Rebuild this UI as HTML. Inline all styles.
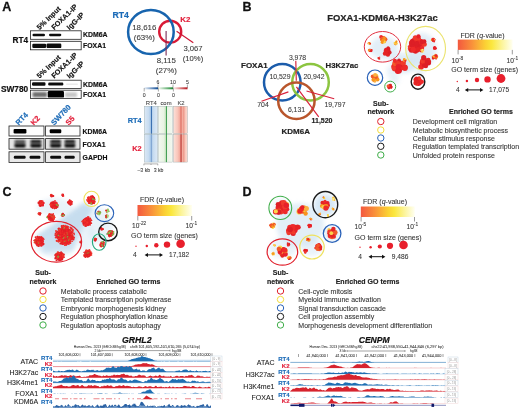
<!DOCTYPE html><html><head><meta charset="utf-8"><title>Figure</title><style>html,body{margin:0;padding:0;background:#fff}svg{display:block}text{font-family:"Liberation Sans", sans-serif}</style></head><body>
<svg width="520" height="408" viewBox="0 0 520 408">
<defs>
<filter id="b3" x="-20%" y="-50%" width="140%" height="200%"><feGaussianBlur stdDeviation="0.5"/></filter>
<filter id="b5" x="-20%" y="-50%" width="140%" height="200%"><feGaussianBlur stdDeviation="0.65"/></filter>
<filter id="b6" x="-20%" y="-50%" width="140%" height="200%"><feGaussianBlur stdDeviation="0.9"/></filter>
<filter id="hz" x="-30%" y="-30%" width="160%" height="160%"><feGaussianBlur stdDeviation="2.2"/></filter>
<filter id="soft" x="-30%" y="-30%" width="160%" height="160%"><feGaussianBlur stdDeviation="0.35"/></filter>
<linearGradient id="fdr" x1="0" x2="1" y1="0" y2="0"><stop offset="0" stop-color="#f3583f"/><stop offset="0.25" stop-color="#f98f3b"/><stop offset="0.5" stop-color="#fbd034"/><stop offset="0.62" stop-color="#fbe73e"/><stop offset="0.82" stop-color="#fcf5a0"/><stop offset="1" stop-color="#fffff2"/></linearGradient>
<linearGradient id="cbB" x1="0" x2="1"><stop offset="0" stop-color="#eef4fa"/><stop offset="1" stop-color="#0d4a94"/></linearGradient>
<linearGradient id="cbG" x1="0" x2="1"><stop offset="0" stop-color="#f2f9ef"/><stop offset="1" stop-color="#1c8a34"/></linearGradient>
<linearGradient id="cbR" x1="0" x2="1"><stop offset="0" stop-color="#fdeeea"/><stop offset="1" stop-color="#b5121b"/></linearGradient>
<linearGradient id="hmB" x1="0" x2="1"><stop offset="0" stop-color="#dde9f5"/><stop offset="0.35" stop-color="#c6dbf0"/><stop offset="0.5" stop-color="#9dc0e4"/><stop offset="0.65" stop-color="#c6dbf0"/><stop offset="1" stop-color="#dfeaf6"/></linearGradient>
<linearGradient id="hmG" x1="0" x2="1"><stop offset="0" stop-color="#f3f8f0"/><stop offset="0.4" stop-color="#e8f3e3"/><stop offset="0.5" stop-color="#c4e2bd"/><stop offset="0.6" stop-color="#e8f3e3"/><stop offset="1" stop-color="#f3f8f0"/></linearGradient>
<linearGradient id="hmR" x1="0" x2="1"><stop offset="0" stop-color="#fce1da"/><stop offset="0.3" stop-color="#f9c6ba"/><stop offset="0.52" stop-color="#f1a092"/><stop offset="0.75" stop-color="#f7baac"/><stop offset="1" stop-color="#fcdcd4"/></linearGradient>
</defs>
<rect width="520" height="408" fill="#fff"/>
<text x="2.3" y="11.1" font-size="12.5" font-weight="bold" fill="#111" text-anchor="start" stroke="#111" stroke-width="0.27">A</text>
<text x="242.4" y="11" font-size="12.5" font-weight="bold" fill="#111" text-anchor="start" stroke="#111" stroke-width="0.27">B</text>
<text x="2.5" y="195.7" font-size="12.5" font-weight="bold" fill="#111" text-anchor="start" stroke="#111" stroke-width="0.27">C</text>
<text x="242.5" y="195.9" font-size="12.5" font-weight="bold" fill="#111" text-anchor="start" stroke="#111" stroke-width="0.27">D</text>
<text x="39.6" y="30.2" font-size="7.2" font-weight="bold" fill="#111" text-anchor="start" stroke="#111" stroke-width="0.16" transform="rotate(-44 39.6 30.2)">5% Input</text>
<text x="54.2" y="30.2" font-size="7.2" font-weight="bold" fill="#111" text-anchor="start" stroke="#111" stroke-width="0.16" transform="rotate(-44 54.2 30.2)">FOXA1-IP</text>
<text x="69.6" y="30.2" font-size="7.2" font-weight="bold" fill="#111" text-anchor="start" stroke="#111" stroke-width="0.16" transform="rotate(-44 69.6 30.2)">IgG-IP</text>
<rect x="30.5" y="30.8" width="50.7" height="8.499999999999996" fill="#fff" stroke="#222" stroke-width="0.8"/>
<rect x="32.5" y="33.75" width="12.5" height="2.5" rx="1.2" fill="#111" opacity="1" filter="url(#b3)"/>
<rect x="49" y="33.85" width="12.299999999999997" height="2.3" rx="1.15" fill="#111" opacity="1" filter="url(#b3)"/>
<rect x="30.5" y="41.3" width="50.7" height="8.5" fill="#fff" stroke="#222" stroke-width="0.8"/>
<rect x="32.3" y="43.65" width="13.900000000000006" height="4.3" rx="1.2" fill="#111" opacity="1" filter="url(#b3)"/>
<rect x="46.6" y="43.5" width="14.699999999999996" height="4.6" rx="1.2" fill="#111" opacity="1" filter="url(#b3)"/>
<text x="83" y="37.4" font-size="6.9" font-weight="bold" fill="#111" text-anchor="start" stroke="#111" stroke-width="0.15">KDM6A</text>
<text x="83" y="48" font-size="6.9" font-weight="bold" fill="#111" text-anchor="start" stroke="#111" stroke-width="0.15">FOXA1</text>
<text x="28.2" y="43" font-size="8.3" font-weight="bold" fill="#111" text-anchor="end" stroke="#111" stroke-width="0.18">RT4</text>
<text x="39.6" y="78.8" font-size="7.2" font-weight="bold" fill="#111" text-anchor="start" stroke="#111" stroke-width="0.16" transform="rotate(-44 39.6 78.8)">5% Input</text>
<text x="54.2" y="78.8" font-size="7.2" font-weight="bold" fill="#111" text-anchor="start" stroke="#111" stroke-width="0.16" transform="rotate(-44 54.2 78.8)">FOXA1-IP</text>
<text x="69.6" y="78.8" font-size="7.2" font-weight="bold" fill="#111" text-anchor="start" stroke="#111" stroke-width="0.16" transform="rotate(-44 69.6 78.8)">IgG-IP</text>
<rect x="30.5" y="80.2" width="50.7" height="8.200000000000003" fill="#fff" stroke="#222" stroke-width="0.8"/>
<rect x="32" y="82.3" width="13.5" height="3.4" rx="1.2" fill="#111" opacity="1" filter="url(#b3)"/>
<rect x="48.2" y="82.5" width="15.099999999999994" height="3" rx="1.2" fill="#111" opacity="1" filter="url(#b3)"/>
<rect x="66" y="83.5" width="12" height="1.6" rx="0.8" fill="#999" opacity="0.2" filter="url(#b3)"/>
<rect x="30.5" y="90.2" width="50.7" height="8.299999999999997" fill="#fff" stroke="#222" stroke-width="0.8"/>
<rect x="32.5" y="91.89999999999999" width="14.5" height="5.4" rx="1.2" fill="#333" opacity="0.7" filter="url(#b6)"/>
<rect x="47.8" y="91.0" width="16.200000000000003" height="6.6" rx="1.2" fill="#050505" opacity="1" filter="url(#b5)"/>
<rect x="65" y="92.3" width="12" height="5" rx="1.2" fill="#999" opacity="0.55" filter="url(#b6)"/>
<text x="83" y="86.6" font-size="6.9" font-weight="bold" fill="#111" text-anchor="start" stroke="#111" stroke-width="0.15">KDM6A</text>
<text x="83" y="96.8" font-size="6.9" font-weight="bold" fill="#111" text-anchor="start" stroke="#111" stroke-width="0.15">FOXA1</text>
<text x="28.2" y="92" font-size="8.3" font-weight="bold" fill="#111" text-anchor="end" stroke="#111" stroke-width="0.18">SW780</text>
<text x="18.8" y="125.8" font-size="7.6" font-weight="bold" fill="#1d6cb8" text-anchor="start" stroke="#1d6cb8" stroke-width="0.17" transform="rotate(-47 18.8 125.8)">RT4</text>
<text x="33.8" y="125.8" font-size="7.6" font-weight="bold" fill="#e21f3a" text-anchor="start" stroke="#e21f3a" stroke-width="0.17" transform="rotate(-47 33.8 125.8)">K2</text>
<text x="54.3" y="125.8" font-size="7.6" font-weight="bold" fill="#1d6cb8" text-anchor="start" stroke="#1d6cb8" stroke-width="0.17" transform="rotate(-47 54.3 125.8)">SW780</text>
<text x="68.8" y="125.8" font-size="7.6" font-weight="bold" fill="#e21f3a" text-anchor="start" stroke="#e21f3a" stroke-width="0.17" transform="rotate(-47 68.8 125.8)">S5</text>
<rect x="9" y="126" width="35" height="10" fill="#fdfdfd" stroke="#222" stroke-width="0.8"/>
<rect x="45.6" y="126" width="34.4" height="10" fill="#fdfdfd" stroke="#222" stroke-width="0.8"/>
<rect x="13.6" y="128.89999999999998" width="12.799999999999999" height="4.6" rx="1.2" fill="#050505" opacity="1" filter="url(#b3)"/>
<rect x="49.7" y="129.2" width="11.599999999999994" height="4" rx="1.2" fill="#050505" opacity="1" filter="url(#b3)"/>
<rect x="9" y="138.6" width="35" height="10.599999999999994" fill="#e4e4e4" stroke="#222" stroke-width="0.8"/>
<rect x="45.6" y="138.6" width="34.4" height="10.599999999999994" fill="#e4e4e4" stroke="#222" stroke-width="0.8"/>
<rect x="14.5" y="140.0" width="11.0" height="3.0" rx="1.2" fill="#111" opacity="0.7" filter="url(#b6)"/>
<rect x="14.5" y="143.7" width="11.0" height="3.8" rx="1.2" fill="#050505" opacity="1" filter="url(#b6)"/>
<rect x="15.0" y="142.4" width="10.0" height="2.4" rx="1.2" fill="#333" opacity="0.7" filter="url(#b6)"/>
<rect x="30.5" y="140.0" width="10.799999999999997" height="3.0" rx="1.2" fill="#111" opacity="1" filter="url(#b6)"/>
<rect x="30.5" y="143.7" width="10.799999999999997" height="3.8" rx="1.2" fill="#050505" opacity="1" filter="url(#b6)"/>
<rect x="31.0" y="142.4" width="9.799999999999997" height="2.4" rx="1.2" fill="#333" opacity="0.7" filter="url(#b6)"/>
<rect x="50.3" y="140.0" width="10.700000000000003" height="3.0" rx="1.2" fill="#111" opacity="1" filter="url(#b6)"/>
<rect x="50.3" y="143.7" width="10.700000000000003" height="3.8" rx="1.2" fill="#050505" opacity="1" filter="url(#b6)"/>
<rect x="50.8" y="142.4" width="9.700000000000003" height="2.4" rx="1.2" fill="#333" opacity="0.7" filter="url(#b6)"/>
<rect x="64.6" y="140.0" width="10.600000000000009" height="3.0" rx="1.2" fill="#111" opacity="1" filter="url(#b6)"/>
<rect x="64.6" y="143.7" width="10.600000000000009" height="3.8" rx="1.2" fill="#050505" opacity="1" filter="url(#b6)"/>
<rect x="65.1" y="142.4" width="9.600000000000009" height="2.4" rx="1.2" fill="#333" opacity="0.7" filter="url(#b6)"/>
<rect x="9" y="151.8" width="35" height="10.599999999999994" fill="#e9e9e9" stroke="#222" stroke-width="0.8"/>
<rect x="45.6" y="151.8" width="34.4" height="10.599999999999994" fill="#e9e9e9" stroke="#222" stroke-width="0.8"/>
<rect x="13.8" y="155.7" width="11.8" height="3" rx="1.2" fill="#0a0a0a" opacity="1" filter="url(#b5)"/>
<rect x="29.6" y="155.7" width="10.799999999999997" height="3" rx="1.2" fill="#0a0a0a" opacity="1" filter="url(#b5)"/>
<rect x="50.2" y="155.7" width="11.0" height="3" rx="1.2" fill="#0a0a0a" opacity="1" filter="url(#b5)"/>
<rect x="64.5" y="155.7" width="10.200000000000003" height="3" rx="1.2" fill="#0a0a0a" opacity="1" filter="url(#b5)"/>
<text x="82.6" y="133.8" font-size="6.9" font-weight="bold" fill="#111" text-anchor="start" stroke="#111" stroke-width="0.15">KDM6A</text>
<text x="82.6" y="146.6" font-size="6.9" font-weight="bold" fill="#111" text-anchor="start" stroke="#111" stroke-width="0.15">FOXA1</text>
<text x="82.6" y="159.8" font-size="6.9" font-weight="bold" fill="#111" text-anchor="start" stroke="#111" stroke-width="0.15">GAPDH</text>
<ellipse cx="170.2" cy="31.7" rx="11" ry="11" fill="none" stroke="#d91a36" stroke-width="2.4"/>
<ellipse cx="150.9" cy="32" rx="22.8" ry="22" fill="none" stroke="#1764ae" stroke-width="2.5"/>
<line x1="166.1" y1="31" x2="166.1" y2="55.5" stroke="#7a2a55" stroke-width="1.1"/>
<line x1="176.6" y1="31.3" x2="193.3" y2="42.8" stroke="#cc1432" stroke-width="1.1"/>
<text x="112.5" y="17.6" font-size="8.7" font-weight="bold" fill="#1d6cb8" text-anchor="start" stroke="#1d6cb8" stroke-width="0.19">RT4</text>
<text x="180.3" y="21.8" font-size="7.9" font-weight="bold" fill="#e21f3a" text-anchor="start" stroke="#e21f3a" stroke-width="0.17">K2</text>
<text x="144.3" y="30.4" font-size="7.9" font-weight="normal" fill="#3a3a3a" text-anchor="middle" stroke="#3a3a3a" stroke-width="0.09">18,616</text>
<text x="144.3" y="40" font-size="7.9" font-weight="normal" fill="#3a3a3a" text-anchor="middle" stroke="#3a3a3a" stroke-width="0.09">(63%)</text>
<text x="193" y="51.2" font-size="7.7" font-weight="normal" fill="#3a3a3a" text-anchor="middle" stroke="#3a3a3a" stroke-width="0.09">3,067</text>
<text x="193" y="60.9" font-size="7.7" font-weight="normal" fill="#3a3a3a" text-anchor="middle" stroke="#3a3a3a" stroke-width="0.09">(10%)</text>
<text x="166.3" y="63.2" font-size="7.9" font-weight="normal" fill="#3a3a3a" text-anchor="middle" stroke="#3a3a3a" stroke-width="0.09">8,115</text>
<text x="166.3" y="72.6" font-size="7.9" font-weight="normal" fill="#3a3a3a" text-anchor="middle" stroke="#3a3a3a" stroke-width="0.09">(27%)</text>
<rect x="144" y="87.3" width="14" height="2" fill="url(#cbB)"/>
<rect x="158.5" y="87.3" width="14.5" height="2" fill="url(#cbG)"/>
<rect x="173.5" y="87.3" width="14" height="2" fill="url(#cbR)"/>
<line x1="144.2" y1="88" x2="144.2" y2="91.5" stroke="#555" stroke-width="0.5"/>
<line x1="158.4" y1="88" x2="158.4" y2="91.5" stroke="#555" stroke-width="0.5"/>
<line x1="173.4" y1="88" x2="173.4" y2="91.5" stroke="#555" stroke-width="0.5"/>
<line x1="158" y1="84.5" x2="158" y2="88" stroke="#555" stroke-width="0.5"/>
<line x1="173" y1="84.5" x2="173" y2="88" stroke="#555" stroke-width="0.5"/>
<line x1="187.4" y1="84.5" x2="187.4" y2="88" stroke="#555" stroke-width="0.5"/>
<text x="158" y="83.6" font-size="5.2" font-weight="normal" fill="#333" text-anchor="middle" stroke="#333" stroke-width="0.06">6</text>
<text x="173" y="83.6" font-size="5.2" font-weight="normal" fill="#333" text-anchor="middle" stroke="#333" stroke-width="0.06">10</text>
<text x="187.4" y="83.6" font-size="5.2" font-weight="normal" fill="#333" text-anchor="middle" stroke="#333" stroke-width="0.06">5</text>
<text x="144.2" y="97.3" font-size="5.2" font-weight="normal" fill="#333" text-anchor="middle" stroke="#333" stroke-width="0.06">0</text>
<text x="158.4" y="97.3" font-size="5.2" font-weight="normal" fill="#333" text-anchor="middle" stroke="#333" stroke-width="0.06">0</text>
<text x="173.4" y="97.3" font-size="5.2" font-weight="normal" fill="#333" text-anchor="middle" stroke="#333" stroke-width="0.06">0</text>
<text x="151.3" y="105.3" font-size="5.9" font-weight="normal" fill="#444" text-anchor="middle" stroke="#444" stroke-width="0.07">RT4</text>
<text x="166" y="105.3" font-size="5.9" font-weight="normal" fill="#444" text-anchor="middle" stroke="#444" stroke-width="0.07">com</text>
<text x="181" y="105.3" font-size="5.9" font-weight="normal" fill="#444" text-anchor="middle" stroke="#444" stroke-width="0.07">K2</text>
<rect x="144.2" y="106.2" width="13.600000000000023" height="27.5" fill="url(#hmB)" stroke="#9aa" stroke-width="0.4"/>
<rect x="144.2" y="134.2" width="13.600000000000023" height="27.9" fill="url(#hmB)" stroke="#9aa" stroke-width="0.4"/>
<rect x="158.6" y="106.2" width="13.700000000000017" height="27.5" fill="url(#hmG)" stroke="#9aa" stroke-width="0.4"/>
<rect x="158.6" y="134.2" width="13.700000000000017" height="27.9" fill="url(#hmG)" stroke="#9aa" stroke-width="0.4"/>
<rect x="173.3" y="106.2" width="14.299999999999983" height="27.5" fill="url(#hmR)" stroke="#9aa" stroke-width="0.4"/>
<rect x="173.3" y="134.2" width="14.299999999999983" height="27.9" fill="url(#hmR)" stroke="#9aa" stroke-width="0.4"/>
<rect x="151.05" y="106.2" width="0.9" height="27.5" fill="#2a62a8" opacity="0.95"/>
<rect x="151.1" y="134.2" width="0.8" height="27.9" fill="#5b86bd" opacity="0.6"/>
<rect x="166.05" y="106.2" width="0.9" height="55.9" fill="#2a9240" opacity="0.95"/>
<rect x="180.4" y="106.2" width="1.2" height="27.5" fill="#d9665b" opacity="0.75"/>
<rect x="180.5" y="134.2" width="1.1" height="27.9" fill="#b5322e" opacity="0.95"/>
<rect x="183.4" y="106.2" width="0.9" height="55.9" fill="#d9594f" opacity="0.45"/>
<text x="141.6" y="122.6" font-size="7.4" font-weight="bold" fill="#1d6cb8" text-anchor="end" stroke="#1d6cb8" stroke-width="0.16">RT4</text>
<text x="141.6" y="150.6" font-size="7.4" font-weight="bold" fill="#e21f3a" text-anchor="end" stroke="#e21f3a" stroke-width="0.16">K2</text>
<path d="M143.9 163.8 v1.6 M151 163.8 v1.2 M157.8 163.8 v1.6 M143.9 163.9 H157.8" stroke="#555" stroke-width="0.45" fill="none"/>
<text x="143.8" y="172.1" font-size="5.2" font-weight="normal" fill="#333" text-anchor="middle" stroke="#333" stroke-width="0.06">–3 kb</text>
<text x="158.6" y="172.1" font-size="5.2" font-weight="normal" fill="#333" text-anchor="middle" stroke="#333" stroke-width="0.06">3 kb</text>
<text x="327.2" y="21.3" font-size="9.4" font-weight="bold" fill="#222" text-anchor="start" stroke="#222" stroke-width="0.21">FOXA1-KDM6A-H3K27ac</text>
<circle cx="282.3" cy="82.3" r="18.3" fill="none" stroke="#1b5cab" stroke-width="2.5"/>
<circle cx="310.5" cy="82.3" r="18.3" fill="none" stroke="#8cc540" stroke-width="2.5"/>
<circle cx="296.4" cy="100.8" r="18.2" fill="none" stroke="#b9562c" stroke-width="2.5"/>
<line x1="295.8" y1="60.8" x2="296.3" y2="80.7" stroke="#d8203a" stroke-width="1.15"/>
<line x1="261.5" y1="101.3" x2="288.4" y2="91.9" stroke="#d8203a" stroke-width="1.15"/>
<line x1="334.2" y1="98.7" x2="306.5" y2="91" stroke="#d8203a" stroke-width="1.15"/>
<line x1="318.7" y1="116.9" x2="296.4" y2="86.8" stroke="#d8203a" stroke-width="1.15"/>
<text x="241" y="67.6" font-size="8" font-weight="bold" fill="#222" text-anchor="start" stroke="#222" stroke-width="0.18">FOXA1</text>
<text x="325.5" y="67.6" font-size="7.8" font-weight="bold" fill="#222" text-anchor="start" stroke="#222" stroke-width="0.17">H3K27ac</text>
<text x="281.5" y="134.4" font-size="8" font-weight="bold" fill="#222" text-anchor="start" stroke="#222" stroke-width="0.18">KDM6A</text>
<text x="297.5" y="59.6" font-size="6.9" font-weight="normal" fill="#3a3a3a" text-anchor="middle" stroke="#3a3a3a" stroke-width="0.08">3,978</text>
<text x="280" y="79.4" font-size="6.9" font-weight="normal" fill="#3a3a3a" text-anchor="middle" stroke="#3a3a3a" stroke-width="0.08">10,529</text>
<text x="314" y="79.4" font-size="6.9" font-weight="normal" fill="#3a3a3a" text-anchor="middle" stroke="#3a3a3a" stroke-width="0.08">20,942</text>
<text x="263" y="107.4" font-size="6.9" font-weight="normal" fill="#3a3a3a" text-anchor="middle" stroke="#3a3a3a" stroke-width="0.08">704</text>
<text x="335" y="107.4" font-size="6.9" font-weight="normal" fill="#3a3a3a" text-anchor="middle" stroke="#3a3a3a" stroke-width="0.08">19,797</text>
<text x="296.5" y="112" font-size="6.9" font-weight="normal" fill="#3a3a3a" text-anchor="middle" stroke="#3a3a3a" stroke-width="0.08">6,131</text>
<text x="322" y="123.2" font-size="7" font-weight="bold" fill="#222" text-anchor="middle" stroke="#222" stroke-width="0.15">11,520</text>
<ellipse cx="384" cy="48" rx="14" ry="11" fill="#cfe3f3" opacity="0.6" filter="url(#hz)" transform="rotate(0 384 48)"/>
<ellipse cx="422" cy="50" rx="15" ry="17" fill="#cfe3f3" opacity="0.6" filter="url(#hz)" transform="rotate(0 422 50)"/>
<ellipse cx="403" cy="62" rx="14" ry="9" fill="#cfe3f3" opacity="0.6" filter="url(#hz)" transform="rotate(20 403 62)"/>
<ellipse cx="393" cy="75" rx="5" ry="10" fill="#cfe3f3" opacity="0.5" filter="url(#hz)" transform="rotate(-25 393 75)"/>
<ellipse cx="412" cy="62" rx="20" ry="8" fill="#cfe3f3" opacity="0.4" filter="url(#hz)" transform="rotate(-30 412 62)"/>
<ellipse cx="420" cy="72" rx="4" ry="7" fill="#cfe3f3" opacity="0.45" filter="url(#hz)" transform="rotate(0 420 72)"/>
<g><circle cx="416.3" cy="43.8" r="6.9" fill="#e8202a"/><circle cx="421.5" cy="49.7" r="2.6" fill="#e52424"/><circle cx="421.8" cy="48.8" r="2.3" fill="#f03a2c"/><circle cx="416.9" cy="41.5" r="1.8" fill="#f03a2c"/><circle cx="409.5" cy="46.8" r="1.8" fill="#f03a2c"/><circle cx="415.5" cy="51.4" r="2.4" fill="#e8202a"/><circle cx="417.3" cy="43.1" r="1.8" fill="#dd1f26"/><circle cx="424.3" cy="44.3" r="2.5" fill="#f03a2c"/><circle cx="415.4" cy="37.8" r="2.6" fill="#f03a2c"/><circle cx="411.8" cy="42.2" r="2.5" fill="#f03a2c"/><circle cx="424.2" cy="41.4" r="2.2" fill="#dd1f26"/><circle cx="418.4" cy="42.7" r="2.5" fill="#e52424"/><circle cx="419.7" cy="47.0" r="2.6" fill="#dd1f26"/><circle cx="421.2" cy="41.7" r="2.7" fill="#ee2a2a"/><circle cx="414.2" cy="49.9" r="2.8" fill="#dd1f26"/><circle cx="410.1" cy="48.7" r="2.3" fill="#f03a2c"/><circle cx="413.5" cy="45.5" r="2.4" fill="#e52424"/><circle cx="422.2" cy="47.3" r="1.9" fill="#ee2a2a"/><circle cx="411.2" cy="43.1" r="2.3" fill="#e8202a"/><circle cx="411.9" cy="44.7" r="2.7" fill="#dd1f26"/><circle cx="412.0" cy="41.0" r="2.0" fill="#dd1f26"/><circle cx="416.4" cy="44.6" r="2.0" fill="#dd1f26"/><circle cx="417.0" cy="49.7" r="2.8" fill="#dd1f26"/><circle cx="411.4" cy="50.3" r="2.5" fill="#dd1f26"/><circle cx="416.8" cy="43.7" r="2.6" fill="#dd1f26"/><circle cx="418.5" cy="38.2" r="2.4" fill="#f03a2c"/><circle cx="421.8" cy="42.0" r="2.2" fill="#dd1f26"/><circle cx="418.1" cy="49.4" r="2.3" fill="#e52424"/><circle cx="416.1" cy="43.9" r="2.4" fill="#dd1f26"/><circle cx="413.1" cy="49.5" r="2.7" fill="#ee2a2a"/><circle cx="413.1" cy="42.7" r="1.9" fill="#dd1f26"/><circle cx="418.5" cy="36.4" r="2.1" fill="#e8202a"/></g>
<g><circle cx="424.2" cy="62.8" r="4.6" fill="#e8202a"/><circle cx="429.2" cy="61.4" r="1.9" fill="#e8202a"/><circle cx="422.9" cy="64.4" r="2.7" fill="#e52424"/><circle cx="424.2" cy="65.1" r="1.8" fill="#ee2a2a"/><circle cx="428.4" cy="62.8" r="2.7" fill="#dd1f26"/><circle cx="427.9" cy="61.6" r="2.3" fill="#e52424"/><circle cx="428.3" cy="59.9" r="2.2" fill="#e52424"/><circle cx="427.0" cy="61.0" r="2.8" fill="#ee2a2a"/><circle cx="421.9" cy="61.9" r="1.8" fill="#e52424"/><circle cx="425.9" cy="66.1" r="2.2" fill="#dd1f26"/><circle cx="423.2" cy="60.9" r="2.8" fill="#f03a2c"/><circle cx="423.7" cy="57.7" r="2.6" fill="#dd1f26"/><circle cx="421.0" cy="67.0" r="2.8" fill="#ee2a2a"/><circle cx="427.3" cy="61.9" r="2.6" fill="#dd1f26"/><circle cx="424.2" cy="65.5" r="2.3" fill="#dd1f26"/></g>
<g><circle cx="399.3" cy="65.7" r="5.5" fill="#e8202a"/><circle cx="399.7" cy="70.4" r="2.2" fill="#dd1f26"/><circle cx="394.5" cy="66.5" r="2.5" fill="#e52424"/><circle cx="399.1" cy="68.7" r="2.9" fill="#e52424"/><circle cx="394.7" cy="64.5" r="2.2" fill="#e52424"/><circle cx="399.6" cy="68.0" r="2.8" fill="#ee2a2a"/><circle cx="399.0" cy="60.4" r="1.9" fill="#dd1f26"/><circle cx="404.9" cy="67.2" r="2.7" fill="#dd1f26"/><circle cx="393.9" cy="66.6" r="2.7" fill="#ee2a2a"/><circle cx="394.7" cy="69.3" r="2.3" fill="#e52424"/><circle cx="400.6" cy="64.4" r="1.9" fill="#f03a2c"/><circle cx="399.0" cy="71.0" r="2.6" fill="#dd1f26"/><circle cx="394.0" cy="68.5" r="2.4" fill="#f03a2c"/><circle cx="395.1" cy="63.2" r="2.8" fill="#f15a29"/><circle cx="400.1" cy="65.2" r="2.1" fill="#dd1f26"/><circle cx="398.1" cy="63.6" r="2.7" fill="#f03a2c"/><circle cx="403.3" cy="63.0" r="2.6" fill="#f03a2c"/><circle cx="394.9" cy="60.8" r="2.1" fill="#ee2a2a"/><circle cx="404.9" cy="68.0" r="2.9" fill="#ee2a2a"/><circle cx="398.5" cy="66.9" r="2.8" fill="#e8202a"/><circle cx="397.7" cy="71.2" r="2.7" fill="#e8202a"/></g>
<g><circle cx="404.6" cy="60.2" r="1.3" fill="#f7941e"/><circle cx="404.1" cy="61.3" r="0.6" fill="#fcd34a"/><circle cx="405.8" cy="60.3" r="0.6" fill="#f7941e"/><circle cx="404.4" cy="59.6" r="0.8" fill="#ee2a2a"/><circle cx="405.8" cy="60.0" r="0.9" fill="#f7941e"/><circle cx="404.4" cy="58.9" r="0.9" fill="#fbb040"/><circle cx="403.8" cy="59.2" r="0.9" fill="#f7941e"/><circle cx="404.5" cy="59.0" r="0.7" fill="#f7941e"/><circle cx="405.1" cy="59.1" r="0.7" fill="#fcd34a"/><circle cx="405.3" cy="60.9" r="1.0" fill="#ee2a2a"/></g>
<g><circle cx="387.1" cy="51" r="3.4" fill="#e8202a"/><circle cx="387.2" cy="52.1" r="1.8" fill="#ee2a2a"/><circle cx="387.5" cy="51.2" r="1.9" fill="#e52424"/><circle cx="388.1" cy="47.9" r="1.6" fill="#dd1f26"/><circle cx="385.0" cy="53.6" r="2.2" fill="#e52424"/><circle cx="387.9" cy="54.6" r="2.2" fill="#e52424"/><circle cx="387.6" cy="49.5" r="1.7" fill="#e52424"/><circle cx="389.6" cy="52.5" r="2.0" fill="#dd1f26"/><circle cx="387.1" cy="52.8" r="1.7" fill="#dd1f26"/><circle cx="387.2" cy="50.8" r="1.7" fill="#e52424"/><circle cx="388.6" cy="48.8" r="1.8" fill="#dd1f26"/><circle cx="386.5" cy="53.4" r="1.6" fill="#e52424"/></g>
<g><circle cx="383.2" cy="38.9" r="3.0" fill="#f15a29"/><circle cx="381.1" cy="36.9" r="1.9" fill="#ee2a2a"/><circle cx="385.4" cy="39.3" r="2.0" fill="#f15a29"/><circle cx="384.0" cy="38.3" r="1.7" fill="#f7941e"/><circle cx="382.5" cy="39.6" r="1.5" fill="#f7941e"/><circle cx="382.1" cy="39.6" r="2.0" fill="#fcd34a"/><circle cx="384.8" cy="41.5" r="1.4" fill="#ee2a2a"/><circle cx="382.1" cy="39.3" r="2.0" fill="#f15a29"/><circle cx="383.6" cy="40.3" r="2.1" fill="#f7941e"/><circle cx="382.4" cy="42.2" r="1.7" fill="#f7941e"/><circle cx="384.6" cy="42.0" r="1.4" fill="#fcd34a"/><circle cx="382.6" cy="40.8" r="1.4" fill="#f7941e"/></g>
<g><circle cx="395.8" cy="43" r="1.5" fill="#f7941e"/><circle cx="396.2" cy="41.5" r="0.9" fill="#fbb040"/><circle cx="396.4" cy="43.1" r="0.9" fill="#fcd34a"/><circle cx="394.7" cy="44.1" r="0.8" fill="#f7941e"/><circle cx="395.7" cy="41.9" r="0.9" fill="#fcd34a"/><circle cx="396.9" cy="43.7" r="0.9" fill="#fcd34a"/><circle cx="395.6" cy="44.6" r="0.9" fill="#fbb040"/><circle cx="395.6" cy="43.4" r="1.0" fill="#fbb040"/><circle cx="395.3" cy="43.2" r="0.7" fill="#fcd34a"/><circle cx="395.9" cy="42.5" r="0.7" fill="#f7941e"/><circle cx="396.6" cy="41.5" r="0.9" fill="#f7941e"/><circle cx="394.4" cy="42.9" r="0.9" fill="#fcd34a"/></g>
<g><circle cx="370.3" cy="50.4" r="1.7" fill="#e8202a"/><circle cx="370.0" cy="51.0" r="1.0" fill="#e8202a"/><circle cx="370.5" cy="49.9" r="1.0" fill="#fbb040"/><circle cx="370.4" cy="50.9" r="0.9" fill="#ee2a2a"/><circle cx="371.3" cy="51.0" r="1.1" fill="#e8202a"/><circle cx="371.7" cy="49.9" r="1.0" fill="#e8202a"/><circle cx="369.3" cy="49.9" r="1.1" fill="#e8202a"/><circle cx="369.7" cy="50.2" r="0.9" fill="#fbb040"/><circle cx="371.0" cy="51.1" r="1.1" fill="#ee2a2a"/><circle cx="371.4" cy="51.3" r="0.8" fill="#e8202a"/><circle cx="369.9" cy="50.3" r="0.7" fill="#ee2a2a"/><circle cx="368.9" cy="50.4" r="1.1" fill="#f7941e"/></g>
<g><circle cx="369.5" cy="43.2" r="1.1" fill="#f7941e"/><circle cx="369.7" cy="44.4" r="0.6" fill="#f7941e"/><circle cx="370.0" cy="43.5" r="1.0" fill="#fbb040"/><circle cx="369.4" cy="43.3" r="0.8" fill="#ee2a2a"/><circle cx="369.0" cy="43.2" r="0.9" fill="#f7941e"/><circle cx="368.5" cy="43.3" r="0.9" fill="#ee2a2a"/><circle cx="368.4" cy="43.4" r="0.9" fill="#fcd34a"/><circle cx="370.4" cy="43.8" r="0.7" fill="#ee2a2a"/></g>
<g><circle cx="378.9" cy="58" r="1.0" fill="#e8202a"/><circle cx="378.3" cy="58.1" r="0.6" fill="#e8202a"/><circle cx="378.5" cy="58.6" r="0.8" fill="#e52424"/><circle cx="378.1" cy="57.7" r="0.6" fill="#f03a2c"/><circle cx="379.4" cy="58.9" r="0.9" fill="#f03a2c"/><circle cx="379.2" cy="58.4" r="0.6" fill="#dd1f26"/><circle cx="379.7" cy="57.2" r="0.6" fill="#f03a2c"/></g>
<g><circle cx="433.5" cy="39.6" r="1.8" fill="#e8202a"/><circle cx="432.4" cy="39.1" r="1.0" fill="#ee2a2a"/><circle cx="432.2" cy="39.9" r="0.9" fill="#ee2a2a"/><circle cx="434.8" cy="39.9" r="0.8" fill="#e52424"/><circle cx="433.9" cy="39.6" r="1.1" fill="#fbb040"/><circle cx="432.7" cy="40.6" r="1.1" fill="#f15a29"/><circle cx="431.9" cy="40.0" r="1.0" fill="#ee2a2a"/><circle cx="431.7" cy="40.1" r="0.9" fill="#f7941e"/><circle cx="433.2" cy="39.4" r="0.8" fill="#ee2a2a"/><circle cx="434.1" cy="41.4" r="1.0" fill="#ee2a2a"/><circle cx="432.9" cy="40.9" r="0.9" fill="#e8202a"/><circle cx="432.9" cy="38.7" r="1.0" fill="#ee2a2a"/></g>
<g><circle cx="435.2" cy="48.2" r="1.5" fill="#e8202a"/><circle cx="434.0" cy="48.6" r="1.0" fill="#f03a2c"/><circle cx="433.7" cy="48.7" r="0.7" fill="#dd1f26"/><circle cx="433.9" cy="48.4" r="0.7" fill="#f03a2c"/><circle cx="435.0" cy="48.6" r="1.0" fill="#e8202a"/><circle cx="434.3" cy="47.6" r="0.8" fill="#dd1f26"/><circle cx="434.4" cy="47.1" r="1.0" fill="#e8202a"/><circle cx="435.9" cy="48.5" r="0.8" fill="#e8202a"/><circle cx="435.4" cy="47.3" r="0.9" fill="#ee2a2a"/><circle cx="433.8" cy="48.0" r="0.9" fill="#e8202a"/><circle cx="434.4" cy="48.4" r="1.1" fill="#e8202a"/><circle cx="435.0" cy="47.3" r="0.8" fill="#e52424"/></g>
<g><circle cx="434.9" cy="56.8" r="2.1" fill="#e8202a"/><circle cx="433.0" cy="57.1" r="1.3" fill="#ee2a2a"/><circle cx="433.1" cy="58.4" r="1.2" fill="#e52424"/><circle cx="435.6" cy="55.0" r="1.2" fill="#fbb040"/><circle cx="436.8" cy="56.8" r="1.4" fill="#f15a29"/><circle cx="436.1" cy="58.7" r="0.9" fill="#ee2a2a"/><circle cx="436.6" cy="57.7" r="1.1" fill="#f7941e"/><circle cx="435.1" cy="56.2" r="1.4" fill="#e52424"/><circle cx="434.3" cy="56.8" r="1.4" fill="#f7941e"/><circle cx="436.0" cy="57.8" r="1.0" fill="#f15a29"/><circle cx="436.2" cy="55.6" r="1.4" fill="#e8202a"/><circle cx="433.3" cy="56.2" r="0.9" fill="#fbb040"/></g>
<g><circle cx="422.2" cy="50.8" r="1.3" fill="#fcd34a"/><circle cx="422.1" cy="52.0" r="0.8" fill="#fcd34a"/><circle cx="421.5" cy="49.8" r="0.9" fill="#fbb040"/><circle cx="422.2" cy="50.3" r="0.8" fill="#fcd34a"/><circle cx="422.2" cy="50.6" r="0.6" fill="#fbb040"/><circle cx="422.1" cy="50.7" r="0.7" fill="#fcd34a"/><circle cx="423.3" cy="51.5" r="0.9" fill="#fde98a"/><circle cx="422.8" cy="49.7" r="0.9" fill="#fde98a"/><circle cx="421.8" cy="51.3" r="0.9" fill="#fbb040"/><circle cx="421.3" cy="50.4" r="0.7" fill="#fde98a"/><circle cx="421.4" cy="49.9" r="0.7" fill="#fbb040"/></g>
<g><circle cx="375.1" cy="77.5" r="3.3" fill="#f15a29"/><circle cx="377.5" cy="79.4" r="2.0" fill="#f7941e"/><circle cx="374.9" cy="79.3" r="2.0" fill="#fcd34a"/><circle cx="374.1" cy="80.4" r="1.7" fill="#f15a29"/><circle cx="374.8" cy="81.0" r="1.7" fill="#fbb040"/><circle cx="373.2" cy="79.7" r="1.8" fill="#f7941e"/><circle cx="372.3" cy="76.5" r="1.5" fill="#f15a29"/><circle cx="376.6" cy="78.9" r="1.5" fill="#f7941e"/><circle cx="376.4" cy="75.7" r="1.9" fill="#fcd34a"/><circle cx="375.9" cy="76.9" r="2.0" fill="#f15a29"/><circle cx="372.5" cy="76.1" r="1.7" fill="#f15a29"/><circle cx="375.1" cy="75.0" r="2.0" fill="#fbb040"/></g>
<g><circle cx="390" cy="86.2" r="2.2" fill="#e8202a"/><circle cx="390.2" cy="86.2" r="1.3" fill="#ee2a2a"/><circle cx="391.0" cy="85.6" r="1.0" fill="#f15a29"/><circle cx="391.2" cy="87.8" r="1.1" fill="#e8202a"/><circle cx="388.9" cy="87.9" r="1.1" fill="#e52424"/><circle cx="388.7" cy="88.2" r="1.0" fill="#e52424"/><circle cx="390.3" cy="85.2" r="1.4" fill="#dd1f26"/><circle cx="388.4" cy="87.1" r="1.4" fill="#f03a2c"/><circle cx="391.6" cy="87.1" r="1.1" fill="#dd1f26"/><circle cx="389.2" cy="88.1" r="1.2" fill="#e8202a"/><circle cx="387.6" cy="86.3" r="0.9" fill="#ee2a2a"/><circle cx="388.1" cy="85.8" r="1.4" fill="#f15a29"/></g>
<g><circle cx="418.3" cy="81.7" r="4.2" fill="#e8202a"/><circle cx="416.6" cy="83.7" r="1.8" fill="#f03a2c"/><circle cx="421.9" cy="81.8" r="2.1" fill="#ee2a2a"/><circle cx="418.1" cy="81.5" r="1.7" fill="#e52424"/><circle cx="416.4" cy="78.4" r="2.0" fill="#e8202a"/><circle cx="419.2" cy="78.0" r="1.7" fill="#ee2a2a"/><circle cx="419.4" cy="78.8" r="1.5" fill="#f03a2c"/><circle cx="415.7" cy="79.8" r="2.3" fill="#e52424"/><circle cx="416.7" cy="83.6" r="1.5" fill="#f03a2c"/><circle cx="415.6" cy="83.1" r="2.3" fill="#e52424"/><circle cx="416.6" cy="80.8" r="1.5" fill="#e8202a"/><circle cx="416.6" cy="81.4" r="1.6" fill="#e52424"/></g>
<ellipse cx="382.5" cy="46.8" rx="18.2" ry="15.3" fill="none" stroke="#e23040" stroke-width="1.0" transform="rotate(0 382.5 46.8)"/>
<ellipse cx="425.6" cy="48.5" rx="19.9" ry="22.1" fill="none" stroke="#ebe36e" stroke-width="1.1" transform="rotate(0 425.6 48.5)"/>
<ellipse cx="375" cy="77.7" rx="7.7" ry="7.7" fill="none" stroke="#2a62b8" stroke-width="1.2" transform="rotate(0 375 77.7)"/>
<ellipse cx="390.2" cy="86.6" rx="5.5" ry="5.4" fill="none" stroke="#3fae49" stroke-width="1.0" transform="rotate(0 390.2 86.6)"/>
<ellipse cx="418" cy="81.7" rx="6.8" ry="7.6" fill="none" stroke="#1a1a1a" stroke-width="1.4" transform="rotate(0 418 81.7)"/>
<text x="460.5" y="37.6" font-size="7" font-weight="normal" fill="#333" text-anchor="start" stroke="#333" stroke-width="0.08">FDR (<tspan font-style="italic">q</tspan>-value)</text>
<rect x="457.8" y="39.6" width="54.80000000000001" height="10.299999999999997" fill="url(#fdr)"/>
<path d="M458.1 49.9 v4.5 M512.3000000000001 49.9 v4.5" stroke="#555" stroke-width="0.6"/>
<text x="451.5" y="62.6" font-size="6.6" font-weight="normal" fill="#333" text-anchor="start" stroke="#333" stroke-width="0.08">10<tspan font-size="4.8" dy="-2.5">-8</tspan></text>
<text x="506.5" y="62.6" font-size="6.6" font-weight="normal" fill="#333" text-anchor="start" stroke="#333" stroke-width="0.08">10<tspan font-size="4.8" dy="-2.5">-1</tspan></text>
<text x="451.2" y="72.4" font-size="7" font-weight="normal" fill="#333" text-anchor="start" stroke="#333" stroke-width="0.08">GO term size (genes)</text>
<circle cx="457.3" cy="81.5" r="0.7" fill="#e81f2c"/>
<circle cx="466.9" cy="81" r="1.2" fill="#e81f2c"/>
<circle cx="477" cy="80" r="2.2" fill="#e81f2c"/>
<circle cx="487.5" cy="79.4" r="3.2" fill="#e81f2c"/>
<circle cx="501" cy="78.5" r="4.4" fill="#e81f2c"/>
<text x="456" y="92.2" font-size="6.6" font-weight="normal" fill="#333" text-anchor="start" stroke="#333" stroke-width="0.08">4</text>
<path d="M466.8 89.9 H481.4" stroke="#111" stroke-width="1"/><path d="M464.8 89.9 l3.4 -2 v4 z M483.4 89.9 l-3.4 -2 v4 z" fill="#111"/>
<text x="489" y="92.2" font-size="6.6" font-weight="normal" fill="#333" text-anchor="start" stroke="#333" stroke-width="0.08">17,075</text>
<text x="380.8" y="105.5" font-size="7" font-weight="bold" fill="#222" text-anchor="middle" stroke="#222" stroke-width="0.15">Sub-</text>
<text x="380.8" y="114.1" font-size="7" font-weight="bold" fill="#222" text-anchor="middle" stroke="#222" stroke-width="0.15">network</text>
<text x="449" y="114.1" font-size="7" font-weight="bold" fill="#222" text-anchor="start" stroke="#222" stroke-width="0.15">Enriched GO terms</text>
<circle cx="380.8" cy="121.5" r="3.2" fill="#fff" stroke="#e0202c" stroke-width="1"/>
<text x="412.8" y="124.0" font-size="7" font-weight="normal" fill="#333" text-anchor="start" stroke="#333" stroke-width="0.08">Development cell migration</text>
<circle cx="380.8" cy="130" r="3.2" fill="#fff" stroke="#f2dc3c" stroke-width="1"/>
<text x="412.8" y="132.5" font-size="7" font-weight="normal" fill="#333" text-anchor="start" stroke="#333" stroke-width="0.08">Metabolic biosynthetic process</text>
<circle cx="380.8" cy="138" r="3.2" fill="#fff" stroke="#2a62b8" stroke-width="1"/>
<text x="412.8" y="140.5" font-size="7" font-weight="normal" fill="#333" text-anchor="start" stroke="#333" stroke-width="0.08">Cellular stimulus response</text>
<circle cx="380.8" cy="146.3" r="3.2" fill="#fff" stroke="#1a1a1a" stroke-width="1"/>
<text x="412.8" y="148.8" font-size="7" font-weight="normal" fill="#333" text-anchor="start" stroke="#333" stroke-width="0.08">Regulation templated transcription</text>
<circle cx="380.8" cy="155" r="3.2" fill="#fff" stroke="#3fae49" stroke-width="1"/>
<text x="412.8" y="157.5" font-size="7" font-weight="normal" fill="#333" text-anchor="start" stroke="#333" stroke-width="0.08">Unfolded protein response</text>
<polygon points="36,236 84,202 94,208 72,250 44,252" fill="#bdd8ec" opacity="0.85" filter="url(#hz)"/>
<ellipse cx="55" cy="207" rx="18" ry="9" fill="#cfe3f3" opacity="0.45" filter="url(#hz)" transform="rotate(0 55 207)"/>
<ellipse cx="100" cy="226" rx="12" ry="18" fill="#cfe3f3" opacity="0.45" filter="url(#hz)" transform="rotate(0 100 226)"/>
<ellipse cx="86" cy="238" rx="9" ry="14" fill="#cfe3f3" opacity="0.4" filter="url(#hz)" transform="rotate(0 86 238)"/>
<ellipse cx="56" cy="245" rx="20" ry="12" fill="#cfe3f3" opacity="0.5" filter="url(#hz)" transform="rotate(0 56 245)"/>
<g><circle cx="64.8" cy="235.4" r="8.2" fill="#e8202a"/><circle cx="68.9" cy="242.3" r="0.9" fill="#e8202a"/><circle cx="70.2" cy="227.2" r="0.8" fill="#ee2a2a"/><circle cx="67.6" cy="241.8" r="0.9" fill="#e8202a"/><circle cx="59.7" cy="240.7" r="0.7" fill="#e52424"/><circle cx="71.9" cy="231.6" r="0.8" fill="#f03a2c"/><circle cx="63.7" cy="234.4" r="0.8" fill="#e8202a"/><circle cx="62.1" cy="228.1" r="1.0" fill="#e8202a"/><circle cx="69.8" cy="242.7" r="0.7" fill="#e8202a"/><circle cx="58.0" cy="237.5" r="0.8" fill="#e8202a"/><circle cx="69.4" cy="241.8" r="0.8" fill="#e52424"/><circle cx="68.4" cy="237.2" r="0.9" fill="#f03a2c"/><circle cx="67.1" cy="235.2" r="0.9" fill="#e52424"/><circle cx="66.7" cy="231.8" r="1.0" fill="#e52424"/><circle cx="60.0" cy="238.5" r="0.8" fill="#e52424"/><circle cx="62.1" cy="241.4" r="0.7" fill="#e52424"/><circle cx="69.2" cy="242.3" r="1.0" fill="#e8202a"/><circle cx="57.7" cy="235.8" r="0.9" fill="#e52424"/><circle cx="60.1" cy="233.1" r="1.0" fill="#f03a2c"/><circle cx="66.4" cy="238.8" r="0.8" fill="#e8202a"/><circle cx="60.6" cy="241.5" r="0.8" fill="#f03a2c"/><circle cx="69.4" cy="243.6" r="0.7" fill="#f03a2c"/><circle cx="59.1" cy="241.1" r="0.9" fill="#e52424"/><circle cx="56.6" cy="240.8" r="1.0" fill="#f03a2c"/><circle cx="70.3" cy="235.9" r="0.8" fill="#e52424"/><circle cx="69.0" cy="233.6" r="0.9" fill="#dd1f26"/><circle cx="67.7" cy="227.3" r="0.8" fill="#dd1f26"/><circle cx="69.2" cy="236.9" r="0.7" fill="#f03a2c"/><circle cx="64.9" cy="241.3" r="1.0" fill="#7cb342"/><circle cx="72.7" cy="229.6" r="0.9" fill="#e8202a"/><circle cx="68.0" cy="236.4" r="0.9" fill="#e8202a"/><circle cx="68.9" cy="236.1" r="1.0" fill="#dd1f26"/><circle cx="70.3" cy="230.3" r="0.8" fill="#f03a2c"/><circle cx="70.2" cy="231.6" r="0.7" fill="#f03a2c"/><circle cx="63.4" cy="243.8" r="0.6" fill="#dd1f26"/><circle cx="66.0" cy="235.0" r="0.9" fill="#7cb342"/><circle cx="64.8" cy="245.0" r="0.8" fill="#e52424"/><circle cx="64.9" cy="226.6" r="0.7" fill="#dd1f26"/><circle cx="67.0" cy="236.9" r="0.6" fill="#dd1f26"/><circle cx="65.3" cy="233.1" r="0.7" fill="#dd1f26"/><circle cx="69.7" cy="240.4" r="0.8" fill="#e8202a"/><circle cx="70.6" cy="230.5" r="0.7" fill="#e52424"/><circle cx="67.3" cy="243.4" r="0.9" fill="#dd1f26"/><circle cx="62.6" cy="226.5" r="0.9" fill="#e8202a"/><circle cx="57.9" cy="241.3" r="0.8" fill="#f03a2c"/><circle cx="68.5" cy="242.7" r="0.7" fill="#dd1f26"/><circle cx="64.1" cy="237.0" r="0.8" fill="#dd1f26"/><circle cx="63.3" cy="225.7" r="1.0" fill="#e52424"/><circle cx="57.5" cy="235.9" r="0.8" fill="#ee2a2a"/><circle cx="56.5" cy="235.0" r="1.0" fill="#dd1f26"/><circle cx="62.8" cy="242.8" r="0.9" fill="#ee2a2a"/><circle cx="72.9" cy="238.8" r="1.0" fill="#ee2a2a"/><circle cx="72.0" cy="238.5" r="0.8" fill="#e52424"/><circle cx="60.4" cy="229.2" r="0.9" fill="#dd1f26"/><circle cx="55.2" cy="235.1" r="0.9" fill="#dd1f26"/><circle cx="58.1" cy="236.6" r="1.0" fill="#e52424"/><circle cx="65.1" cy="237.3" r="0.8" fill="#e52424"/><circle cx="63.6" cy="242.7" r="0.8" fill="#f03a2c"/><circle cx="60.5" cy="236.6" r="0.8" fill="#e8202a"/><circle cx="66.1" cy="244.7" r="0.9" fill="#ee2a2a"/><circle cx="58.2" cy="236.2" r="0.9" fill="#ee2a2a"/><circle cx="66.2" cy="227.9" r="0.9" fill="#dd1f26"/><circle cx="62.3" cy="227.8" r="0.7" fill="#e8202a"/><circle cx="59.1" cy="240.4" r="1.0" fill="#e8202a"/><circle cx="67.0" cy="238.9" r="1.0" fill="#dd1f26"/><circle cx="68.0" cy="237.4" r="0.8" fill="#dd1f26"/><circle cx="72.7" cy="232.5" r="0.8" fill="#f03a2c"/><circle cx="68.5" cy="235.2" r="0.8" fill="#e8202a"/><circle cx="59.7" cy="240.7" r="0.7" fill="#e52424"/><circle cx="69.8" cy="233.8" r="0.7" fill="#dd1f26"/><circle cx="70.3" cy="231.4" r="0.7" fill="#f03a2c"/><circle cx="64.0" cy="231.9" r="0.8" fill="#e52424"/><circle cx="57.8" cy="238.3" r="0.7" fill="#e8202a"/><circle cx="61.0" cy="228.8" r="0.7" fill="#ee2a2a"/><circle cx="73.4" cy="237.3" r="1.0" fill="#ee2a2a"/><circle cx="71.5" cy="236.2" r="0.7" fill="#dd1f26"/><circle cx="58.9" cy="237.7" r="1.0" fill="#e52424"/><circle cx="70.6" cy="243.2" r="0.7" fill="#ee2a2a"/><circle cx="69.3" cy="231.9" r="0.7" fill="#f03a2c"/><circle cx="62.9" cy="235.1" r="0.7" fill="#e52424"/><circle cx="68.2" cy="232.3" r="0.9" fill="#f03a2c"/><circle cx="73.0" cy="231.2" r="0.6" fill="#f03a2c"/><circle cx="70.4" cy="238.2" r="1.0" fill="#ee2a2a"/><circle cx="68.7" cy="240.9" r="0.8" fill="#e52424"/><circle cx="60.0" cy="230.9" r="0.9" fill="#e8202a"/><circle cx="66.8" cy="238.3" r="0.7" fill="#7cb342"/><circle cx="58.3" cy="228.8" r="0.7" fill="#e52424"/><circle cx="65.9" cy="237.9" r="1.0" fill="#ee2a2a"/><circle cx="64.5" cy="237.5" r="0.7" fill="#e8202a"/><circle cx="63.4" cy="244.0" r="0.8" fill="#ee2a2a"/><circle cx="72.3" cy="241.2" r="0.8" fill="#f03a2c"/><circle cx="66.1" cy="239.2" r="1.0" fill="#f03a2c"/><circle cx="72.6" cy="239.6" r="0.7" fill="#ee2a2a"/><circle cx="63.8" cy="228.0" r="0.9" fill="#7cb342"/><circle cx="68.6" cy="242.7" r="0.8" fill="#e8202a"/><circle cx="68.9" cy="230.7" r="0.6" fill="#f03a2c"/><circle cx="63.0" cy="231.5" r="0.9" fill="#dd1f26"/><circle cx="55.6" cy="233.5" r="1.0" fill="#e52424"/><circle cx="66.4" cy="241.7" r="0.9" fill="#ee2a2a"/><circle cx="70.3" cy="235.8" r="0.9" fill="#dd1f26"/><circle cx="70.5" cy="236.3" r="0.9" fill="#e8202a"/><circle cx="71.2" cy="232.4" r="1.0" fill="#ee2a2a"/><circle cx="65.8" cy="242.2" r="0.7" fill="#dd1f26"/><circle cx="64.2" cy="226.2" r="0.8" fill="#e52424"/><circle cx="65.3" cy="242.8" r="0.8" fill="#ee2a2a"/><circle cx="56.0" cy="231.0" r="1.0" fill="#f03a2c"/><circle cx="65.1" cy="225.6" r="0.9" fill="#f03a2c"/><circle cx="66.4" cy="242.2" r="0.8" fill="#ee2a2a"/><circle cx="63.8" cy="238.9" r="0.9" fill="#dd1f26"/><circle cx="59.4" cy="228.8" r="0.9" fill="#7cb342"/><circle cx="65.7" cy="239.2" r="1.0" fill="#e52424"/><circle cx="60.0" cy="235.7" r="0.8" fill="#dd1f26"/><circle cx="67.2" cy="243.7" r="0.8" fill="#dd1f26"/><circle cx="67.5" cy="227.5" r="0.9" fill="#e8202a"/><circle cx="60.6" cy="239.5" r="0.6" fill="#f03a2c"/><circle cx="62.2" cy="243.9" r="0.8" fill="#e8202a"/><circle cx="66.0" cy="243.6" r="0.9" fill="#e8202a"/><circle cx="64.2" cy="234.2" r="1.0" fill="#dd1f26"/><circle cx="58.3" cy="235.4" r="0.8" fill="#7cb342"/><circle cx="57.0" cy="238.0" r="0.7" fill="#f03a2c"/><circle cx="64.8" cy="229.6" r="0.7" fill="#dd1f26"/><circle cx="67.3" cy="226.3" r="0.7" fill="#e8202a"/><circle cx="66.7" cy="233.9" r="0.8" fill="#7cb342"/><circle cx="70.6" cy="241.5" r="1.0" fill="#f03a2c"/><circle cx="62.7" cy="230.8" r="0.7" fill="#ee2a2a"/><circle cx="70.5" cy="241.8" r="0.8" fill="#ee2a2a"/><circle cx="62.7" cy="230.4" r="0.9" fill="#ee2a2a"/><circle cx="73.8" cy="235.9" r="0.7" fill="#f03a2c"/><circle cx="62.8" cy="229.7" r="0.7" fill="#dd1f26"/><circle cx="64.1" cy="234.4" r="0.9" fill="#dd1f26"/><circle cx="62.9" cy="229.0" r="0.8" fill="#e52424"/><circle cx="59.4" cy="240.9" r="0.9" fill="#ee2a2a"/><circle cx="68.5" cy="240.1" r="0.8" fill="#7cb342"/><circle cx="58.2" cy="237.2" r="0.7" fill="#e52424"/><circle cx="72.5" cy="236.4" r="0.8" fill="#e52424"/><circle cx="66.2" cy="226.2" r="0.9" fill="#ee2a2a"/><circle cx="61.1" cy="235.6" r="0.9" fill="#e8202a"/><circle cx="63.0" cy="230.6" r="1.0" fill="#dd1f26"/><circle cx="66.2" cy="238.6" r="0.9" fill="#dd1f26"/><circle cx="65.3" cy="238.3" r="0.8" fill="#f03a2c"/><circle cx="62.7" cy="233.2" r="0.7" fill="#ee2a2a"/><circle cx="62.3" cy="234.8" r="0.7" fill="#dd1f26"/><circle cx="60.7" cy="233.5" r="0.8" fill="#ee2a2a"/><circle cx="62.0" cy="227.0" r="0.8" fill="#e8202a"/><circle cx="67.6" cy="227.9" r="1.0" fill="#f03a2c"/><circle cx="71.4" cy="236.8" r="1.0" fill="#f03a2c"/><circle cx="63.2" cy="235.6" r="0.9" fill="#f03a2c"/><circle cx="66.2" cy="227.3" r="0.8" fill="#e8202a"/><circle cx="63.4" cy="241.0" r="0.8" fill="#f03a2c"/><circle cx="58.1" cy="241.0" r="0.7" fill="#dd1f26"/><circle cx="59.1" cy="232.0" r="1.0" fill="#dd1f26"/><circle cx="64.9" cy="231.9" r="0.8" fill="#f03a2c"/><circle cx="63.8" cy="243.3" r="1.0" fill="#ee2a2a"/><circle cx="58.4" cy="241.9" r="0.8" fill="#f03a2c"/><circle cx="60.3" cy="230.7" r="0.9" fill="#ee2a2a"/><circle cx="64.5" cy="233.6" r="0.9" fill="#dd1f26"/><circle cx="62.9" cy="238.8" r="1.0" fill="#f03a2c"/><circle cx="61.2" cy="235.3" r="0.7" fill="#e8202a"/><circle cx="68.5" cy="231.4" r="0.9" fill="#e52424"/><circle cx="70.5" cy="227.6" r="0.7" fill="#ee2a2a"/><circle cx="59.1" cy="234.4" r="0.7" fill="#dd1f26"/><circle cx="67.9" cy="233.1" r="0.8" fill="#dd1f26"/><circle cx="60.4" cy="243.6" r="1.0" fill="#dd1f26"/><circle cx="62.8" cy="243.6" r="0.9" fill="#e52424"/><circle cx="68.1" cy="232.3" r="1.0" fill="#e8202a"/><circle cx="56.6" cy="232.1" r="0.9" fill="#e52424"/><circle cx="72.0" cy="236.7" r="1.0" fill="#ee2a2a"/><circle cx="66.9" cy="228.1" r="0.9" fill="#f03a2c"/><circle cx="71.2" cy="228.7" r="1.0" fill="#ee2a2a"/><circle cx="56.7" cy="235.4" r="0.8" fill="#e8202a"/><circle cx="61.3" cy="230.3" r="0.9" fill="#dd1f26"/><circle cx="65.7" cy="228.6" r="0.7" fill="#e8202a"/><circle cx="64.9" cy="231.7" r="0.7" fill="#e8202a"/><circle cx="72.1" cy="237.7" r="0.7" fill="#ee2a2a"/><circle cx="58.0" cy="231.5" r="1.0" fill="#dd1f26"/><circle cx="59.8" cy="238.5" r="0.9" fill="#f03a2c"/><circle cx="64.7" cy="236.0" r="0.8" fill="#f03a2c"/><circle cx="55.7" cy="237.5" r="1.0" fill="#f03a2c"/><circle cx="66.7" cy="232.7" r="0.8" fill="#7cb342"/><circle cx="60.2" cy="241.5" r="1.0" fill="#f03a2c"/><circle cx="65.8" cy="231.9" r="1.0" fill="#ee2a2a"/><circle cx="67.5" cy="240.2" r="0.7" fill="#e8202a"/><circle cx="66.2" cy="235.8" r="0.8" fill="#e52424"/><circle cx="65.2" cy="238.6" r="0.8" fill="#e8202a"/><circle cx="61.6" cy="232.9" r="0.7" fill="#dd1f26"/><circle cx="60.3" cy="238.2" r="0.9" fill="#e52424"/><circle cx="67.1" cy="226.6" r="0.9" fill="#ee2a2a"/><circle cx="65.0" cy="240.7" r="0.8" fill="#f03a2c"/><circle cx="65.3" cy="231.5" r="1.0" fill="#dd1f26"/><circle cx="74.0" cy="233.3" r="0.8" fill="#e8202a"/><circle cx="67.7" cy="242.4" r="1.0" fill="#e52424"/><circle cx="67.0" cy="234.1" r="0.9" fill="#e8202a"/><circle cx="72.6" cy="230.0" r="1.0" fill="#f03a2c"/><circle cx="64.3" cy="234.9" r="0.9" fill="#dd1f26"/><circle cx="56.6" cy="234.3" r="0.6" fill="#e52424"/><circle cx="71.6" cy="228.3" r="1.0" fill="#e52424"/><circle cx="59.7" cy="232.9" r="0.9" fill="#e52424"/><circle cx="66.4" cy="228.9" r="0.7" fill="#f03a2c"/><circle cx="62.3" cy="243.5" r="0.7" fill="#e52424"/><circle cx="67.8" cy="233.9" r="1.0" fill="#7cb342"/><circle cx="63.0" cy="239.8" r="0.8" fill="#e52424"/><circle cx="64.6" cy="229.7" r="0.8" fill="#e52424"/><circle cx="59.0" cy="228.2" r="0.8" fill="#e8202a"/><circle cx="62.5" cy="244.1" r="0.9" fill="#e8202a"/><circle cx="64.1" cy="239.3" r="0.9" fill="#e8202a"/><circle cx="58.5" cy="229.8" r="0.8" fill="#e52424"/><circle cx="58.4" cy="228.4" r="0.7" fill="#e8202a"/><circle cx="71.7" cy="234.4" r="1.0" fill="#f03a2c"/><circle cx="68.5" cy="234.0" r="1.0" fill="#e8202a"/><circle cx="58.6" cy="238.6" r="0.7" fill="#f03a2c"/><circle cx="71.2" cy="239.3" r="0.9" fill="#f03a2c"/><circle cx="68.9" cy="229.5" r="0.7" fill="#e52424"/><circle cx="65.2" cy="236.1" r="0.9" fill="#ee2a2a"/><circle cx="73.3" cy="233.8" r="0.7" fill="#f03a2c"/><circle cx="61.7" cy="226.1" r="1.0" fill="#e52424"/><circle cx="64.2" cy="243.4" r="0.8" fill="#e8202a"/><circle cx="62.5" cy="226.0" r="0.8" fill="#f03a2c"/><circle cx="71.8" cy="232.2" r="1.0" fill="#e8202a"/><circle cx="63.1" cy="243.5" r="0.7" fill="#ee2a2a"/><circle cx="64.7" cy="245.1" r="0.8" fill="#ee2a2a"/><circle cx="72.3" cy="238.2" r="1.0" fill="#e52424"/><circle cx="66.7" cy="233.3" r="0.9" fill="#e52424"/><circle cx="68.3" cy="241.8" r="0.8" fill="#ee2a2a"/><circle cx="63.4" cy="227.6" r="0.7" fill="#ee2a2a"/><circle cx="68.6" cy="230.0" r="1.0" fill="#dd1f26"/><circle cx="68.8" cy="244.2" r="0.8" fill="#dd1f26"/><circle cx="63.1" cy="235.8" r="0.7" fill="#e8202a"/><circle cx="70.1" cy="233.1" r="0.9" fill="#e8202a"/><circle cx="56.8" cy="240.9" r="0.8" fill="#ee2a2a"/><circle cx="59.3" cy="228.4" r="0.7" fill="#e8202a"/><circle cx="74.2" cy="237.8" r="0.9" fill="#e8202a"/><circle cx="56.5" cy="232.8" r="0.8" fill="#e52424"/><circle cx="68.4" cy="226.7" r="0.7" fill="#ee2a2a"/><circle cx="61.7" cy="233.8" r="0.8" fill="#e52424"/><circle cx="63.6" cy="237.9" r="0.8" fill="#7cb342"/><circle cx="58.5" cy="237.4" r="0.7" fill="#dd1f26"/><circle cx="66.7" cy="229.7" r="0.9" fill="#ee2a2a"/><circle cx="65.9" cy="227.1" r="0.9" fill="#e52424"/><circle cx="60.0" cy="236.2" r="0.9" fill="#f03a2c"/><circle cx="65.8" cy="244.9" r="0.9" fill="#f03a2c"/><circle cx="60.8" cy="239.1" r="1.0" fill="#ee2a2a"/><circle cx="61.3" cy="243.7" r="0.7" fill="#dd1f26"/><circle cx="64.3" cy="234.2" r="0.9" fill="#f03a2c"/><circle cx="67.6" cy="236.7" r="0.8" fill="#7cb342"/><circle cx="56.3" cy="237.1" r="1.0" fill="#e8202a"/><circle cx="59.5" cy="239.8" r="0.7" fill="#dd1f26"/><circle cx="68.5" cy="243.0" r="0.7" fill="#ee2a2a"/><circle cx="60.0" cy="230.4" r="1.0" fill="#ee2a2a"/><circle cx="62.5" cy="237.1" r="0.8" fill="#dd1f26"/><circle cx="71.3" cy="239.3" r="1.0" fill="#e8202a"/><circle cx="68.0" cy="243.5" r="0.7" fill="#ee2a2a"/><circle cx="72.5" cy="236.3" r="0.7" fill="#e8202a"/><circle cx="58.7" cy="231.1" r="0.9" fill="#f03a2c"/><circle cx="69.4" cy="239.2" r="1.0" fill="#f03a2c"/><circle cx="72.7" cy="230.8" r="0.9" fill="#ee2a2a"/><circle cx="61.4" cy="227.1" r="0.7" fill="#e8202a"/><circle cx="66.6" cy="229.5" r="0.7" fill="#e8202a"/><circle cx="64.6" cy="230.6" r="0.6" fill="#dd1f26"/><circle cx="71.3" cy="236.8" r="1.0" fill="#e52424"/><circle cx="61.6" cy="242.9" r="0.9" fill="#e52424"/><circle cx="60.6" cy="233.1" r="0.9" fill="#ee2a2a"/><circle cx="64.4" cy="240.6" r="0.7" fill="#ee2a2a"/><circle cx="69.8" cy="240.9" r="0.7" fill="#ee2a2a"/><circle cx="68.0" cy="229.4" r="0.7" fill="#dd1f26"/><circle cx="56.2" cy="234.2" r="1.0" fill="#f03a2c"/><circle cx="57.8" cy="238.6" r="0.7" fill="#ee2a2a"/><circle cx="61.1" cy="240.8" r="0.9" fill="#f03a2c"/><circle cx="73.6" cy="239.6" r="0.9" fill="#e8202a"/><circle cx="65.1" cy="243.3" r="0.7" fill="#e8202a"/><circle cx="67.2" cy="227.6" r="0.9" fill="#e52424"/><circle cx="68.3" cy="234.2" r="0.8" fill="#e8202a"/><circle cx="74.3" cy="234.2" r="0.7" fill="#e8202a"/><circle cx="64.7" cy="237.1" r="0.9" fill="#f03a2c"/><circle cx="66.4" cy="244.7" r="0.9" fill="#ee2a2a"/><circle cx="66.5" cy="240.8" r="0.8" fill="#ee2a2a"/><circle cx="66.9" cy="233.0" r="0.8" fill="#f03a2c"/><circle cx="62.5" cy="231.1" r="0.8" fill="#ee2a2a"/><circle cx="67.1" cy="243.9" r="0.7" fill="#e8202a"/><circle cx="65.8" cy="234.3" r="0.9" fill="#e52424"/></g>
<g><circle cx="39.2" cy="241.2" r="4.6" fill="#e8202a"/><circle cx="41.0" cy="240.7" r="0.6" fill="#dd1f26"/><circle cx="39.9" cy="242.7" r="0.9" fill="#ee2a2a"/><circle cx="39.6" cy="239.9" r="0.7" fill="#ee2a2a"/><circle cx="37.5" cy="244.9" r="1.0" fill="#f03a2c"/><circle cx="38.9" cy="240.2" r="1.0" fill="#f03a2c"/><circle cx="38.4" cy="243.2" r="1.0" fill="#ee2a2a"/><circle cx="37.9" cy="237.3" r="0.7" fill="#e52424"/><circle cx="37.4" cy="245.5" r="1.0" fill="#dd1f26"/><circle cx="38.7" cy="243.8" r="0.9" fill="#f03a2c"/><circle cx="42.8" cy="242.4" r="0.6" fill="#f03a2c"/><circle cx="35.5" cy="241.1" r="0.8" fill="#e8202a"/><circle cx="38.1" cy="244.1" r="0.9" fill="#dd1f26"/><circle cx="35.7" cy="239.4" r="0.8" fill="#f03a2c"/><circle cx="43.8" cy="244.0" r="0.8" fill="#f03a2c"/><circle cx="39.4" cy="240.1" r="1.0" fill="#ee2a2a"/><circle cx="36.0" cy="241.0" r="0.7" fill="#ee2a2a"/><circle cx="41.0" cy="244.6" r="0.8" fill="#e8202a"/><circle cx="42.7" cy="239.0" r="0.8" fill="#e52424"/><circle cx="34.6" cy="240.2" r="0.9" fill="#ee2a2a"/><circle cx="38.3" cy="239.9" r="0.7" fill="#f03a2c"/><circle cx="41.6" cy="236.7" r="0.8" fill="#f03a2c"/><circle cx="35.4" cy="241.2" r="0.9" fill="#7cb342"/><circle cx="38.0" cy="241.4" r="0.9" fill="#f03a2c"/><circle cx="40.9" cy="237.5" r="1.0" fill="#e8202a"/><circle cx="40.4" cy="244.0" r="0.7" fill="#f03a2c"/><circle cx="41.3" cy="245.1" r="0.8" fill="#f03a2c"/><circle cx="39.8" cy="242.4" r="0.7" fill="#f03a2c"/><circle cx="43.0" cy="241.0" r="0.8" fill="#e52424"/><circle cx="40.3" cy="243.6" r="0.7" fill="#7cb342"/><circle cx="36.8" cy="239.0" r="0.7" fill="#e8202a"/><circle cx="42.3" cy="241.9" r="1.0" fill="#ee2a2a"/><circle cx="40.5" cy="245.6" r="0.9" fill="#ee2a2a"/><circle cx="39.2" cy="236.7" r="0.8" fill="#e52424"/><circle cx="40.4" cy="240.2" r="1.0" fill="#e8202a"/><circle cx="41.5" cy="245.9" r="0.8" fill="#e8202a"/><circle cx="35.1" cy="241.2" r="0.7" fill="#7cb342"/><circle cx="38.4" cy="238.7" r="0.9" fill="#ee2a2a"/><circle cx="35.6" cy="237.3" r="1.0" fill="#e52424"/><circle cx="36.0" cy="242.4" r="0.8" fill="#f03a2c"/><circle cx="42.4" cy="237.6" r="0.6" fill="#e52424"/><circle cx="38.0" cy="240.2" r="1.0" fill="#ee2a2a"/><circle cx="38.3" cy="246.0" r="0.7" fill="#f03a2c"/><circle cx="38.9" cy="243.1" r="1.0" fill="#7cb342"/><circle cx="37.6" cy="236.7" r="1.0" fill="#ee2a2a"/><circle cx="36.2" cy="241.2" r="1.0" fill="#e52424"/><circle cx="36.0" cy="244.0" r="0.7" fill="#e8202a"/><circle cx="43.6" cy="243.8" r="0.8" fill="#ee2a2a"/><circle cx="33.9" cy="240.6" r="0.7" fill="#ee2a2a"/><circle cx="41.9" cy="238.2" r="0.8" fill="#e8202a"/><circle cx="42.0" cy="243.6" r="0.7" fill="#e52424"/><circle cx="40.2" cy="241.9" r="0.7" fill="#dd1f26"/><circle cx="43.9" cy="239.3" r="0.8" fill="#e8202a"/><circle cx="37.3" cy="245.1" r="0.9" fill="#ee2a2a"/><circle cx="43.1" cy="238.4" r="0.9" fill="#e8202a"/><circle cx="39.1" cy="241.0" r="0.7" fill="#f03a2c"/><circle cx="41.7" cy="240.0" r="0.6" fill="#e8202a"/><circle cx="43.1" cy="244.5" r="1.0" fill="#e8202a"/><circle cx="40.6" cy="243.5" r="0.8" fill="#dd1f26"/><circle cx="40.3" cy="238.6" r="0.8" fill="#ee2a2a"/><circle cx="42.1" cy="239.2" r="0.7" fill="#ee2a2a"/><circle cx="43.2" cy="243.9" r="0.9" fill="#dd1f26"/><circle cx="36.8" cy="242.1" r="0.7" fill="#dd1f26"/><circle cx="41.9" cy="243.5" r="0.9" fill="#e52424"/><circle cx="41.9" cy="242.5" r="0.8" fill="#dd1f26"/><circle cx="35.7" cy="242.7" r="0.8" fill="#dd1f26"/><circle cx="40.7" cy="237.2" r="0.8" fill="#dd1f26"/><circle cx="37.2" cy="236.4" r="0.7" fill="#dd1f26"/><circle cx="39.2" cy="239.9" r="0.9" fill="#f03a2c"/><circle cx="38.8" cy="240.7" r="1.0" fill="#dd1f26"/><circle cx="35.3" cy="240.3" r="0.7" fill="#e8202a"/><circle cx="38.9" cy="237.7" r="0.9" fill="#e52424"/><circle cx="37.5" cy="238.2" r="0.9" fill="#f03a2c"/><circle cx="38.8" cy="246.2" r="0.9" fill="#e52424"/><circle cx="37.6" cy="239.1" r="0.7" fill="#ee2a2a"/><circle cx="37.2" cy="239.7" r="0.8" fill="#ee2a2a"/><circle cx="34.6" cy="242.4" r="1.0" fill="#f03a2c"/><circle cx="37.1" cy="240.0" r="0.8" fill="#dd1f26"/><circle cx="41.0" cy="240.8" r="0.8" fill="#dd1f26"/><circle cx="38.3" cy="239.9" r="0.9" fill="#e52424"/><circle cx="38.0" cy="242.1" r="0.8" fill="#f03a2c"/><circle cx="41.2" cy="241.4" r="1.0" fill="#e8202a"/><circle cx="42.0" cy="245.5" r="0.8" fill="#e8202a"/><circle cx="38.5" cy="238.7" r="0.7" fill="#e8202a"/><circle cx="39.8" cy="242.4" r="0.8" fill="#f03a2c"/><circle cx="37.7" cy="237.7" r="0.8" fill="#e8202a"/><circle cx="39.5" cy="243.3" r="1.0" fill="#ee2a2a"/><circle cx="36.9" cy="239.2" r="0.6" fill="#f03a2c"/><circle cx="37.1" cy="239.1" r="0.8" fill="#f03a2c"/></g>
<g><circle cx="59.6" cy="256.6" r="4.3" fill="#e8202a"/><circle cx="63.9" cy="254.4" r="1.0" fill="#e52424"/><circle cx="62.2" cy="256.9" r="0.8" fill="#ee2a2a"/><circle cx="61.0" cy="258.1" r="0.8" fill="#e52424"/><circle cx="56.2" cy="253.4" r="0.7" fill="#7cb342"/><circle cx="56.6" cy="258.2" r="0.9" fill="#ee2a2a"/><circle cx="59.9" cy="254.5" r="0.7" fill="#ee2a2a"/><circle cx="57.5" cy="253.4" r="1.0" fill="#ee2a2a"/><circle cx="55.4" cy="254.8" r="1.0" fill="#dd1f26"/><circle cx="58.2" cy="254.4" r="0.7" fill="#7cb342"/><circle cx="61.1" cy="259.6" r="0.9" fill="#e8202a"/><circle cx="60.4" cy="258.4" r="0.8" fill="#ee2a2a"/><circle cx="58.5" cy="256.0" r="0.8" fill="#f03a2c"/><circle cx="61.9" cy="255.7" r="0.9" fill="#f03a2c"/><circle cx="57.9" cy="258.4" r="0.8" fill="#dd1f26"/><circle cx="57.3" cy="255.9" r="0.7" fill="#f03a2c"/><circle cx="58.4" cy="252.3" r="0.7" fill="#dd1f26"/><circle cx="62.9" cy="254.8" r="1.0" fill="#e8202a"/><circle cx="58.9" cy="256.8" r="0.9" fill="#e52424"/><circle cx="64.0" cy="257.2" r="0.9" fill="#e52424"/><circle cx="61.2" cy="252.1" r="0.8" fill="#dd1f26"/><circle cx="59.6" cy="253.8" r="1.0" fill="#e52424"/><circle cx="58.8" cy="256.6" r="0.7" fill="#ee2a2a"/><circle cx="59.7" cy="253.4" r="0.8" fill="#e52424"/><circle cx="62.4" cy="258.7" r="0.7" fill="#e52424"/><circle cx="59.5" cy="259.7" r="1.0" fill="#dd1f26"/><circle cx="59.9" cy="252.7" r="0.8" fill="#e8202a"/><circle cx="62.8" cy="254.1" r="0.8" fill="#e52424"/><circle cx="56.6" cy="255.7" r="0.8" fill="#ee2a2a"/><circle cx="60.3" cy="255.3" r="0.9" fill="#e8202a"/><circle cx="63.7" cy="255.7" r="0.8" fill="#e8202a"/><circle cx="60.8" cy="256.2" r="0.9" fill="#f03a2c"/><circle cx="59.9" cy="260.2" r="0.8" fill="#dd1f26"/><circle cx="62.0" cy="256.4" r="0.8" fill="#e8202a"/><circle cx="60.0" cy="254.9" r="1.0" fill="#ee2a2a"/><circle cx="59.8" cy="255.9" r="0.9" fill="#f03a2c"/><circle cx="62.6" cy="255.7" r="0.7" fill="#e8202a"/><circle cx="57.1" cy="256.2" r="1.0" fill="#e52424"/><circle cx="59.8" cy="257.7" r="1.0" fill="#e52424"/><circle cx="60.3" cy="252.7" r="0.9" fill="#dd1f26"/><circle cx="58.3" cy="253.8" r="0.9" fill="#f03a2c"/><circle cx="62.3" cy="255.9" r="0.8" fill="#f03a2c"/><circle cx="62.6" cy="254.0" r="0.9" fill="#f03a2c"/><circle cx="55.7" cy="255.6" r="0.8" fill="#f03a2c"/><circle cx="61.3" cy="256.5" r="0.8" fill="#dd1f26"/><circle cx="62.1" cy="256.4" r="0.9" fill="#e8202a"/><circle cx="61.1" cy="254.8" r="1.0" fill="#e52424"/><circle cx="59.9" cy="253.0" r="0.8" fill="#f03a2c"/><circle cx="60.5" cy="254.3" r="0.8" fill="#dd1f26"/><circle cx="56.5" cy="253.6" r="0.7" fill="#e52424"/><circle cx="57.4" cy="254.8" r="1.0" fill="#e8202a"/><circle cx="61.1" cy="257.0" r="0.9" fill="#e8202a"/><circle cx="62.2" cy="259.6" r="1.0" fill="#dd1f26"/><circle cx="55.6" cy="257.4" r="0.9" fill="#ee2a2a"/><circle cx="61.2" cy="253.2" r="0.9" fill="#e8202a"/><circle cx="62.3" cy="257.1" r="0.7" fill="#ee2a2a"/><circle cx="60.4" cy="259.6" r="0.8" fill="#e52424"/><circle cx="55.1" cy="255.6" r="0.8" fill="#ee2a2a"/><circle cx="57.5" cy="256.2" r="0.9" fill="#dd1f26"/><circle cx="55.8" cy="257.7" r="1.0" fill="#dd1f26"/><circle cx="56.5" cy="260.5" r="0.8" fill="#ee2a2a"/><circle cx="56.8" cy="256.7" r="0.7" fill="#e8202a"/><circle cx="60.3" cy="259.5" r="0.7" fill="#e8202a"/><circle cx="59.3" cy="253.3" r="0.7" fill="#f03a2c"/><circle cx="56.4" cy="260.2" r="0.7" fill="#dd1f26"/><circle cx="57.8" cy="257.2" r="1.0" fill="#7cb342"/><circle cx="63.1" cy="255.9" r="0.9" fill="#f03a2c"/><circle cx="60.4" cy="254.8" r="0.8" fill="#ee2a2a"/><circle cx="57.9" cy="253.9" r="0.7" fill="#e8202a"/><circle cx="57.3" cy="258.4" r="0.7" fill="#ee2a2a"/><circle cx="57.1" cy="257.9" r="1.0" fill="#f03a2c"/><circle cx="59.3" cy="254.9" r="1.0" fill="#dd1f26"/><circle cx="58.1" cy="256.2" r="0.7" fill="#7cb342"/><circle cx="57.7" cy="252.1" r="0.9" fill="#f03a2c"/><circle cx="56.5" cy="253.7" r="0.9" fill="#ee2a2a"/><circle cx="62.2" cy="253.1" r="0.8" fill="#dd1f26"/><circle cx="55.3" cy="258.6" r="1.0" fill="#dd1f26"/></g>
<g><circle cx="87.7" cy="253.7" r="3.6" fill="#e8202a"/><circle cx="86.8" cy="250.1" r="0.7" fill="#e8202a"/><circle cx="88.8" cy="256.8" r="0.7" fill="#dd1f26"/><circle cx="88.4" cy="251.8" r="1.0" fill="#e8202a"/><circle cx="84.2" cy="255.1" r="1.0" fill="#f03a2c"/><circle cx="89.2" cy="254.0" r="0.8" fill="#dd1f26"/><circle cx="86.5" cy="251.2" r="1.0" fill="#f03a2c"/><circle cx="88.5" cy="252.5" r="0.8" fill="#dd1f26"/><circle cx="90.6" cy="255.1" r="0.9" fill="#ee2a2a"/><circle cx="89.6" cy="252.7" r="1.0" fill="#e52424"/><circle cx="87.0" cy="255.4" r="0.9" fill="#dd1f26"/><circle cx="89.4" cy="250.0" r="1.0" fill="#f03a2c"/><circle cx="85.9" cy="252.9" r="0.7" fill="#7cb342"/><circle cx="88.4" cy="250.6" r="0.8" fill="#ee2a2a"/><circle cx="85.8" cy="250.2" r="0.7" fill="#f03a2c"/><circle cx="91.2" cy="253.6" r="0.8" fill="#e52424"/><circle cx="88.9" cy="254.4" r="0.8" fill="#e52424"/><circle cx="84.9" cy="256.0" r="0.8" fill="#7cb342"/><circle cx="86.3" cy="255.4" r="0.9" fill="#f03a2c"/><circle cx="85.6" cy="256.9" r="1.0" fill="#ee2a2a"/><circle cx="90.2" cy="254.6" r="0.8" fill="#dd1f26"/><circle cx="87.9" cy="252.6" r="0.7" fill="#e8202a"/><circle cx="86.8" cy="250.2" r="0.8" fill="#f03a2c"/><circle cx="89.9" cy="250.7" r="0.7" fill="#ee2a2a"/><circle cx="87.1" cy="255.9" r="1.0" fill="#e8202a"/><circle cx="91.0" cy="251.6" r="0.6" fill="#f03a2c"/><circle cx="85.7" cy="255.1" r="0.7" fill="#dd1f26"/><circle cx="85.1" cy="256.1" r="0.8" fill="#e8202a"/><circle cx="87.3" cy="254.0" r="0.8" fill="#e52424"/><circle cx="88.6" cy="255.3" r="0.7" fill="#ee2a2a"/><circle cx="89.0" cy="253.2" r="1.0" fill="#f03a2c"/><circle cx="88.1" cy="253.0" r="1.0" fill="#7cb342"/><circle cx="91.4" cy="254.9" r="0.9" fill="#f03a2c"/><circle cx="88.5" cy="252.8" r="0.9" fill="#e52424"/><circle cx="85.4" cy="252.1" r="0.8" fill="#dd1f26"/><circle cx="87.6" cy="256.9" r="0.8" fill="#e52424"/><circle cx="84.3" cy="255.9" r="1.0" fill="#dd1f26"/><circle cx="86.8" cy="255.1" r="0.7" fill="#dd1f26"/><circle cx="85.6" cy="254.5" r="1.0" fill="#e52424"/><circle cx="86.8" cy="252.6" r="0.7" fill="#e52424"/><circle cx="90.0" cy="252.4" r="0.7" fill="#e52424"/><circle cx="90.7" cy="253.3" r="0.8" fill="#e8202a"/><circle cx="90.3" cy="253.6" r="1.0" fill="#ee2a2a"/><circle cx="89.1" cy="253.1" r="0.7" fill="#e52424"/><circle cx="89.7" cy="253.9" r="0.8" fill="#e52424"/><circle cx="89.2" cy="252.5" r="0.7" fill="#7cb342"/><circle cx="84.0" cy="252.4" r="0.7" fill="#dd1f26"/><circle cx="89.8" cy="252.7" r="0.7" fill="#e52424"/><circle cx="87.2" cy="254.6" r="0.8" fill="#dd1f26"/><circle cx="86.1" cy="255.7" r="0.9" fill="#e52424"/><circle cx="89.2" cy="254.0" r="0.6" fill="#dd1f26"/><circle cx="85.8" cy="251.5" r="0.7" fill="#ee2a2a"/><circle cx="91.5" cy="253.2" r="0.9" fill="#ee2a2a"/><circle cx="85.2" cy="256.8" r="0.9" fill="#ee2a2a"/></g>
<g><circle cx="87" cy="221.5" r="4.2" fill="#e8202a"/><circle cx="83.7" cy="224.8" r="1.0" fill="#ee2a2a"/><circle cx="89.3" cy="220.4" r="0.8" fill="#e52424"/><circle cx="90.5" cy="222.3" r="0.7" fill="#e8202a"/><circle cx="83.4" cy="219.6" r="0.7" fill="#dd1f26"/><circle cx="85.1" cy="225.8" r="0.8" fill="#dd1f26"/><circle cx="85.6" cy="221.8" r="1.0" fill="#e8202a"/><circle cx="84.8" cy="219.9" r="0.8" fill="#ee2a2a"/><circle cx="86.2" cy="220.7" r="0.8" fill="#e8202a"/><circle cx="85.4" cy="221.4" r="1.0" fill="#e8202a"/><circle cx="85.8" cy="221.2" r="0.9" fill="#f03a2c"/><circle cx="89.0" cy="219.1" r="0.9" fill="#dd1f26"/><circle cx="83.7" cy="221.4" r="0.7" fill="#f03a2c"/><circle cx="86.8" cy="222.4" r="0.8" fill="#f03a2c"/><circle cx="84.8" cy="219.2" r="0.8" fill="#ee2a2a"/><circle cx="83.8" cy="223.0" r="1.0" fill="#ee2a2a"/><circle cx="88.6" cy="223.0" r="0.7" fill="#ee2a2a"/><circle cx="87.3" cy="223.2" r="1.0" fill="#e52424"/><circle cx="87.9" cy="225.2" r="1.0" fill="#dd1f26"/><circle cx="84.2" cy="221.1" r="0.8" fill="#f03a2c"/><circle cx="83.2" cy="222.5" r="0.8" fill="#e52424"/><circle cx="82.3" cy="221.4" r="1.0" fill="#e52424"/><circle cx="83.2" cy="223.6" r="0.9" fill="#dd1f26"/><circle cx="88.7" cy="217.2" r="0.9" fill="#ee2a2a"/><circle cx="86.9" cy="219.2" r="0.7" fill="#e52424"/><circle cx="86.4" cy="221.1" r="0.8" fill="#ee2a2a"/><circle cx="86.8" cy="220.8" r="1.0" fill="#ee2a2a"/><circle cx="86.1" cy="220.7" r="0.8" fill="#dd1f26"/><circle cx="86.5" cy="219.8" r="0.8" fill="#e52424"/><circle cx="91.7" cy="220.4" r="0.7" fill="#dd1f26"/><circle cx="87.7" cy="224.9" r="1.0" fill="#ee2a2a"/><circle cx="90.3" cy="223.2" r="0.6" fill="#ee2a2a"/><circle cx="84.8" cy="221.4" r="0.7" fill="#e8202a"/><circle cx="86.1" cy="219.2" r="0.8" fill="#e52424"/><circle cx="87.8" cy="218.8" r="0.7" fill="#e8202a"/><circle cx="88.5" cy="219.6" r="0.8" fill="#dd1f26"/><circle cx="85.4" cy="225.9" r="0.7" fill="#dd1f26"/><circle cx="89.7" cy="221.2" r="0.8" fill="#e8202a"/><circle cx="87.3" cy="224.6" r="1.0" fill="#e8202a"/><circle cx="86.2" cy="224.0" r="1.0" fill="#ee2a2a"/><circle cx="86.3" cy="222.4" r="0.7" fill="#e8202a"/><circle cx="91.2" cy="220.0" r="0.8" fill="#e8202a"/><circle cx="90.1" cy="224.8" r="0.9" fill="#e52424"/><circle cx="86.1" cy="224.9" r="1.0" fill="#e8202a"/><circle cx="89.5" cy="222.8" r="1.0" fill="#e8202a"/><circle cx="89.9" cy="218.2" r="0.6" fill="#f03a2c"/><circle cx="91.5" cy="223.2" r="0.7" fill="#e8202a"/><circle cx="87.3" cy="222.5" r="1.0" fill="#f03a2c"/><circle cx="87.9" cy="217.0" r="0.9" fill="#ee2a2a"/><circle cx="84.9" cy="223.3" r="0.7" fill="#e8202a"/><circle cx="85.3" cy="225.9" r="0.8" fill="#dd1f26"/><circle cx="87.3" cy="222.6" r="0.8" fill="#f03a2c"/><circle cx="90.5" cy="223.0" r="0.9" fill="#f03a2c"/><circle cx="88.8" cy="225.4" r="0.7" fill="#ee2a2a"/><circle cx="86.1" cy="226.0" r="0.9" fill="#ee2a2a"/><circle cx="91.1" cy="223.3" r="0.8" fill="#ee2a2a"/><circle cx="86.0" cy="224.0" r="1.0" fill="#ee2a2a"/><circle cx="86.3" cy="221.9" r="0.8" fill="#ee2a2a"/><circle cx="86.8" cy="218.8" r="0.8" fill="#f03a2c"/><circle cx="84.1" cy="225.0" r="0.7" fill="#f03a2c"/><circle cx="86.6" cy="218.2" r="0.9" fill="#e8202a"/><circle cx="84.8" cy="220.9" r="0.9" fill="#ee2a2a"/><circle cx="90.4" cy="218.9" r="1.0" fill="#f03a2c"/><circle cx="89.2" cy="220.7" r="0.8" fill="#e8202a"/><circle cx="89.8" cy="222.7" r="0.8" fill="#e8202a"/><circle cx="84.8" cy="220.6" r="1.0" fill="#f03a2c"/><circle cx="89.6" cy="221.7" r="0.7" fill="#e8202a"/><circle cx="89.6" cy="223.5" r="0.9" fill="#e8202a"/><circle cx="90.2" cy="218.2" r="0.8" fill="#e52424"/><circle cx="90.4" cy="221.0" r="0.8" fill="#f03a2c"/><circle cx="82.9" cy="221.0" r="0.9" fill="#ee2a2a"/><circle cx="82.5" cy="221.4" r="0.7" fill="#f03a2c"/><circle cx="87.9" cy="221.2" r="0.8" fill="#ee2a2a"/><circle cx="88.2" cy="220.6" r="0.8" fill="#e52424"/></g>
<g><circle cx="91.2" cy="200.4" r="3.8" fill="#e8202a"/><circle cx="91.2" cy="198.6" r="0.7" fill="#ee2a2a"/><circle cx="94.2" cy="203.5" r="0.8" fill="#e8202a"/><circle cx="88.4" cy="197.2" r="1.0" fill="#f03a2c"/><circle cx="90.8" cy="198.6" r="0.9" fill="#e8202a"/><circle cx="89.2" cy="196.9" r="0.7" fill="#ee2a2a"/><circle cx="87.9" cy="198.1" r="1.0" fill="#ee2a2a"/><circle cx="91.3" cy="203.7" r="0.6" fill="#dd1f26"/><circle cx="92.9" cy="197.8" r="0.8" fill="#e8202a"/><circle cx="87.8" cy="201.2" r="0.8" fill="#e8202a"/><circle cx="92.8" cy="198.2" r="1.0" fill="#ee2a2a"/><circle cx="95.2" cy="201.9" r="0.7" fill="#e52424"/><circle cx="93.4" cy="197.9" r="0.7" fill="#f03a2c"/><circle cx="94.0" cy="201.8" r="0.9" fill="#ee2a2a"/><circle cx="93.0" cy="201.0" r="0.9" fill="#e52424"/><circle cx="92.6" cy="198.5" r="0.8" fill="#ee2a2a"/><circle cx="94.6" cy="199.1" r="0.9" fill="#ee2a2a"/><circle cx="89.1" cy="203.2" r="0.9" fill="#dd1f26"/><circle cx="90.3" cy="198.5" r="1.0" fill="#f03a2c"/><circle cx="89.5" cy="202.8" r="0.8" fill="#ee2a2a"/><circle cx="92.7" cy="200.1" r="0.6" fill="#f03a2c"/><circle cx="94.5" cy="199.8" r="1.0" fill="#7cb342"/><circle cx="92.9" cy="200.8" r="0.9" fill="#e8202a"/><circle cx="91.5" cy="199.6" r="1.0" fill="#e8202a"/><circle cx="92.7" cy="201.0" r="0.7" fill="#ee2a2a"/><circle cx="94.1" cy="197.7" r="1.0" fill="#e8202a"/><circle cx="91.9" cy="198.4" r="1.0" fill="#e8202a"/><circle cx="89.3" cy="197.9" r="0.8" fill="#f03a2c"/><circle cx="92.6" cy="201.6" r="0.7" fill="#e52424"/><circle cx="93.2" cy="203.0" r="1.0" fill="#e52424"/><circle cx="89.5" cy="198.8" r="0.7" fill="#e52424"/><circle cx="90.7" cy="196.2" r="0.7" fill="#dd1f26"/><circle cx="89.3" cy="201.8" r="0.7" fill="#e8202a"/><circle cx="89.5" cy="201.1" r="0.8" fill="#e8202a"/><circle cx="86.9" cy="199.7" r="0.7" fill="#e8202a"/><circle cx="92.1" cy="204.1" r="0.7" fill="#dd1f26"/><circle cx="94.5" cy="201.2" r="0.9" fill="#e8202a"/><circle cx="92.4" cy="196.3" r="1.0" fill="#ee2a2a"/><circle cx="88.8" cy="202.4" r="0.8" fill="#ee2a2a"/><circle cx="90.1" cy="202.0" r="0.8" fill="#dd1f26"/><circle cx="91.1" cy="202.2" r="0.8" fill="#7cb342"/><circle cx="90.3" cy="202.2" r="0.9" fill="#f03a2c"/><circle cx="93.0" cy="199.1" r="1.0" fill="#7cb342"/><circle cx="92.2" cy="196.6" r="0.8" fill="#ee2a2a"/><circle cx="92.0" cy="196.1" r="0.9" fill="#e8202a"/><circle cx="89.6" cy="199.3" r="0.7" fill="#f03a2c"/><circle cx="88.5" cy="200.3" r="0.9" fill="#e8202a"/><circle cx="91.4" cy="197.5" r="0.7" fill="#e8202a"/><circle cx="91.4" cy="197.4" r="1.0" fill="#ee2a2a"/><circle cx="91.1" cy="196.8" r="0.9" fill="#e52424"/><circle cx="93.6" cy="203.1" r="1.0" fill="#e52424"/><circle cx="91.5" cy="196.8" r="0.7" fill="#e52424"/><circle cx="87.4" cy="200.5" r="1.0" fill="#f03a2c"/><circle cx="91.2" cy="203.7" r="0.9" fill="#7cb342"/><circle cx="89.7" cy="198.4" r="0.8" fill="#f03a2c"/><circle cx="92.0" cy="201.4" r="0.9" fill="#e52424"/><circle cx="94.3" cy="198.8" r="0.8" fill="#dd1f26"/><circle cx="93.2" cy="196.6" r="0.9" fill="#dd1f26"/><circle cx="93.5" cy="202.2" r="0.7" fill="#dd1f26"/><circle cx="91.1" cy="197.5" r="0.7" fill="#f03a2c"/><circle cx="92.9" cy="201.3" r="0.9" fill="#ee2a2a"/></g>
<g><circle cx="41.2" cy="203.3" r="2.8" fill="#e8202a"/><circle cx="39.7" cy="201.3" r="1.0" fill="#ee2a2a"/><circle cx="42.5" cy="203.9" r="0.8" fill="#e52424"/><circle cx="39.3" cy="205.3" r="0.7" fill="#ee2a2a"/><circle cx="40.5" cy="203.3" r="1.0" fill="#dd1f26"/><circle cx="39.9" cy="201.4" r="0.8" fill="#f03a2c"/><circle cx="41.0" cy="200.9" r="1.0" fill="#e8202a"/><circle cx="42.7" cy="201.0" r="0.8" fill="#ee2a2a"/><circle cx="39.9" cy="202.2" r="0.9" fill="#dd1f26"/><circle cx="43.1" cy="205.6" r="0.9" fill="#e8202a"/><circle cx="41.5" cy="201.2" r="0.7" fill="#ee2a2a"/><circle cx="40.9" cy="206.4" r="0.7" fill="#e8202a"/><circle cx="40.2" cy="203.6" r="1.0" fill="#dd1f26"/><circle cx="39.8" cy="204.1" r="0.8" fill="#f03a2c"/><circle cx="40.1" cy="204.7" r="0.9" fill="#ee2a2a"/><circle cx="38.4" cy="203.6" r="0.7" fill="#ee2a2a"/><circle cx="42.5" cy="205.6" r="0.8" fill="#e8202a"/><circle cx="39.9" cy="205.6" r="0.8" fill="#e8202a"/><circle cx="40.3" cy="205.9" r="0.9" fill="#e8202a"/><circle cx="40.6" cy="205.2" r="0.8" fill="#dd1f26"/><circle cx="42.7" cy="203.5" r="1.0" fill="#f03a2c"/><circle cx="38.5" cy="202.3" r="0.9" fill="#e8202a"/><circle cx="39.7" cy="202.3" r="0.7" fill="#dd1f26"/><circle cx="41.5" cy="202.9" r="0.8" fill="#f03a2c"/><circle cx="41.1" cy="202.1" r="1.0" fill="#e52424"/><circle cx="41.1" cy="200.9" r="0.7" fill="#ee2a2a"/><circle cx="43.8" cy="203.1" r="1.0" fill="#e8202a"/><circle cx="39.5" cy="205.8" r="0.7" fill="#e8202a"/><circle cx="40.9" cy="204.3" r="0.8" fill="#f03a2c"/><circle cx="43.0" cy="204.7" r="1.0" fill="#e8202a"/><circle cx="40.6" cy="202.4" r="0.8" fill="#ee2a2a"/><circle cx="42.2" cy="201.6" r="0.8" fill="#ee2a2a"/><circle cx="38.5" cy="203.1" r="0.9" fill="#e52424"/></g>
<g><circle cx="54.4" cy="204.8" r="3.6" fill="#e8202a"/><circle cx="55.4" cy="205.7" r="0.9" fill="#e8202a"/><circle cx="54.9" cy="207.9" r="0.9" fill="#ee2a2a"/><circle cx="55.0" cy="207.2" r="1.0" fill="#dd1f26"/><circle cx="53.1" cy="203.8" r="0.8" fill="#e52424"/><circle cx="57.7" cy="207.1" r="0.8" fill="#dd1f26"/><circle cx="56.2" cy="208.3" r="0.8" fill="#f03a2c"/><circle cx="51.4" cy="202.3" r="0.8" fill="#ee2a2a"/><circle cx="57.9" cy="205.1" r="0.9" fill="#f03a2c"/><circle cx="56.9" cy="206.2" r="1.0" fill="#f03a2c"/><circle cx="51.0" cy="203.0" r="0.7" fill="#e52424"/><circle cx="57.8" cy="205.5" r="0.9" fill="#ee2a2a"/><circle cx="56.3" cy="207.8" r="1.0" fill="#e52424"/><circle cx="56.7" cy="202.5" r="0.7" fill="#e8202a"/><circle cx="53.3" cy="207.6" r="0.9" fill="#f03a2c"/><circle cx="56.1" cy="204.2" r="0.7" fill="#e8202a"/><circle cx="52.3" cy="207.4" r="1.0" fill="#f03a2c"/><circle cx="50.6" cy="204.8" r="0.9" fill="#ee2a2a"/><circle cx="51.9" cy="204.1" r="0.8" fill="#f03a2c"/><circle cx="54.6" cy="208.6" r="0.8" fill="#e52424"/><circle cx="54.5" cy="205.4" r="0.8" fill="#f03a2c"/><circle cx="51.0" cy="206.2" r="0.9" fill="#e8202a"/><circle cx="52.8" cy="202.7" r="0.9" fill="#e52424"/><circle cx="54.7" cy="206.4" r="0.7" fill="#dd1f26"/><circle cx="56.8" cy="207.0" r="1.0" fill="#dd1f26"/><circle cx="57.6" cy="206.3" r="0.7" fill="#e52424"/><circle cx="52.3" cy="205.5" r="0.8" fill="#e52424"/><circle cx="52.4" cy="206.2" r="0.9" fill="#e8202a"/><circle cx="54.6" cy="207.7" r="0.9" fill="#ee2a2a"/><circle cx="50.7" cy="204.2" r="1.0" fill="#f03a2c"/><circle cx="52.9" cy="202.9" r="0.8" fill="#dd1f26"/><circle cx="55.7" cy="204.4" r="0.9" fill="#e52424"/><circle cx="54.4" cy="205.7" r="0.8" fill="#ee2a2a"/><circle cx="57.8" cy="205.3" r="0.9" fill="#7cb342"/><circle cx="57.1" cy="204.6" r="0.7" fill="#f03a2c"/><circle cx="56.2" cy="203.1" r="0.7" fill="#f03a2c"/><circle cx="52.2" cy="205.0" r="0.8" fill="#ee2a2a"/><circle cx="55.0" cy="200.8" r="0.9" fill="#ee2a2a"/><circle cx="53.1" cy="201.5" r="0.7" fill="#e8202a"/><circle cx="55.6" cy="204.8" r="0.8" fill="#e52424"/><circle cx="52.0" cy="203.0" r="0.8" fill="#dd1f26"/><circle cx="51.4" cy="206.9" r="1.0" fill="#e8202a"/><circle cx="54.8" cy="207.1" r="0.9" fill="#ee2a2a"/><circle cx="52.9" cy="206.1" r="0.8" fill="#e52424"/><circle cx="52.2" cy="207.1" r="0.7" fill="#ee2a2a"/><circle cx="50.5" cy="204.4" r="1.0" fill="#ee2a2a"/><circle cx="50.8" cy="203.6" r="0.9" fill="#e8202a"/><circle cx="51.2" cy="202.9" r="0.7" fill="#e8202a"/><circle cx="52.3" cy="207.0" r="0.6" fill="#e52424"/><circle cx="55.0" cy="204.7" r="0.8" fill="#f03a2c"/><circle cx="50.7" cy="205.0" r="0.9" fill="#f03a2c"/><circle cx="56.4" cy="204.7" r="0.8" fill="#7cb342"/><circle cx="54.9" cy="205.6" r="1.0" fill="#dd1f26"/><circle cx="52.6" cy="208.0" r="0.8" fill="#dd1f26"/></g>
<g><circle cx="70" cy="202.7" r="2.4" fill="#e8202a"/><circle cx="68.6" cy="202.3" r="1.0" fill="#e52424"/><circle cx="72.1" cy="204.0" r="0.8" fill="#e8202a"/><circle cx="70.7" cy="202.6" r="0.8" fill="#ee2a2a"/><circle cx="70.2" cy="202.1" r="0.8" fill="#dd1f26"/><circle cx="67.7" cy="202.1" r="0.7" fill="#ee2a2a"/><circle cx="70.4" cy="204.9" r="0.9" fill="#dd1f26"/><circle cx="68.2" cy="202.4" r="0.8" fill="#e52424"/><circle cx="68.9" cy="202.6" r="0.8" fill="#f03a2c"/><circle cx="67.8" cy="202.5" r="0.9" fill="#dd1f26"/><circle cx="69.6" cy="201.1" r="1.0" fill="#e8202a"/><circle cx="69.7" cy="200.3" r="1.0" fill="#e52424"/><circle cx="70.8" cy="203.9" r="0.7" fill="#f03a2c"/><circle cx="71.0" cy="204.4" r="0.8" fill="#e52424"/><circle cx="71.9" cy="201.9" r="0.8" fill="#ee2a2a"/><circle cx="69.9" cy="202.5" r="0.9" fill="#f03a2c"/><circle cx="72.2" cy="201.6" r="0.7" fill="#ee2a2a"/><circle cx="70.0" cy="202.9" r="1.0" fill="#e8202a"/><circle cx="69.6" cy="200.5" r="0.8" fill="#e8202a"/><circle cx="71.7" cy="202.0" r="0.7" fill="#e8202a"/><circle cx="69.8" cy="202.7" r="0.7" fill="#f03a2c"/><circle cx="69.6" cy="203.1" r="0.9" fill="#e52424"/><circle cx="69.2" cy="202.7" r="0.7" fill="#ee2a2a"/><circle cx="71.1" cy="201.0" r="0.8" fill="#ee2a2a"/></g>
<g><circle cx="51.7" cy="195.8" r="1.6" fill="#e8202a"/><circle cx="50.9" cy="195.6" r="0.6" fill="#ee2a2a"/><circle cx="52.0" cy="195.8" r="0.8" fill="#ee2a2a"/><circle cx="52.7" cy="195.7" r="1.0" fill="#ee2a2a"/><circle cx="53.3" cy="196.1" r="1.0" fill="#dd1f26"/><circle cx="50.8" cy="195.6" r="1.0" fill="#e52424"/><circle cx="51.4" cy="195.7" r="0.6" fill="#dd1f26"/><circle cx="51.1" cy="194.6" r="0.9" fill="#e52424"/><circle cx="50.7" cy="194.7" r="0.7" fill="#f03a2c"/><circle cx="52.2" cy="195.6" r="0.8" fill="#e52424"/><circle cx="51.7" cy="196.2" r="0.7" fill="#e52424"/></g>
<g><circle cx="62.7" cy="195" r="1.4" fill="#e8202a"/><circle cx="63.1" cy="195.0" r="0.8" fill="#e8202a"/><circle cx="63.0" cy="195.3" r="0.7" fill="#ee2a2a"/><circle cx="63.4" cy="195.9" r="0.9" fill="#ee2a2a"/><circle cx="62.8" cy="196.2" r="0.8" fill="#ee2a2a"/><circle cx="63.1" cy="195.0" r="0.6" fill="#f03a2c"/><circle cx="62.4" cy="195.5" r="0.8" fill="#dd1f26"/><circle cx="63.3" cy="194.8" r="0.7" fill="#dd1f26"/><circle cx="62.5" cy="194.8" r="0.7" fill="#ee2a2a"/></g>
<g><circle cx="51.2" cy="217.3" r="3.7" fill="#e8202a"/><circle cx="52.8" cy="218.1" r="0.8" fill="#f03a2c"/><circle cx="47.7" cy="217.4" r="0.7" fill="#f03a2c"/><circle cx="50.8" cy="218.1" r="0.9" fill="#e52424"/><circle cx="51.1" cy="217.4" r="0.9" fill="#e52424"/><circle cx="48.4" cy="216.9" r="0.9" fill="#f03a2c"/><circle cx="53.3" cy="213.8" r="0.7" fill="#ee2a2a"/><circle cx="50.9" cy="217.9" r="0.8" fill="#e52424"/><circle cx="48.8" cy="218.3" r="1.0" fill="#f03a2c"/><circle cx="50.3" cy="218.5" r="0.8" fill="#e52424"/><circle cx="53.0" cy="220.5" r="0.9" fill="#dd1f26"/><circle cx="50.3" cy="216.8" r="0.7" fill="#dd1f26"/><circle cx="51.5" cy="219.5" r="0.7" fill="#ee2a2a"/><circle cx="52.3" cy="215.5" r="0.9" fill="#e52424"/><circle cx="52.8" cy="217.4" r="0.7" fill="#ee2a2a"/><circle cx="52.1" cy="216.3" r="0.7" fill="#f03a2c"/><circle cx="50.4" cy="219.6" r="0.7" fill="#e8202a"/><circle cx="48.3" cy="217.5" r="0.8" fill="#e8202a"/><circle cx="53.9" cy="216.5" r="1.0" fill="#f03a2c"/><circle cx="49.0" cy="215.3" r="0.8" fill="#f03a2c"/><circle cx="48.9" cy="219.4" r="0.8" fill="#f03a2c"/><circle cx="53.5" cy="219.8" r="0.8" fill="#e8202a"/><circle cx="52.5" cy="218.8" r="0.6" fill="#e8202a"/><circle cx="51.3" cy="217.4" r="1.0" fill="#e52424"/><circle cx="51.6" cy="215.1" r="1.0" fill="#f03a2c"/><circle cx="50.2" cy="217.6" r="0.8" fill="#e52424"/><circle cx="53.2" cy="216.5" r="1.0" fill="#f03a2c"/><circle cx="53.0" cy="217.1" r="0.9" fill="#dd1f26"/><circle cx="50.9" cy="220.7" r="0.8" fill="#ee2a2a"/><circle cx="51.5" cy="216.7" r="1.0" fill="#e52424"/><circle cx="51.8" cy="216.8" r="0.9" fill="#f03a2c"/><circle cx="49.6" cy="214.1" r="0.8" fill="#ee2a2a"/><circle cx="49.8" cy="218.3" r="0.9" fill="#e52424"/><circle cx="51.5" cy="219.9" r="0.8" fill="#e8202a"/><circle cx="55.0" cy="217.4" r="0.7" fill="#f03a2c"/><circle cx="53.3" cy="218.3" r="0.9" fill="#ee2a2a"/><circle cx="47.1" cy="217.2" r="1.0" fill="#7cb342"/><circle cx="54.0" cy="218.7" r="1.0" fill="#f03a2c"/><circle cx="51.5" cy="216.2" r="1.0" fill="#e8202a"/><circle cx="53.1" cy="217.0" r="0.8" fill="#7cb342"/><circle cx="49.5" cy="217.2" r="1.0" fill="#dd1f26"/><circle cx="51.1" cy="217.0" r="0.9" fill="#e8202a"/><circle cx="51.2" cy="215.7" r="0.7" fill="#7cb342"/><circle cx="53.3" cy="216.1" r="0.8" fill="#7cb342"/><circle cx="48.8" cy="214.2" r="0.8" fill="#f03a2c"/><circle cx="52.7" cy="215.7" r="0.9" fill="#f03a2c"/><circle cx="51.6" cy="216.7" r="0.8" fill="#f03a2c"/><circle cx="52.0" cy="215.4" r="0.7" fill="#dd1f26"/><circle cx="51.7" cy="219.4" r="1.0" fill="#e8202a"/><circle cx="47.7" cy="216.6" r="0.8" fill="#dd1f26"/><circle cx="53.3" cy="216.8" r="1.0" fill="#f03a2c"/><circle cx="53.9" cy="217.3" r="0.7" fill="#f03a2c"/><circle cx="50.3" cy="217.8" r="1.0" fill="#dd1f26"/><circle cx="49.7" cy="214.0" r="0.7" fill="#e52424"/><circle cx="50.3" cy="220.1" r="0.8" fill="#e52424"/><circle cx="48.4" cy="216.0" r="0.9" fill="#ee2a2a"/></g>
<g><circle cx="39.8" cy="213.7" r="1.4" fill="#e8202a"/><circle cx="38.8" cy="213.2" r="1.0" fill="#e52424"/><circle cx="38.5" cy="213.9" r="0.8" fill="#dd1f26"/><circle cx="40.2" cy="214.7" r="0.9" fill="#dd1f26"/><circle cx="39.3" cy="214.7" r="0.8" fill="#e52424"/><circle cx="40.8" cy="213.3" r="0.8" fill="#e52424"/><circle cx="38.5" cy="213.6" r="0.9" fill="#f03a2c"/><circle cx="40.1" cy="213.1" r="0.8" fill="#ee2a2a"/><circle cx="40.0" cy="213.9" r="1.0" fill="#e52424"/></g>
<g><circle cx="62.7" cy="215.2" r="1.8" fill="#e8202a"/><circle cx="63.2" cy="214.3" r="0.7" fill="#e8202a"/><circle cx="63.0" cy="214.7" r="0.8" fill="#8bc34a"/><circle cx="64.2" cy="214.9" r="0.9" fill="#e8202a"/><circle cx="63.9" cy="215.1" r="0.9" fill="#6aa84f"/><circle cx="62.9" cy="213.7" r="0.9" fill="#e8202a"/><circle cx="61.8" cy="215.6" r="0.8" fill="#8bc34a"/><circle cx="62.9" cy="213.6" r="0.8" fill="#e8202a"/><circle cx="61.9" cy="213.8" r="0.8" fill="#8bc34a"/><circle cx="62.3" cy="214.9" r="0.9" fill="#e52424"/><circle cx="62.6" cy="213.9" r="0.8" fill="#e8202a"/><circle cx="63.0" cy="215.0" r="0.9" fill="#6aa84f"/><circle cx="63.3" cy="215.3" r="0.8" fill="#8bc34a"/><circle cx="62.7" cy="214.4" r="0.7" fill="#e8202a"/></g>
<g><circle cx="80.5" cy="242" r="1.0" fill="#e8202a"/><circle cx="80.5" cy="242.5" r="0.9" fill="#dd1f26"/><circle cx="80.5" cy="242.0" r="0.9" fill="#ee2a2a"/><circle cx="80.7" cy="242.0" r="0.9" fill="#dd1f26"/><circle cx="80.6" cy="241.3" r="0.8" fill="#f03a2c"/></g>
<g><circle cx="99" cy="213" r="2.0" fill="#9ccc65"/><circle cx="97.5" cy="212.7" r="1.0" fill="#9ccc65"/><circle cx="99.9" cy="212.2" r="1.0" fill="#e8202a"/><circle cx="100.1" cy="212.7" r="0.9" fill="#aed581"/><circle cx="100.0" cy="213.7" r="0.6" fill="#aed581"/><circle cx="99.0" cy="212.5" r="0.7" fill="#7cb342"/><circle cx="98.9" cy="211.3" r="0.7" fill="#e8202a"/><circle cx="100.4" cy="212.4" r="0.9" fill="#7cb342"/><circle cx="98.3" cy="213.6" r="0.8" fill="#aed581"/><circle cx="97.8" cy="212.0" r="0.8" fill="#e8202a"/><circle cx="99.1" cy="214.7" r="0.7" fill="#9ccc65"/><circle cx="99.4" cy="212.0" r="0.7" fill="#7cb342"/><circle cx="99.7" cy="212.6" r="0.7" fill="#7cb342"/><circle cx="97.1" cy="213.6" r="0.8" fill="#e8202a"/><circle cx="97.8" cy="213.7" r="0.7" fill="#7cb342"/><circle cx="99.5" cy="213.6" r="0.8" fill="#7cb342"/><circle cx="97.5" cy="212.8" r="0.8" fill="#aed581"/></g>
<g><circle cx="107.5" cy="211" r="1.6" fill="#9ccc65"/><circle cx="106.2" cy="210.6" r="0.9" fill="#aed581"/><circle cx="107.2" cy="212.5" r="0.9" fill="#c5e1a5"/><circle cx="107.5" cy="209.5" r="0.7" fill="#7cb342"/><circle cx="108.0" cy="209.6" r="1.0" fill="#9ccc65"/><circle cx="106.5" cy="212.2" r="0.6" fill="#e8202a"/><circle cx="107.4" cy="211.1" r="0.9" fill="#9ccc65"/><circle cx="109.0" cy="211.2" r="0.7" fill="#7cb342"/><circle cx="107.7" cy="211.3" r="1.0" fill="#9ccc65"/><circle cx="107.2" cy="212.1" r="0.9" fill="#aed581"/><circle cx="106.1" cy="210.6" r="1.0" fill="#e8202a"/></g>
<g><circle cx="107" cy="216" r="1.6" fill="#9ccc65"/><circle cx="106.3" cy="217.4" r="1.0" fill="#7cb342"/><circle cx="107.0" cy="216.0" r="0.9" fill="#aed581"/><circle cx="106.8" cy="217.2" r="0.8" fill="#7cb342"/><circle cx="105.9" cy="215.7" r="1.0" fill="#e8202a"/><circle cx="106.2" cy="217.2" r="1.0" fill="#e8202a"/><circle cx="107.5" cy="216.9" r="0.9" fill="#aed581"/><circle cx="106.4" cy="215.9" r="0.9" fill="#7cb342"/><circle cx="106.7" cy="214.9" r="0.6" fill="#e8202a"/><circle cx="107.9" cy="215.4" r="0.9" fill="#aed581"/><circle cx="106.2" cy="216.5" r="0.7" fill="#e8202a"/></g>
<g><circle cx="101.7" cy="229" r="1.6" fill="#e8202a"/><circle cx="101.5" cy="228.6" r="0.9" fill="#dd1f26"/><circle cx="103.2" cy="229.3" r="0.8" fill="#e8202a"/><circle cx="102.7" cy="228.9" r="0.9" fill="#f03a2c"/><circle cx="102.7" cy="228.8" r="0.7" fill="#e8202a"/><circle cx="102.0" cy="229.2" r="0.7" fill="#e52424"/><circle cx="101.1" cy="228.2" r="0.9" fill="#e52424"/><circle cx="101.0" cy="228.1" r="0.7" fill="#dd1f26"/><circle cx="100.9" cy="228.3" r="0.7" fill="#e8202a"/><circle cx="100.9" cy="227.8" r="0.7" fill="#dd1f26"/><circle cx="101.8" cy="229.8" r="0.8" fill="#e8202a"/></g>
<g><circle cx="110.6" cy="233.3" r="3.2" fill="#e8202a"/><circle cx="109.2" cy="231.6" r="0.9" fill="#ee2a2a"/><circle cx="109.0" cy="235.0" r="0.7" fill="#e52424"/><circle cx="109.0" cy="232.3" r="0.9" fill="#8bc34a"/><circle cx="107.1" cy="233.9" r="0.9" fill="#6aa84f"/><circle cx="111.4" cy="232.9" r="0.8" fill="#e8202a"/><circle cx="110.3" cy="233.2" r="0.8" fill="#e8202a"/><circle cx="111.2" cy="234.1" r="0.7" fill="#e52424"/><circle cx="111.3" cy="232.7" r="0.9" fill="#8bc34a"/><circle cx="109.7" cy="231.5" r="1.0" fill="#7cb342"/><circle cx="110.2" cy="235.0" r="0.8" fill="#e52424"/><circle cx="110.3" cy="232.5" r="0.8" fill="#6aa84f"/><circle cx="109.4" cy="236.7" r="0.7" fill="#e8202a"/><circle cx="111.9" cy="232.4" r="0.8" fill="#ee2a2a"/><circle cx="113.6" cy="233.9" r="0.8" fill="#e8202a"/><circle cx="112.4" cy="231.4" r="0.7" fill="#e8202a"/><circle cx="112.0" cy="235.1" r="0.9" fill="#e52424"/><circle cx="110.1" cy="232.9" r="0.8" fill="#e8202a"/><circle cx="111.3" cy="234.3" r="0.8" fill="#8bc34a"/><circle cx="111.3" cy="235.2" r="0.7" fill="#e8202a"/><circle cx="110.9" cy="231.0" r="0.8" fill="#6aa84f"/><circle cx="110.4" cy="234.5" r="0.7" fill="#8bc34a"/><circle cx="110.1" cy="231.3" r="0.7" fill="#ee2a2a"/><circle cx="108.4" cy="232.8" r="0.8" fill="#e8202a"/><circle cx="110.8" cy="231.6" r="0.8" fill="#7cb342"/><circle cx="109.3" cy="233.8" r="0.8" fill="#ee2a2a"/><circle cx="108.9" cy="232.3" r="0.7" fill="#e52424"/><circle cx="113.2" cy="233.7" r="1.0" fill="#6aa84f"/><circle cx="110.0" cy="232.7" r="0.7" fill="#ee2a2a"/><circle cx="109.1" cy="235.0" r="0.7" fill="#e8202a"/><circle cx="109.0" cy="233.6" r="0.9" fill="#6aa84f"/><circle cx="109.1" cy="232.5" r="0.7" fill="#8bc34a"/><circle cx="108.9" cy="235.9" r="0.9" fill="#e8202a"/><circle cx="113.2" cy="234.3" r="0.8" fill="#8bc34a"/><circle cx="109.4" cy="234.6" r="0.9" fill="#e8202a"/><circle cx="112.2" cy="234.9" r="1.0" fill="#7cb342"/><circle cx="110.9" cy="235.9" r="1.0" fill="#e8202a"/><circle cx="109.4" cy="233.1" r="1.0" fill="#8bc34a"/><circle cx="110.6" cy="234.9" r="0.8" fill="#ee2a2a"/><circle cx="113.5" cy="232.1" r="1.0" fill="#8bc34a"/><circle cx="112.5" cy="231.5" r="0.8" fill="#e8202a"/><circle cx="112.2" cy="233.7" r="0.8" fill="#ee2a2a"/><circle cx="111.0" cy="233.8" r="1.0" fill="#e8202a"/></g>
<g><circle cx="102.3" cy="244.4" r="2.4" fill="#e8202a"/><circle cx="102.7" cy="245.9" r="0.7" fill="#6aa84f"/><circle cx="102.3" cy="244.3" r="0.9" fill="#e8202a"/><circle cx="101.7" cy="245.2" r="0.9" fill="#e52424"/><circle cx="101.2" cy="242.3" r="0.8" fill="#e8202a"/><circle cx="100.9" cy="245.1" r="0.9" fill="#e8202a"/><circle cx="100.8" cy="245.6" r="0.7" fill="#e8202a"/><circle cx="101.1" cy="244.7" r="0.8" fill="#e8202a"/><circle cx="101.9" cy="242.1" r="0.9" fill="#8bc34a"/><circle cx="103.7" cy="243.4" r="0.9" fill="#6aa84f"/><circle cx="103.1" cy="242.0" r="1.0" fill="#6aa84f"/><circle cx="101.3" cy="243.0" r="0.8" fill="#e8202a"/><circle cx="103.5" cy="246.6" r="0.9" fill="#ee2a2a"/><circle cx="102.9" cy="242.3" r="1.0" fill="#6aa84f"/><circle cx="103.1" cy="242.4" r="0.8" fill="#8bc34a"/><circle cx="102.6" cy="244.6" r="0.9" fill="#e8202a"/><circle cx="100.2" cy="245.6" r="0.9" fill="#e8202a"/><circle cx="101.7" cy="245.0" r="1.0" fill="#8bc34a"/><circle cx="101.7" cy="243.8" r="0.8" fill="#ee2a2a"/><circle cx="100.0" cy="244.2" r="0.7" fill="#e8202a"/><circle cx="102.4" cy="246.2" r="0.9" fill="#6aa84f"/><circle cx="101.1" cy="246.5" r="1.0" fill="#e52424"/><circle cx="103.9" cy="242.6" r="1.0" fill="#ee2a2a"/><circle cx="103.6" cy="243.0" r="0.7" fill="#ee2a2a"/></g>
<g><circle cx="95.4" cy="239.6" r="1.5" fill="#e8202a"/><circle cx="94.1" cy="240.0" r="0.6" fill="#e52424"/><circle cx="94.8" cy="238.6" r="0.7" fill="#e52424"/><circle cx="95.2" cy="240.8" r="1.0" fill="#dd1f26"/><circle cx="95.8" cy="239.3" r="0.9" fill="#dd1f26"/><circle cx="95.0" cy="238.3" r="0.7" fill="#dd1f26"/><circle cx="95.1" cy="240.2" r="0.8" fill="#dd1f26"/><circle cx="95.0" cy="238.7" r="1.0" fill="#f03a2c"/><circle cx="96.4" cy="238.7" r="0.8" fill="#e52424"/><circle cx="95.5" cy="240.1" r="0.7" fill="#e52424"/></g>
<ellipse cx="56.4" cy="241.7" rx="25.2" ry="20.4" fill="none" stroke="#e0202c" stroke-width="1.2" transform="rotate(0 56.4 241.7)"/>
<ellipse cx="91.5" cy="198.9" rx="7.6" ry="7.6" fill="none" stroke="#efe25e" stroke-width="1.1" transform="rotate(0 91.5 198.9)"/>
<ellipse cx="104.4" cy="213.2" rx="9.3" ry="8.4" fill="none" stroke="#2a62b8" stroke-width="1.1" transform="rotate(0 104.4 213.2)"/>
<ellipse cx="108" cy="231.9" rx="9.3" ry="8.8" fill="none" stroke="#1a1a1a" stroke-width="1.4" transform="rotate(0 108 231.9)"/>
<ellipse cx="99.2" cy="242" rx="6.8" ry="8.2" fill="none" stroke="#1fa67a" stroke-width="1.1" transform="rotate(0 99.2 242)"/>
<text x="140" y="202.4" font-size="7" font-weight="normal" fill="#333" text-anchor="start" stroke="#333" stroke-width="0.08">FDR (<tspan font-style="italic">q</tspan>-value)</text>
<rect x="137.5" y="205" width="54.5" height="11" fill="url(#fdr)"/>
<path d="M137.8 216 v4.5 M191.7 216 v4.5" stroke="#555" stroke-width="0.6"/>
<text x="132" y="227.8" font-size="6.6" font-weight="normal" fill="#333" text-anchor="start" stroke="#333" stroke-width="0.08">10<tspan font-size="4.8" dy="-2.5">-22</tspan></text>
<text x="185.5" y="227.8" font-size="6.6" font-weight="normal" fill="#333" text-anchor="start" stroke="#333" stroke-width="0.08">10<tspan font-size="4.8" dy="-2.5">-1</tspan></text>
<text x="131" y="237.8" font-size="7" font-weight="normal" fill="#333" text-anchor="start" stroke="#333" stroke-width="0.08">GO term size (genes)</text>
<circle cx="136" cy="246.2" r="0.7" fill="#e81f2c"/>
<circle cx="146.8" cy="246" r="1.2" fill="#e81f2c"/>
<circle cx="156.3" cy="245.2" r="2.2" fill="#e81f2c"/>
<circle cx="167" cy="244.6" r="3.2" fill="#e81f2c"/>
<circle cx="180.6" cy="243.8" r="4.3" fill="#e81f2c"/>
<text x="133" y="257.2" font-size="6.6" font-weight="normal" fill="#333" text-anchor="start" stroke="#333" stroke-width="0.08">4</text>
<path d="M146.6 254.89999999999998 H161" stroke="#111" stroke-width="1"/><path d="M144.6 254.89999999999998 l3.4 -2 v4 z M163 254.89999999999998 l-3.4 -2 v4 z" fill="#111"/>
<text x="169" y="257.2" font-size="6.6" font-weight="normal" fill="#333" text-anchor="start" stroke="#333" stroke-width="0.08">17,182</text>
<text x="43" y="275.3" font-size="7" font-weight="bold" fill="#222" text-anchor="middle" stroke="#222" stroke-width="0.15">Sub-</text>
<text x="43" y="283.90000000000003" font-size="7" font-weight="bold" fill="#222" text-anchor="middle" stroke="#222" stroke-width="0.15">network</text>
<text x="96.5" y="283.90000000000003" font-size="7" font-weight="bold" fill="#222" text-anchor="start" stroke="#222" stroke-width="0.15">Enriched GO terms</text>
<circle cx="43" cy="291" r="3.2" fill="#fff" stroke="#e0202c" stroke-width="1"/>
<text x="60.8" y="293.5" font-size="7" font-weight="normal" fill="#333" text-anchor="start" stroke="#333" stroke-width="0.08">Metabolic process catabolic</text>
<circle cx="43" cy="299.5" r="3.2" fill="#fff" stroke="#f2dc3c" stroke-width="1"/>
<text x="60.8" y="302.0" font-size="7" font-weight="normal" fill="#333" text-anchor="start" stroke="#333" stroke-width="0.08">Templated transcription polymerase</text>
<circle cx="43" cy="308" r="3.2" fill="#fff" stroke="#2a62b8" stroke-width="1"/>
<text x="60.8" y="310.5" font-size="7" font-weight="normal" fill="#333" text-anchor="start" stroke="#333" stroke-width="0.08">Embryonic morphogenesis kidney</text>
<circle cx="43" cy="316.5" r="3.2" fill="#fff" stroke="#1a1a1a" stroke-width="1"/>
<text x="60.8" y="319.0" font-size="7" font-weight="normal" fill="#333" text-anchor="start" stroke="#333" stroke-width="0.08">Regulation phosphorylation kinase</text>
<circle cx="43" cy="325" r="3.2" fill="#fff" stroke="#3fae49" stroke-width="1"/>
<text x="60.8" y="327.5" font-size="7" font-weight="normal" fill="#333" text-anchor="start" stroke="#333" stroke-width="0.08">Regulation apoptosis autophagy</text>
<ellipse cx="300" cy="225" rx="24" ry="22" fill="#cfe3f3" opacity="0.6" filter="url(#hz)" transform="rotate(0 300 225)"/>
<ellipse cx="325" cy="205" rx="11" ry="11" fill="#cfe3f3" opacity="0.85" filter="url(#hz)" transform="rotate(0 325 205)"/>
<ellipse cx="332" cy="233.5" rx="7" ry="7" fill="#cfe3f3" opacity="0.85" filter="url(#hz)" transform="rotate(0 332 233.5)"/>
<ellipse cx="283" cy="248" rx="14" ry="10" fill="#cfe3f3" opacity="0.45" filter="url(#hz)" transform="rotate(0 283 248)"/>
<ellipse cx="312" cy="246" rx="11" ry="10" fill="#cfe3f3" opacity="0.45" filter="url(#hz)" transform="rotate(0 312 246)"/>
<ellipse cx="281" cy="208" rx="10" ry="10" fill="#cfe3f3" opacity="0.35" filter="url(#hz)" transform="rotate(0 281 208)"/>
<g><circle cx="281" cy="208" r="5.5" fill="#e8202a"/><circle cx="281.2" cy="212.5" r="2.0" fill="#f03a2c"/><circle cx="282.5" cy="205.3" r="2.7" fill="#f03a2c"/><circle cx="286.4" cy="206.9" r="2.4" fill="#f7941e"/><circle cx="278.1" cy="212.4" r="2.2" fill="#dd1f26"/><circle cx="275.6" cy="211.7" r="2.7" fill="#e8202a"/><circle cx="280.0" cy="207.8" r="2.5" fill="#e52424"/><circle cx="279.0" cy="210.8" r="2.3" fill="#f15a29"/><circle cx="286.1" cy="205.5" r="2.0" fill="#f15a29"/><circle cx="287.3" cy="209.2" r="2.0" fill="#e8202a"/><circle cx="286.5" cy="204.4" r="2.7" fill="#fcd34a"/><circle cx="283.1" cy="203.5" r="2.0" fill="#e52424"/><circle cx="285.9" cy="205.8" r="2.8" fill="#f03a2c"/><circle cx="284.8" cy="207.5" r="2.3" fill="#f03a2c"/><circle cx="281.9" cy="203.1" r="2.9" fill="#e52424"/><circle cx="285.2" cy="211.8" r="2.5" fill="#ee2a2a"/><circle cx="283.8" cy="202.9" r="2.9" fill="#f03a2c"/><circle cx="278.1" cy="204.3" r="2.4" fill="#dd1f26"/><circle cx="286.3" cy="205.3" r="2.7" fill="#e8202a"/><circle cx="278.8" cy="212.1" r="2.7" fill="#dd1f26"/><circle cx="275.8" cy="211.4" r="2.1" fill="#fcd34a"/></g>
<g><circle cx="303" cy="209.6" r="4.2" fill="#f15a29"/><circle cx="304.0" cy="209.5" r="2.6" fill="#fcd34a"/><circle cx="304.7" cy="207.4" r="1.8" fill="#f7941e"/><circle cx="305.6" cy="213.6" r="2.2" fill="#f7941e"/><circle cx="306.0" cy="208.9" r="1.8" fill="#ee2a2a"/><circle cx="302.7" cy="209.9" r="1.9" fill="#f7941e"/><circle cx="299.3" cy="210.0" r="2.3" fill="#fcd34a"/><circle cx="299.2" cy="211.8" r="2.8" fill="#fcd34a"/><circle cx="306.4" cy="208.5" r="2.5" fill="#fbb040"/><circle cx="301.4" cy="209.2" r="2.4" fill="#ee2a2a"/><circle cx="302.3" cy="207.3" r="2.1" fill="#e8202a"/><circle cx="299.9" cy="211.2" r="2.6" fill="#ee2a2a"/></g>
<g><circle cx="325.6" cy="205.6" r="3.9" fill="#e8202a"/><circle cx="322.5" cy="202.8" r="2.1" fill="#e52424"/><circle cx="321.9" cy="206.0" r="2.0" fill="#f7941e"/><circle cx="325.0" cy="201.5" r="1.7" fill="#ee2a2a"/><circle cx="328.1" cy="205.2" r="1.8" fill="#e52424"/><circle cx="326.4" cy="205.9" r="1.9" fill="#ee2a2a"/><circle cx="325.8" cy="207.1" r="2.2" fill="#e52424"/><circle cx="327.5" cy="203.1" r="2.1" fill="#e8202a"/><circle cx="324.8" cy="207.0" r="2.5" fill="#fbb040"/><circle cx="323.2" cy="207.1" r="1.9" fill="#fcd34a"/><circle cx="326.1" cy="206.3" r="2.3" fill="#f7941e"/><circle cx="325.9" cy="208.1" r="2.6" fill="#ee2a2a"/></g>
<g><circle cx="293" cy="229.2" r="4.9" fill="#e8202a"/><circle cx="294.7" cy="228.2" r="2.4" fill="#f03a2c"/><circle cx="296.0" cy="226.7" r="2.0" fill="#e52424"/><circle cx="290.0" cy="227.6" r="2.8" fill="#ee2a2a"/><circle cx="292.8" cy="228.0" r="2.9" fill="#dd1f26"/><circle cx="291.5" cy="229.7" r="2.2" fill="#e52424"/><circle cx="295.6" cy="228.0" r="2.0" fill="#e52424"/><circle cx="298.4" cy="227.3" r="2.4" fill="#e8202a"/><circle cx="292.6" cy="229.6" r="2.1" fill="#ee2a2a"/><circle cx="292.7" cy="227.0" r="2.8" fill="#ee2a2a"/><circle cx="288.9" cy="233.1" r="1.8" fill="#ee2a2a"/><circle cx="288.9" cy="230.6" r="2.9" fill="#ee2a2a"/><circle cx="293.2" cy="233.6" r="2.5" fill="#dd1f26"/><circle cx="293.3" cy="232.4" r="2.2" fill="#f03a2c"/><circle cx="288.7" cy="232.8" r="2.4" fill="#f03a2c"/><circle cx="297.7" cy="226.7" r="2.1" fill="#e52424"/><circle cx="290.1" cy="229.5" r="2.8" fill="#dd1f26"/></g>
<g><circle cx="333.7" cy="199" r="1.4" fill="#fcd34a"/><circle cx="334.8" cy="198.3" r="1.0" fill="#fde98a"/><circle cx="332.8" cy="198.5" r="0.9" fill="#fcd34a"/><circle cx="334.2" cy="199.1" r="0.7" fill="#fbb040"/><circle cx="334.4" cy="200.1" r="1.0" fill="#fcd34a"/><circle cx="333.7" cy="198.7" r="0.7" fill="#fde98a"/><circle cx="333.4" cy="197.5" r="0.9" fill="#fbb040"/><circle cx="332.7" cy="197.8" r="0.8" fill="#fcd34a"/><circle cx="333.1" cy="198.7" r="1.0" fill="#fde98a"/><circle cx="332.8" cy="200.2" r="0.8" fill="#fde98a"/><circle cx="333.6" cy="199.7" r="0.8" fill="#fde98a"/><circle cx="334.6" cy="200.1" r="0.6" fill="#fbb040"/></g>
<g><circle cx="323.7" cy="197.5" r="1.0" fill="#f7941e"/><circle cx="323.9" cy="198.3" r="0.6" fill="#ee2a2a"/><circle cx="323.7" cy="197.6" r="0.8" fill="#f7941e"/><circle cx="324.4" cy="198.3" r="0.9" fill="#fcd34a"/><circle cx="323.3" cy="197.3" r="0.7" fill="#ee2a2a"/><circle cx="323.9" cy="198.0" r="0.9" fill="#fcd34a"/><circle cx="323.5" cy="197.4" r="0.6" fill="#f7941e"/></g>
<g><circle cx="333" cy="209" r="1.0" fill="#f15a29"/><circle cx="332.4" cy="209.6" r="0.7" fill="#fcd34a"/><circle cx="332.7" cy="208.3" r="0.7" fill="#fcd34a"/><circle cx="333.6" cy="209.7" r="0.9" fill="#fbb040"/><circle cx="333.5" cy="208.9" r="0.9" fill="#f7941e"/><circle cx="332.4" cy="208.4" r="0.8" fill="#fbb040"/><circle cx="333.3" cy="209.2" r="0.6" fill="#f7941e"/></g>
<g><circle cx="319.6" cy="214" r="1.0" fill="#f7941e"/><circle cx="318.9" cy="214.4" r="0.8" fill="#fbb040"/><circle cx="319.6" cy="215.0" r="0.6" fill="#f7941e"/><circle cx="319.9" cy="214.7" r="0.7" fill="#fbb040"/><circle cx="319.9" cy="214.5" r="0.8" fill="#ee2a2a"/><circle cx="319.6" cy="214.3" r="0.8" fill="#f7941e"/><circle cx="320.3" cy="213.3" r="0.9" fill="#fbb040"/></g>
<g><circle cx="328" cy="215.8" r="1.0" fill="#fcd34a"/><circle cx="328.4" cy="216.3" r="0.8" fill="#fbb040"/><circle cx="327.8" cy="215.5" r="0.9" fill="#fcd34a"/><circle cx="328.1" cy="215.4" r="0.8" fill="#fde98a"/><circle cx="328.3" cy="216.5" r="0.9" fill="#fcd34a"/><circle cx="327.8" cy="214.8" r="0.9" fill="#fcd34a"/><circle cx="327.9" cy="215.0" r="0.7" fill="#fcd34a"/></g>
<g><circle cx="272" cy="225.6" r="2.4" fill="#ee2a2a"/><circle cx="274.2" cy="227.0" r="1.1" fill="#fcd34a"/><circle cx="273.3" cy="223.7" r="1.2" fill="#fcd34a"/><circle cx="274.2" cy="224.3" r="1.6" fill="#f15a29"/><circle cx="270.4" cy="225.2" r="1.3" fill="#f15a29"/><circle cx="274.4" cy="225.4" r="1.0" fill="#fcd34a"/><circle cx="273.2" cy="225.9" r="1.5" fill="#f15a29"/><circle cx="272.3" cy="225.1" r="1.2" fill="#f15a29"/><circle cx="272.8" cy="227.8" r="1.3" fill="#fcd34a"/><circle cx="271.9" cy="225.8" r="1.5" fill="#f15a29"/><circle cx="271.4" cy="227.0" r="1.1" fill="#f15a29"/><circle cx="272.5" cy="226.5" r="1.2" fill="#f7941e"/></g>
<g><circle cx="309.6" cy="225.6" r="1.8" fill="#e8202a"/><circle cx="311.0" cy="225.3" r="1.0" fill="#dd1f26"/><circle cx="309.1" cy="227.0" r="1.2" fill="#ee2a2a"/><circle cx="310.9" cy="226.5" r="0.9" fill="#e52424"/><circle cx="310.4" cy="225.6" r="1.1" fill="#ee2a2a"/><circle cx="311.0" cy="226.1" r="0.8" fill="#e8202a"/><circle cx="310.7" cy="225.1" r="0.9" fill="#e8202a"/><circle cx="308.5" cy="224.6" r="0.9" fill="#f03a2c"/><circle cx="310.7" cy="226.7" r="0.8" fill="#ee2a2a"/><circle cx="308.8" cy="225.5" r="0.8" fill="#dd1f26"/><circle cx="308.0" cy="225.6" r="0.8" fill="#e8202a"/><circle cx="309.6" cy="225.6" r="1.0" fill="#e8202a"/></g>
<g><circle cx="310.8" cy="218.7" r="1.0" fill="#f7941e"/><circle cx="310.4" cy="218.5" r="0.8" fill="#fbb040"/><circle cx="311.0" cy="219.5" r="0.9" fill="#ee2a2a"/><circle cx="310.4" cy="218.5" r="0.8" fill="#f7941e"/><circle cx="311.6" cy="219.1" r="0.9" fill="#fbb040"/><circle cx="309.7" cy="218.8" r="0.8" fill="#fbb040"/><circle cx="311.6" cy="219.1" r="0.6" fill="#f7941e"/></g>
<g><circle cx="331.7" cy="233" r="3.9" fill="#e8202a"/><circle cx="334.9" cy="233.9" r="1.7" fill="#f03a2c"/><circle cx="330.4" cy="235.7" r="2.7" fill="#ee2a2a"/><circle cx="329.0" cy="229.8" r="1.7" fill="#fcd34a"/><circle cx="333.9" cy="236.7" r="2.1" fill="#ee2a2a"/><circle cx="335.2" cy="232.5" r="2.4" fill="#f15a29"/><circle cx="329.6" cy="233.2" r="2.3" fill="#e52424"/><circle cx="330.3" cy="232.4" r="2.2" fill="#e52424"/><circle cx="333.4" cy="229.0" r="2.2" fill="#e52424"/><circle cx="329.5" cy="231.6" r="2.2" fill="#f03a2c"/><circle cx="332.0" cy="237.2" r="2.0" fill="#f15a29"/><circle cx="332.3" cy="235.8" r="2.3" fill="#e52424"/></g>
<circle cx="331.3" cy="233.2" r="1.9" fill="#fcd34a"/>
<g><circle cx="318.5" cy="246.5" r="3.1" fill="#e8202a"/><circle cx="317.2" cy="245.8" r="1.9" fill="#ee2a2a"/><circle cx="320.7" cy="247.1" r="1.6" fill="#e52424"/><circle cx="319.1" cy="244.9" r="1.7" fill="#dd1f26"/><circle cx="315.6" cy="248.1" r="1.4" fill="#f03a2c"/><circle cx="319.2" cy="249.5" r="1.7" fill="#f15a29"/><circle cx="317.0" cy="248.0" r="1.4" fill="#f15a29"/><circle cx="318.8" cy="244.7" r="1.5" fill="#e52424"/><circle cx="317.5" cy="249.1" r="1.9" fill="#f15a29"/><circle cx="319.6" cy="245.8" r="1.7" fill="#ee2a2a"/><circle cx="320.8" cy="249.0" r="1.4" fill="#e52424"/><circle cx="318.0" cy="245.6" r="1.8" fill="#f15a29"/></g>
<g><circle cx="305" cy="250.6" r="1.8" fill="#e8202a"/><circle cx="305.3" cy="252.5" r="1.2" fill="#e8202a"/><circle cx="305.7" cy="251.4" r="0.8" fill="#dd1f26"/><circle cx="306.8" cy="250.7" r="0.9" fill="#dd1f26"/><circle cx="304.8" cy="251.3" r="1.0" fill="#ee2a2a"/><circle cx="306.8" cy="250.2" r="1.2" fill="#e8202a"/><circle cx="304.8" cy="250.8" r="0.9" fill="#e8202a"/><circle cx="306.6" cy="251.1" r="1.0" fill="#e8202a"/><circle cx="305.0" cy="251.1" r="1.0" fill="#dd1f26"/><circle cx="305.9" cy="251.3" r="0.8" fill="#f03a2c"/><circle cx="305.5" cy="250.6" r="0.9" fill="#dd1f26"/><circle cx="305.2" cy="252.0" r="1.2" fill="#f03a2c"/></g>
<g><circle cx="308.7" cy="239.6" r="1.8" fill="#f7941e"/><circle cx="307.4" cy="239.2" r="0.9" fill="#fbb040"/><circle cx="309.6" cy="240.1" r="0.8" fill="#f7941e"/><circle cx="307.0" cy="238.6" r="0.9" fill="#f7941e"/><circle cx="309.6" cy="238.5" r="0.8" fill="#fcd34a"/><circle cx="307.1" cy="239.9" r="1.2" fill="#f7941e"/><circle cx="307.3" cy="238.3" r="0.8" fill="#f7941e"/><circle cx="307.1" cy="239.7" r="0.8" fill="#fcd34a"/><circle cx="307.7" cy="239.9" r="1.1" fill="#ee2a2a"/><circle cx="309.1" cy="240.4" r="1.2" fill="#f7941e"/><circle cx="307.9" cy="240.8" r="0.8" fill="#fbb040"/><circle cx="308.2" cy="239.2" r="1.2" fill="#ee2a2a"/></g>
<g><circle cx="283" cy="251.2" r="4.2" fill="#e8202a"/><circle cx="281.7" cy="254.5" r="2.1" fill="#f15a29"/><circle cx="280.4" cy="251.7" r="2.8" fill="#e8202a"/><circle cx="282.0" cy="249.6" r="2.2" fill="#ee2a2a"/><circle cx="280.1" cy="247.7" r="2.2" fill="#fcd34a"/><circle cx="284.3" cy="253.4" r="2.5" fill="#fcd34a"/><circle cx="285.1" cy="254.1" r="2.7" fill="#e8202a"/><circle cx="281.9" cy="250.4" r="2.1" fill="#e8202a"/><circle cx="285.0" cy="250.6" r="2.6" fill="#f7941e"/><circle cx="282.3" cy="255.8" r="1.9" fill="#e52424"/><circle cx="284.6" cy="250.1" r="2.7" fill="#ee2a2a"/><circle cx="278.9" cy="249.0" r="2.3" fill="#f15a29"/></g>
<g><circle cx="288.3" cy="244.4" r="1.4" fill="#e8202a"/><circle cx="288.7" cy="245.5" r="0.9" fill="#e8202a"/><circle cx="287.4" cy="244.6" r="0.6" fill="#e8202a"/><circle cx="288.7" cy="243.6" r="0.8" fill="#dd1f26"/><circle cx="287.8" cy="243.6" r="0.8" fill="#ee2a2a"/><circle cx="288.4" cy="245.3" r="0.8" fill="#f03a2c"/><circle cx="287.8" cy="243.3" r="0.9" fill="#f03a2c"/><circle cx="287.4" cy="243.1" r="0.7" fill="#dd1f26"/><circle cx="289.6" cy="244.4" r="0.7" fill="#dd1f26"/><circle cx="289.3" cy="243.4" r="0.7" fill="#dd1f26"/><circle cx="289.5" cy="244.9" r="0.6" fill="#dd1f26"/><circle cx="287.6" cy="245.7" r="0.8" fill="#e8202a"/></g>
<g><circle cx="289.4" cy="258.3" r="1.8" fill="#f15a29"/><circle cx="290.1" cy="258.0" r="1.2" fill="#f7941e"/><circle cx="290.2" cy="257.6" r="1.1" fill="#f7941e"/><circle cx="288.7" cy="258.3" r="1.2" fill="#f7941e"/><circle cx="289.6" cy="258.1" r="1.0" fill="#f15a29"/><circle cx="289.6" cy="257.2" r="1.0" fill="#f7941e"/><circle cx="288.8" cy="256.7" r="0.9" fill="#fcd34a"/><circle cx="288.0" cy="257.7" r="1.2" fill="#fbb040"/><circle cx="290.3" cy="257.6" r="1.2" fill="#f15a29"/><circle cx="289.0" cy="259.2" r="0.9" fill="#ee2a2a"/><circle cx="289.3" cy="259.0" r="1.1" fill="#ee2a2a"/><circle cx="288.7" cy="257.9" r="0.8" fill="#f7941e"/></g>
<g><circle cx="273.3" cy="253.7" r="1.4" fill="#f7941e"/><circle cx="272.1" cy="253.7" r="0.9" fill="#fcd34a"/><circle cx="272.9" cy="255.1" r="0.6" fill="#fcd34a"/><circle cx="272.7" cy="254.5" r="0.7" fill="#fbb040"/><circle cx="273.2" cy="253.8" r="0.8" fill="#f7941e"/><circle cx="272.7" cy="253.0" r="0.8" fill="#fbb040"/><circle cx="274.0" cy="254.4" r="0.9" fill="#fcd34a"/><circle cx="272.5" cy="254.0" r="0.7" fill="#fbb040"/><circle cx="273.5" cy="252.5" r="0.8" fill="#fbb040"/><circle cx="273.5" cy="253.9" r="0.7" fill="#f7941e"/><circle cx="272.9" cy="253.6" r="0.7" fill="#f7941e"/><circle cx="272.9" cy="253.9" r="0.7" fill="#f7941e"/></g>
<g><circle cx="274.8" cy="245.4" r="1.0" fill="#fcd34a"/><circle cx="273.8" cy="245.1" r="0.8" fill="#fbb040"/><circle cx="274.7" cy="245.6" r="0.8" fill="#fde98a"/><circle cx="274.0" cy="245.1" r="0.8" fill="#fcd34a"/><circle cx="274.9" cy="245.1" r="0.7" fill="#fcd34a"/><circle cx="275.0" cy="245.3" r="0.9" fill="#fbb040"/><circle cx="274.4" cy="245.8" r="0.8" fill="#fcd34a"/></g>
<ellipse cx="280.3" cy="207.9" rx="11.4" ry="11.6" fill="none" stroke="#3fae49" stroke-width="1.1" transform="rotate(0 280.3 207.9)"/>
<ellipse cx="325.3" cy="204.6" rx="12.4" ry="13.1" fill="none" stroke="#1a1a1a" stroke-width="1.4" transform="rotate(0 325.3 204.6)"/>
<ellipse cx="332.1" cy="233.5" rx="8.8" ry="8.8" fill="none" stroke="#2a62b8" stroke-width="1.3" transform="rotate(0 332.1 233.5)"/>
<ellipse cx="312" cy="247.1" rx="12.2" ry="11.9" fill="none" stroke="#efe25e" stroke-width="1.2" transform="rotate(0 312 247.1)"/>
<ellipse cx="282.4" cy="252" rx="15.3" ry="13.2" fill="none" stroke="#e0202c" stroke-width="1.2" transform="rotate(0 282.4 252)"/>
<text x="363" y="204.3" font-size="7" font-weight="normal" fill="#333" text-anchor="start" stroke="#333" stroke-width="0.08">FDR (<tspan font-style="italic">q</tspan>-value)</text>
<rect x="360.8" y="206.5" width="54.0" height="10.5" fill="url(#fdr)"/>
<path d="M361.1 217 v4.5 M414.5 217 v4.5" stroke="#555" stroke-width="0.6"/>
<text x="354.6" y="228.8" font-size="6.6" font-weight="normal" fill="#333" text-anchor="start" stroke="#333" stroke-width="0.08">10<tspan font-size="4.8" dy="-2.5">-5</tspan></text>
<text x="406.5" y="228.8" font-size="6.6" font-weight="normal" fill="#333" text-anchor="start" stroke="#333" stroke-width="0.08">10<tspan font-size="4.8" dy="-2.5">-1</tspan></text>
<text x="354.6" y="239.6" font-size="7" font-weight="normal" fill="#333" text-anchor="start" stroke="#333" stroke-width="0.08">GO term size (genes)</text>
<circle cx="360" cy="247.3" r="0.7" fill="#e81f2c"/>
<circle cx="370.6" cy="247.2" r="1.2" fill="#e81f2c"/>
<circle cx="379.8" cy="246.5" r="2.1" fill="#e81f2c"/>
<circle cx="390" cy="245.8" r="3.1" fill="#e81f2c"/>
<circle cx="403.5" cy="245" r="4.3" fill="#e81f2c"/>
<text x="358.3" y="259" font-size="6.6" font-weight="normal" fill="#333" text-anchor="start" stroke="#333" stroke-width="0.08">4</text>
<path d="M370.5 256.7 H383.4" stroke="#111" stroke-width="1"/><path d="M368.5 256.7 l3.4 -2 v4 z M385.4 256.7 l-3.4 -2 v4 z" fill="#111"/>
<text x="391.8" y="259" font-size="6.6" font-weight="normal" fill="#333" text-anchor="start" stroke="#333" stroke-width="0.08">9,486</text>
<text x="280.5" y="275.2" font-size="7" font-weight="bold" fill="#222" text-anchor="middle" stroke="#222" stroke-width="0.15">Sub-</text>
<text x="280.5" y="283.8" font-size="7" font-weight="bold" fill="#222" text-anchor="middle" stroke="#222" stroke-width="0.15">network</text>
<text x="335.7" y="283.8" font-size="7" font-weight="bold" fill="#222" text-anchor="start" stroke="#222" stroke-width="0.15">Enriched GO terms</text>
<circle cx="280.5" cy="291" r="3.2" fill="#fff" stroke="#e0202c" stroke-width="1"/>
<text x="298.3" y="293.5" font-size="7" font-weight="normal" fill="#333" text-anchor="start" stroke="#333" stroke-width="0.08">Cell-cycle mitosis</text>
<circle cx="280.5" cy="299.5" r="3.2" fill="#fff" stroke="#f2dc3c" stroke-width="1"/>
<text x="298.3" y="302.0" font-size="7" font-weight="normal" fill="#333" text-anchor="start" stroke="#333" stroke-width="0.08">Myeloid immune activation</text>
<circle cx="280.5" cy="308" r="3.2" fill="#fff" stroke="#2a62b8" stroke-width="1"/>
<text x="298.3" y="310.5" font-size="7" font-weight="normal" fill="#333" text-anchor="start" stroke="#333" stroke-width="0.08">Signal transduction cascade</text>
<circle cx="280.5" cy="316.5" r="3.2" fill="#fff" stroke="#1a1a1a" stroke-width="1"/>
<text x="298.3" y="319.0" font-size="7" font-weight="normal" fill="#333" text-anchor="start" stroke="#333" stroke-width="0.08">Cell projection assembly</text>
<circle cx="280.5" cy="325" r="3.2" fill="#fff" stroke="#3fae49" stroke-width="1"/>
<text x="298.3" y="327.5" font-size="7" font-weight="normal" fill="#333" text-anchor="start" stroke="#333" stroke-width="0.08">Morphogenesis development differentiation</text>
<text x="136.8" y="343.2" font-size="8.7" font-weight="bold" fill="#111" text-anchor="middle" font-style="italic" stroke="#111" stroke-width="0.19">GRHL2</text>
<text x="73.8" y="347.7" font-size="3.4" font-weight="normal" fill="#333" text-anchor="start" stroke="#333" stroke-width="0.04" textLength="52" lengthAdjust="spacingAndGlyphs">Human Dec. 2013 (GRCh38/hg38)</text>
<text x="200" y="347.7" font-size="3.4" font-weight="normal" fill="#333" text-anchor="end" stroke="#333" stroke-width="0.04" textLength="70" lengthAdjust="spacingAndGlyphs">chr8:101,605,192-101,610,265 (5,074 bp)</text>
<path d="M101.8 350.6 H170 M101.8 349.7 v1.8 M170 349.7 v1.8" stroke="#333" stroke-width="0.45" fill="none"/>
<text x="101" y="351.8" font-size="3.4" font-weight="normal" fill="#333" text-anchor="end" stroke="#333" stroke-width="0.04">2 kb</text>
<text x="172" y="351.8" font-size="3.4" font-weight="normal" fill="#333" text-anchor="start" stroke="#333" stroke-width="0.04" textLength="9.5" lengthAdjust="spacingAndGlyphs">hg38</text>
<text x="78.4" y="355.9" font-size="3.5" font-weight="normal" fill="#333" text-anchor="end" stroke="#333" stroke-width="0.04" textLength="20" lengthAdjust="spacingAndGlyphs">101,606,000</text>
<line x1="80" y1="353.2" x2="80" y2="356.2" stroke="#333" stroke-width="0.45"/>
<text x="110.7" y="355.9" font-size="3.5" font-weight="normal" fill="#333" text-anchor="end" stroke="#333" stroke-width="0.04" textLength="20" lengthAdjust="spacingAndGlyphs">101,607,000</text>
<line x1="112.3" y1="353.2" x2="112.3" y2="356.2" stroke="#333" stroke-width="0.45"/>
<text x="144.4" y="355.9" font-size="3.5" font-weight="normal" fill="#333" text-anchor="end" stroke="#333" stroke-width="0.04" textLength="20" lengthAdjust="spacingAndGlyphs">101,608,000</text>
<line x1="146" y1="353.2" x2="146" y2="356.2" stroke="#333" stroke-width="0.45"/>
<text x="178.4" y="355.9" font-size="3.5" font-weight="normal" fill="#333" text-anchor="end" stroke="#333" stroke-width="0.04" textLength="20" lengthAdjust="spacingAndGlyphs">101,609,000</text>
<line x1="180" y1="353.2" x2="180" y2="356.2" stroke="#333" stroke-width="0.45"/>
<text x="210.4" y="355.9" font-size="3.5" font-weight="normal" fill="#333" text-anchor="end" stroke="#333" stroke-width="0.04" textLength="20" lengthAdjust="spacingAndGlyphs">101,610,000</text>
<line x1="212" y1="353.2" x2="212" y2="356.2" stroke="#333" stroke-width="0.45"/>
<text x="38.2" y="363.9" font-size="7" font-weight="normal" fill="#222" text-anchor="end" stroke="#222" stroke-width="0.08">ATAC</text>
<text x="38.2" y="374.5" font-size="7" font-weight="normal" fill="#222" text-anchor="end" stroke="#222" stroke-width="0.08">H3K27ac</text>
<text x="38.2" y="385.2" font-size="7" font-weight="normal" fill="#222" text-anchor="end" stroke="#222" stroke-width="0.08">H3K4me1</text>
<text x="38.2" y="396.1" font-size="7" font-weight="normal" fill="#222" text-anchor="end" stroke="#222" stroke-width="0.08">FOXA1</text>
<text x="38.2" y="404.1" font-size="7" font-weight="normal" fill="#222" text-anchor="end" stroke="#222" stroke-width="0.08">KDM6A</text>
<text x="52.4" y="360.2" font-size="6" font-weight="bold" fill="#1d6cb8" text-anchor="end" stroke="#1d6cb8" stroke-width="0.13">RT4</text>
<text x="52.4" y="365.9" font-size="6" font-weight="bold" fill="#e21f3a" text-anchor="end" stroke="#e21f3a" stroke-width="0.13">K2</text>
<text x="52.4" y="371.3" font-size="6" font-weight="bold" fill="#1d6cb8" text-anchor="end" stroke="#1d6cb8" stroke-width="0.13">RT4</text>
<text x="52.4" y="377" font-size="6" font-weight="bold" fill="#e21f3a" text-anchor="end" stroke="#e21f3a" stroke-width="0.13">K2</text>
<text x="52.4" y="382.3" font-size="6" font-weight="bold" fill="#1d6cb8" text-anchor="end" stroke="#1d6cb8" stroke-width="0.13">RT4</text>
<text x="52.4" y="387.4" font-size="6" font-weight="bold" fill="#e21f3a" text-anchor="end" stroke="#e21f3a" stroke-width="0.13">K2</text>
<text x="52.4" y="393.1" font-size="6" font-weight="bold" fill="#1d6cb8" text-anchor="end" stroke="#1d6cb8" stroke-width="0.13">RT4</text>
<text x="52.4" y="398.3" font-size="6" font-weight="bold" fill="#e21f3a" text-anchor="end" stroke="#e21f3a" stroke-width="0.13">K2</text>
<text x="52.4" y="403.6" font-size="6" font-weight="bold" fill="#1d6cb8" text-anchor="end" stroke="#1d6cb8" stroke-width="0.13">RT4</text>
<rect x="53" y="359.7" width="158" height="1.7" fill="#cfe2f1"/>
<line x1="53" y1="361.2" x2="211" y2="361.2" stroke="#9cc3e2" stroke-width="0.5"/>
<path d="M53 361.2L53.0 361.1L53.6 361.1L54.3 361.1L54.9 361.0L55.5 361.1L56.1 361.1L56.8 361.1L57.4 361.2L58.0 361.1L58.6 361.1L59.3 361.1L59.9 361.1L60.5 361.1L61.2 361.2L61.8 361.1L62.4 361.1L63.0 361.1L63.7 361.1L64.3 361.1L64.9 361.1L65.5 361.1L66.2 361.1L66.8 361.1L67.4 361.1L68.0 361.1L68.7 361.1L69.3 361.1L69.9 361.1L70.6 361.1L71.2 361.1L71.8 361.1L72.4 361.1L73.1 361.1L73.7 361.1L74.3 361.1L74.9 361.1L75.6 361.1L76.2 361.1L76.8 361.1L77.5 361.2L78.1 361.1L78.7 361.2L79.3 361.1L80.0 361.2L80.6 361.2L81.2 361.2L81.8 361.1L82.5 361.1L83.1 361.1L83.7 361.1L84.3 361.1L85.0 361.1L85.6 361.1L86.2 361.1L86.9 361.1L87.5 361.1L88.1 361.1L88.7 361.1L89.4 361.1L90.0 361.2L90.6 361.2L91.2 361.1L91.9 361.1L92.5 361.0L93.1 361.1L93.8 361.1L94.4 361.1L95.0 361.0L95.6 361.0L96.3 361.1L96.9 361.1L97.5 361.1L98.1 361.1L98.8 361.0L99.4 361.1L100.0 361.1L100.7 361.1L101.3 361.1L101.9 361.1L102.5 361.1L103.2 361.1L103.8 361.1L104.4 361.1L105.0 361.1L105.7 361.1L106.3 361.2L106.9 361.1L107.5 361.1L108.2 361.1L108.8 361.1L109.4 361.1L110.1 361.2L110.7 361.1L111.3 361.1L111.9 361.1L112.6 361.1L113.2 361.1L113.8 361.1L114.4 361.1L115.1 361.1L115.7 361.1L116.3 361.1L117.0 361.1L117.6 361.1L118.2 361.1L118.8 361.1L119.5 361.1L120.1 361.1L120.7 361.1L121.3 361.1L122.0 361.1L122.6 361.1L123.2 361.1L123.8 361.1L124.5 361.0L125.1 361.1L125.7 361.1L126.4 361.1L127.0 361.0L127.6 360.9L128.2 360.8L128.9 360.6L129.5 360.3L130.1 360.0L130.7 359.7L131.4 359.3L132.0 359.1L132.6 358.9L133.3 358.8L133.9 358.7L134.5 358.6L135.1 358.6L135.8 358.2L136.4 358.0L137.0 357.8L137.6 357.7L138.3 357.6L138.9 357.3L139.5 357.3L140.2 357.4L140.8 356.8L141.4 356.3L142.0 356.0L142.7 356.4L143.3 356.8L143.9 356.9L144.5 356.9L145.2 356.9L145.8 357.2L146.4 357.4L147.0 357.4L147.7 357.7L148.3 358.0L148.9 358.3L149.6 358.3L150.2 358.4L150.8 358.8L151.4 358.9L152.1 359.1L152.7 359.5L153.3 359.9L153.9 360.3L154.6 360.4L155.2 360.7L155.8 360.7L156.5 360.8L157.1 360.9L157.7 361.0L158.3 361.1L159.0 361.1L159.6 361.1L160.2 361.1L160.8 361.1L161.5 361.2L162.1 361.1L162.7 361.1L163.3 361.1L164.0 361.2L164.6 361.2L165.2 361.1L165.9 361.1L166.5 361.1L167.1 361.1L167.7 361.1L168.4 361.1L169.0 361.2L169.6 361.2L170.2 361.1L170.9 361.1L171.5 361.1L172.1 361.1L172.8 361.1L173.4 361.1L174.0 361.1L174.6 361.1L175.3 361.1L175.9 361.0L176.5 361.1L177.1 361.1L177.8 361.2L178.4 361.2L179.0 361.1L179.7 361.1L180.3 361.0L180.9 361.0L181.5 361.0L182.2 361.1L182.8 361.1L183.4 361.2L184.0 361.2L184.7 361.1L185.3 361.1L185.9 361.1L186.5 361.1L187.2 361.1L187.8 361.1L188.4 361.1L189.1 361.1L189.7 361.1L190.3 361.1L190.9 361.0L191.6 361.0L192.2 361.1L192.8 361.1L193.4 361.2L194.1 361.1L194.7 361.1L195.3 361.1L196.0 361.1L196.6 361.2L197.2 361.1L197.8 361.1L198.5 361.1L199.1 361.0L199.7 361.0L200.3 361.1L201.0 361.1L201.6 361.1L202.2 361.1L202.8 361.1L203.5 361.1L204.1 361.1L204.7 361.1L205.4 361.1L206.0 361.1L206.6 361.1L207.2 361.1L207.9 361.1L208.5 361.1L209.1 361.0L209.7 361.0L210.4 361.0L211.0 361.0L211 361.2Z" fill="#1f6fb2"/>
<line x1="53" y1="366.6" x2="211" y2="366.6" stroke="#d7232e" stroke-width="0.5"/>
<path d="M53 366.6L53.0 366.5L53.6 366.5L54.3 366.5L54.9 366.5L55.5 366.5L56.1 366.5L56.8 366.5L57.4 366.5L58.0 366.5L58.6 366.5L59.3 366.5L59.9 366.5L60.5 366.5L61.2 366.5L61.8 366.5L62.4 366.6L63.0 366.5L63.7 366.5L64.3 366.5L64.9 366.5L65.5 366.5L66.2 366.5L66.8 366.5L67.4 366.5L68.0 366.5L68.7 366.5L69.3 366.5L69.9 366.5L70.6 366.5L71.2 366.6L71.8 366.5L72.4 366.5L73.1 366.5L73.7 366.5L74.3 366.5L74.9 366.5L75.6 366.5L76.2 366.5L76.8 366.5L77.5 366.5L78.1 366.5L78.7 366.5L79.3 366.5L80.0 366.5L80.6 366.5L81.2 366.4L81.8 366.4L82.5 366.5L83.1 366.5L83.7 366.5L84.3 366.5L85.0 366.5L85.6 366.5L86.2 366.5L86.9 366.5L87.5 366.5L88.1 366.4L88.7 366.5L89.4 366.5L90.0 366.5L90.6 366.5L91.2 366.5L91.9 366.5L92.5 366.4L93.1 366.5L93.8 366.5L94.4 366.5L95.0 366.5L95.6 366.5L96.3 366.5L96.9 366.5L97.5 366.5L98.1 366.5L98.8 366.5L99.4 366.5L100.0 366.5L100.7 366.5L101.3 366.5L101.9 366.5L102.5 366.5L103.2 366.5L103.8 366.6L104.4 366.6L105.0 366.6L105.7 366.6L106.3 366.6L106.9 366.5L107.5 366.5L108.2 366.5L108.8 366.5L109.4 366.5L110.1 366.6L110.7 366.5L111.3 366.5L111.9 366.5L112.6 366.5L113.2 366.5L113.8 366.5L114.4 366.5L115.1 366.5L115.7 366.5L116.3 366.5L117.0 366.6L117.6 366.5L118.2 366.5L118.8 366.5L119.5 366.5L120.1 366.4L120.7 366.4L121.3 366.5L122.0 366.5L122.6 366.6L123.2 366.5L123.8 366.5L124.5 366.4L125.1 366.4L125.7 366.4L126.4 366.4L127.0 366.4L127.6 366.4L128.2 366.4L128.9 366.3L129.5 366.2L130.1 366.1L130.7 366.1L131.4 366.0L132.0 365.9L132.6 365.7L133.3 365.5L133.9 365.4L134.5 365.1L135.1 364.8L135.8 364.5L136.4 364.4L137.0 364.5L137.6 364.3L138.3 364.2L138.9 364.0L139.5 364.2L140.2 364.3L140.8 364.1L141.4 363.9L142.0 363.6L142.7 363.3L143.3 363.2L143.9 362.9L144.5 363.3L145.2 363.2L145.8 363.3L146.4 363.0L147.0 363.5L147.7 363.7L148.3 364.1L148.9 364.0L149.6 364.2L150.2 364.4L150.8 364.4L151.4 364.3L152.1 364.3L152.7 364.4L153.3 364.7L153.9 365.1L154.6 365.4L155.2 365.8L155.8 365.9L156.5 366.1L157.1 366.2L157.7 366.4L158.3 366.5L159.0 366.5L159.6 366.5L160.2 366.5L160.8 366.5L161.5 366.5L162.1 366.5L162.7 366.5L163.3 366.5L164.0 366.5L164.6 366.5L165.2 366.5L165.9 366.5L166.5 366.5L167.1 366.5L167.7 366.5L168.4 366.5L169.0 366.5L169.6 366.5L170.2 366.5L170.9 366.5L171.5 366.5L172.1 366.5L172.8 366.5L173.4 366.5L174.0 366.4L174.6 366.4L175.3 366.4L175.9 366.4L176.5 366.5L177.1 366.5L177.8 366.5L178.4 366.5L179.0 366.5L179.7 366.5L180.3 366.5L180.9 366.5L181.5 366.5L182.2 366.5L182.8 366.5L183.4 366.5L184.0 366.5L184.7 366.4L185.3 366.5L185.9 366.4L186.5 366.4L187.2 366.4L187.8 366.5L188.4 366.5L189.1 366.5L189.7 366.5L190.3 366.4L190.9 366.5L191.6 366.5L192.2 366.5L192.8 366.5L193.4 366.5L194.1 366.6L194.7 366.6L195.3 366.5L196.0 366.5L196.6 366.4L197.2 366.4L197.8 366.4L198.5 366.4L199.1 366.4L199.7 366.4L200.3 366.5L201.0 366.5L201.6 366.5L202.2 366.5L202.8 366.5L203.5 366.5L204.1 366.5L204.7 366.5L205.4 366.5L206.0 366.5L206.6 366.5L207.2 366.5L207.9 366.5L208.5 366.5L209.1 366.5L209.7 366.5L210.4 366.5L211.0 366.5L211 366.6Z" fill="#d7232e"/>
<line x1="53" y1="372.1" x2="211" y2="372.1" stroke="#1f6fb2" stroke-width="0.5"/>
<path d="M53 372.1L53.0 370.6L53.6 370.8L54.3 371.0L54.9 371.2L55.5 371.6L56.1 371.6L56.8 371.6L57.4 371.4L58.0 371.2L58.6 370.6L59.3 370.8L59.9 371.3L60.5 371.6L61.2 371.1L61.8 371.1L62.4 371.0L63.0 371.4L63.7 371.3L64.3 371.0L64.9 370.9L65.5 370.6L66.2 370.4L66.8 369.9L67.4 369.9L68.0 369.8L68.7 369.9L69.3 369.5L69.9 369.9L70.6 370.1L71.2 370.3L71.8 369.8L72.4 369.6L73.1 369.7L73.7 370.4L74.3 370.7L74.9 370.9L75.6 370.5L76.2 370.1L76.8 369.5L77.5 370.0L78.1 370.2L78.7 370.8L79.3 370.9L80.0 371.3L80.6 371.3L81.2 371.4L81.8 371.4L82.5 371.1L83.1 371.2L83.7 370.7L84.3 370.8L85.0 370.7L85.6 370.9L86.2 370.6L86.9 369.7L87.5 369.5L88.1 369.7L88.7 369.8L89.4 370.0L90.0 370.1L90.6 370.2L91.2 370.0L91.9 369.8L92.5 369.9L93.1 369.6L93.8 370.3L94.4 370.4L95.0 370.9L95.6 370.6L96.3 370.4L96.9 370.0L97.5 370.1L98.1 370.4L98.8 370.7L99.4 370.8L100.0 370.8L100.7 370.4L101.3 370.3L101.9 370.3L102.5 370.4L103.2 370.1L103.8 369.7L104.4 369.5L105.0 369.1L105.7 368.6L106.3 368.1L106.9 367.5L107.5 367.9L108.2 367.3L108.8 368.0L109.4 367.8L110.1 367.9L110.7 368.0L111.3 367.6L111.9 367.5L112.6 366.3L113.2 366.1L113.8 366.8L114.4 367.5L115.1 367.4L115.7 367.7L116.3 367.9L117.0 367.5L117.6 366.7L118.2 366.4L118.8 366.9L119.5 367.2L120.1 366.3L120.7 366.5L121.3 366.0L122.0 366.2L122.6 366.2L123.2 366.8L123.8 367.1L124.5 367.0L125.1 366.5L125.7 366.7L126.4 366.1L127.0 366.4L127.6 366.7L128.2 366.9L128.9 366.4L129.5 365.9L130.1 366.5L130.7 366.9L131.4 366.8L132.0 367.8L132.6 368.4L133.3 369.4L133.9 369.3L134.5 369.5L135.1 369.3L135.8 369.0L136.4 368.5L137.0 368.9L137.6 369.7L138.3 369.8L138.9 369.6L139.5 369.3L140.2 370.4L140.8 371.1L141.4 371.0L142.0 370.9L142.7 370.3L143.3 370.6L143.9 370.4L144.5 370.5L145.2 370.9L145.8 371.2L146.4 371.3L147.0 370.8L147.7 370.0L148.3 369.4L148.9 369.2L149.6 369.1L150.2 369.2L150.8 368.9L151.4 368.5L152.1 368.0L152.7 368.0L153.3 367.8L153.9 367.4L154.6 368.4L155.2 369.2L155.8 369.5L156.5 368.9L157.1 368.7L157.7 368.1L158.3 368.1L159.0 367.3L159.6 368.2L160.2 368.4L160.8 369.2L161.5 368.8L162.1 368.9L162.7 368.4L163.3 369.1L164.0 369.8L164.6 370.6L165.2 371.1L165.9 371.3L166.5 371.6L167.1 371.6L167.7 371.6L168.4 371.4L169.0 371.4L169.6 371.4L170.2 371.4L170.9 371.6L171.5 371.6L172.1 371.4L172.8 371.6L173.4 371.5L174.0 371.8L174.6 371.4L175.3 371.5L175.9 370.8L176.5 370.9L177.1 370.6L177.8 370.9L178.4 370.6L179.0 370.5L179.7 370.3L180.3 370.9L180.9 371.2L181.5 371.1L182.2 370.8L182.8 370.0L183.4 370.1L184.0 369.6L184.7 369.8L185.3 369.5L185.9 369.6L186.5 369.4L187.2 369.9L187.8 370.3L188.4 370.9L189.1 371.0L189.7 370.6L190.3 370.3L190.9 370.5L191.6 371.1L192.2 371.3L192.8 371.0L193.4 370.9L194.1 371.2L194.7 371.4L195.3 371.2L196.0 370.7L196.6 370.3L197.2 370.9L197.8 371.0L198.5 371.4L199.1 371.4L199.7 371.3L200.3 371.3L201.0 371.3L201.6 371.8L202.2 371.4L202.8 371.1L203.5 370.9L204.1 370.9L204.7 371.1L205.4 370.8L206.0 370.9L206.6 371.0L207.2 371.5L207.9 371.6L208.5 371.5L209.1 371.2L209.7 371.1L210.4 370.9L211.0 370.9L211 372.1Z" fill="#1f6fb2"/>
<line x1="53" y1="377.5" x2="211" y2="377.5" stroke="#d7232e" stroke-width="0.5"/>
<path d="M53 377.5L53.0 375.2L53.6 375.4L54.3 376.1L54.9 376.5L55.5 376.4L56.1 375.9L56.8 376.1L57.4 376.5L58.0 376.4L58.6 376.2L59.3 375.7L59.9 376.2L60.5 375.6L61.2 375.4L61.8 375.1L62.4 375.3L63.0 375.7L63.7 375.7L64.3 375.4L64.9 375.3L65.5 375.4L66.2 375.5L66.8 375.7L67.4 375.9L68.0 375.9L68.7 376.1L69.3 375.8L69.9 375.6L70.6 375.0L71.2 375.4L71.8 375.8L72.4 375.8L73.1 375.8L73.7 375.3L74.3 376.0L74.9 375.6L75.6 376.5L76.2 376.2L76.8 376.3L77.5 375.9L78.1 375.9L78.7 375.9L79.3 375.4L80.0 375.9L80.6 376.3L81.2 377.0L81.8 376.9L82.5 377.1L83.1 377.0L83.7 376.8L84.3 376.8L85.0 376.8L85.6 377.1L86.2 376.6L86.9 376.4L87.5 376.3L88.1 376.4L88.7 375.9L89.4 375.3L90.0 375.3L90.6 375.3L91.2 375.2L91.9 375.3L92.5 374.9L93.1 374.9L93.8 374.2L94.4 374.1L95.0 373.9L95.6 374.4L96.3 374.8L96.9 375.0L97.5 375.0L98.1 375.5L98.8 375.4L99.4 375.8L100.0 375.5L100.7 376.0L101.3 376.2L101.9 376.2L102.5 376.2L103.2 375.6L103.8 375.6L104.4 375.9L105.0 376.1L105.7 375.8L106.3 375.4L106.9 375.0L107.5 375.8L108.2 375.7L108.8 376.0L109.4 375.7L110.1 375.9L110.7 375.7L111.3 375.6L111.9 375.6L112.6 375.4L113.2 375.2L113.8 374.6L114.4 374.7L115.1 374.7L115.7 375.4L116.3 375.0L117.0 375.1L117.6 374.7L118.2 374.9L118.8 375.0L119.5 375.0L120.1 375.1L120.7 374.5L121.3 374.3L122.0 373.9L122.6 374.3L123.2 373.8L123.8 373.7L124.5 374.0L125.1 374.8L125.7 375.1L126.4 374.9L127.0 374.6L127.6 374.9L128.2 375.0L128.9 375.7L129.5 375.8L130.1 376.0L130.7 375.5L131.4 375.5L132.0 376.2L132.6 376.5L133.3 376.5L133.9 376.5L134.5 376.5L135.1 376.1L135.8 375.9L136.4 375.9L137.0 376.3L137.6 375.5L138.3 375.3L138.9 374.6L139.5 374.7L140.2 375.0L140.8 375.2L141.4 375.8L142.0 375.3L142.7 375.4L143.3 375.3L143.9 375.5L144.5 375.4L145.2 375.8L145.8 376.5L146.4 376.9L147.0 376.9L147.7 376.7L148.3 376.7L148.9 376.1L149.6 375.9L150.2 375.4L150.8 375.7L151.4 376.1L152.1 376.3L152.7 376.6L153.3 376.3L153.9 376.6L154.6 375.9L155.2 376.1L155.8 375.3L156.5 375.9L157.1 375.9L157.7 376.4L158.3 375.9L159.0 375.3L159.6 374.7L160.2 375.0L160.8 375.7L161.5 376.1L162.1 376.5L162.7 376.0L163.3 376.1L164.0 375.6L164.6 376.4L165.2 376.4L165.9 376.5L166.5 376.5L167.1 376.7L167.7 376.5L168.4 376.5L169.0 376.6L169.6 376.8L170.2 376.3L170.9 375.8L171.5 376.5L172.1 376.9L172.8 376.9L173.4 376.7L174.0 376.8L174.6 376.7L175.3 376.3L175.9 376.0L176.5 375.7L177.1 375.9L177.8 375.7L178.4 376.5L179.0 376.4L179.7 376.6L180.3 375.9L180.9 375.9L181.5 376.1L182.2 376.1L182.8 376.0L183.4 376.3L184.0 376.6L184.7 376.7L185.3 376.2L185.9 375.8L186.5 376.0L187.2 376.2L187.8 376.1L188.4 375.4L189.1 374.9L189.7 375.4L190.3 375.3L190.9 375.2L191.6 374.7L192.2 375.2L192.8 375.5L193.4 376.1L194.1 376.6L194.7 377.0L195.3 377.0L196.0 376.8L196.6 376.2L197.2 375.8L197.8 375.6L198.5 375.8L199.1 375.5L199.7 376.1L200.3 376.3L201.0 376.4L201.6 376.3L202.2 376.2L202.8 376.6L203.5 376.8L204.1 377.1L204.7 377.1L205.4 377.2L206.0 376.8L206.6 376.8L207.2 376.7L207.9 376.7L208.5 377.0L209.1 376.6L209.7 376.9L210.4 376.8L211.0 377.2L211 377.5Z" fill="#d7232e"/>
<line x1="53" y1="382.7" x2="211" y2="382.7" stroke="#1f6fb2" stroke-width="0.5"/>
<path d="M53 382.7L53.0 381.4L53.6 381.5L54.3 381.4L54.9 381.4L55.5 381.4L56.1 381.8L56.8 381.8L57.4 382.0L58.0 381.6L58.6 381.4L59.3 381.0L59.9 381.1L60.5 380.9L61.2 380.8L61.8 380.5L62.4 380.0L63.0 379.3L63.7 378.4L64.3 378.5L64.9 378.1L65.5 378.3L66.2 377.3L66.8 377.4L67.4 377.4L68.0 378.2L68.7 378.0L69.3 377.3L69.9 376.6L70.6 377.6L71.2 377.7L71.8 377.3L72.4 376.2L73.1 375.9L73.7 375.6L74.3 376.0L74.9 377.1L75.6 378.0L76.2 378.7L76.8 378.6L77.5 379.0L78.1 379.0L78.7 379.7L79.3 380.1L80.0 380.2L80.6 380.1L81.2 379.8L81.8 380.2L82.5 380.8L83.1 381.2L83.7 381.4L84.3 381.1L85.0 381.2L85.6 381.2L86.2 380.9L86.9 380.2L87.5 379.3L88.1 378.6L88.7 378.8L89.4 379.7L90.0 380.4L90.6 380.8L91.2 380.2L91.9 380.1L92.5 379.6L93.1 380.1L93.8 380.0L94.4 380.1L95.0 380.0L95.6 380.7L96.3 381.0L96.9 381.3L97.5 380.7L98.1 381.0L98.8 381.1L99.4 381.2L100.0 381.0L100.7 381.0L101.3 380.9L101.9 380.3L102.5 379.6L103.2 380.0L103.8 379.7L104.4 379.6L105.0 379.2L105.7 379.8L106.3 379.0L106.9 378.9L107.5 378.7L108.2 379.2L108.8 378.8L109.4 377.9L110.1 378.3L110.7 378.6L111.3 379.6L111.9 379.2L112.6 379.6L113.2 379.3L113.8 379.5L114.4 379.6L115.1 379.9L115.7 380.6L116.3 380.8L117.0 380.5L117.6 379.7L118.2 379.0L118.8 379.5L119.5 379.3L120.1 378.8L120.7 377.7L121.3 377.6L122.0 377.8L122.6 378.4L123.2 379.0L123.8 379.6L124.5 379.5L125.1 379.8L125.7 379.4L126.4 380.1L127.0 380.4L127.6 381.2L128.2 381.3L128.9 381.1L129.5 380.5L130.1 379.9L130.7 380.6L131.4 380.7L132.0 380.9L132.6 380.4L133.3 380.0L133.9 379.7L134.5 379.6L135.1 379.6L135.8 379.8L136.4 379.7L137.0 380.1L137.6 380.2L138.3 380.7L138.9 380.6L139.5 381.0L140.2 380.9L140.8 381.5L141.4 381.5L142.0 381.9L142.7 382.1L143.3 382.3L143.9 381.9L144.5 381.4L145.2 380.8L145.8 381.3L146.4 381.2L147.0 380.9L147.7 379.9L148.3 379.4L148.9 379.7L149.6 379.7L150.2 379.0L150.8 377.8L151.4 377.5L152.1 378.5L152.7 379.1L153.3 379.4L153.9 379.6L154.6 379.6L155.2 379.7L155.8 380.1L156.5 380.1L157.1 379.7L157.7 379.4L158.3 379.3L159.0 378.8L159.6 377.9L160.2 377.7L160.8 378.5L161.5 379.0L162.1 379.1L162.7 379.7L163.3 380.1L164.0 381.2L164.6 381.4L165.2 381.5L165.9 381.2L166.5 380.9L167.1 381.3L167.7 381.6L168.4 381.9L169.0 381.7L169.6 380.9L170.2 380.7L170.9 380.2L171.5 379.7L172.1 379.1L172.8 378.8L173.4 379.2L174.0 379.2L174.6 379.4L175.3 379.0L175.9 379.5L176.5 380.0L177.1 380.1L177.8 379.5L178.4 379.1L179.0 379.3L179.7 379.4L180.3 379.3L180.9 379.2L181.5 379.2L182.2 378.8L182.8 379.1L183.4 379.1L184.0 380.0L184.7 379.7L185.3 380.7L185.9 380.7L186.5 381.5L187.2 381.7L187.8 381.5L188.4 381.5L189.1 381.6L189.7 382.0L190.3 382.1L190.9 381.8L191.6 381.3L192.2 380.5L192.8 380.7L193.4 380.8L194.1 381.1L194.7 380.5L195.3 381.0L196.0 381.3L196.6 381.7L197.2 381.3L197.8 381.4L198.5 381.5L199.1 381.9L199.7 382.0L200.3 382.0L201.0 381.8L201.6 381.8L202.2 381.4L202.8 381.6L203.5 381.4L204.1 381.7L204.7 382.1L205.4 382.2L206.0 382.2L206.6 382.0L207.2 381.8L207.9 381.9L208.5 381.7L209.1 381.8L209.7 381.8L210.4 382.1L211.0 382.0L211 382.7Z" fill="#1f6fb2"/>
<line x1="53" y1="388.1" x2="211" y2="388.1" stroke="#d7232e" stroke-width="0.5"/>
<path d="M53 388.1L53.0 386.3L53.6 386.9L54.3 386.6L54.9 386.5L55.5 386.3L56.1 386.3L56.8 386.2L57.4 385.9L58.0 385.5L58.6 385.8L59.3 385.3L59.9 385.5L60.5 385.1L61.2 384.6L61.8 385.0L62.4 385.2L63.0 385.9L63.7 385.9L64.3 386.0L64.9 386.2L65.5 386.2L66.2 386.1L66.8 386.1L67.4 386.1L68.0 386.8L68.7 386.4L69.3 386.6L69.9 386.4L70.6 386.3L71.2 385.9L71.8 385.3L72.4 385.3L73.1 385.0L73.7 385.0L74.3 385.3L74.9 385.6L75.6 385.7L76.2 385.6L76.8 385.5L77.5 384.9L78.1 385.1L78.7 385.5L79.3 386.2L80.0 386.4L80.6 386.1L81.2 385.6L81.8 385.1L82.5 385.1L83.1 385.7L83.7 386.1L84.3 386.6L85.0 386.5L85.6 386.6L86.2 386.4L86.9 386.5L87.5 386.0L88.1 385.5L88.7 385.0L89.4 385.4L90.0 385.6L90.6 385.4L91.2 384.9L91.9 385.4L92.5 386.0L93.1 386.0L93.8 385.6L94.4 385.3L95.0 385.2L95.6 385.6L96.3 385.4L96.9 386.1L97.5 385.9L98.1 386.1L98.8 386.3L99.4 386.9L100.0 387.2L100.7 386.7L101.3 386.2L101.9 386.3L102.5 386.3L103.2 386.4L103.8 385.5L104.4 385.7L105.0 385.8L105.7 386.1L106.3 385.8L106.9 385.4L107.5 385.1L108.2 385.5L108.8 385.7L109.4 386.1L110.1 385.5L110.7 385.4L111.3 385.3L111.9 386.3L112.6 386.4L113.2 386.7L113.8 386.9L114.4 386.9L115.1 386.6L115.7 386.2L116.3 386.0L117.0 386.2L117.6 386.0L118.2 386.0L118.8 385.3L119.5 385.4L120.1 385.3L120.7 385.9L121.3 386.1L122.0 386.1L122.6 385.5L123.2 385.0L123.8 385.2L124.5 385.7L125.1 386.0L125.7 386.2L126.4 385.8L127.0 386.1L127.6 385.7L128.2 386.0L128.9 386.0L129.5 386.3L130.1 386.2L130.7 386.4L131.4 387.0L132.0 387.1L132.6 387.2L133.3 386.6L133.9 387.0L134.5 386.9L135.1 387.0L135.8 387.3L136.4 386.9L137.0 387.3L137.6 386.8L138.3 386.7L138.9 386.1L139.5 386.5L140.2 386.5L140.8 386.7L141.4 386.7L142.0 387.1L142.7 387.4L143.3 387.1L143.9 387.0L144.5 386.5L145.2 386.2L145.8 386.1L146.4 386.5L147.0 386.7L147.7 386.9L148.3 386.5L148.9 386.5L149.6 386.2L150.2 386.1L150.8 386.5L151.4 386.6L152.1 387.0L152.7 386.9L153.3 387.1L153.9 387.2L154.6 386.8L155.2 386.1L155.8 385.7L156.5 385.9L157.1 386.9L157.7 387.1L158.3 387.2L159.0 386.6L159.6 386.9L160.2 386.7L160.8 386.6L161.5 386.6L162.1 387.2L162.7 387.2L163.3 387.1L164.0 387.3L164.6 387.5L165.2 387.3L165.9 386.8L166.5 387.1L167.1 387.2L167.7 387.6L168.4 387.1L169.0 386.8L169.6 386.0L170.2 386.8L170.9 387.4L171.5 387.5L172.1 387.2L172.8 386.6L173.4 386.7L174.0 387.1L174.6 387.6L175.3 387.5L175.9 387.3L176.5 387.0L177.1 387.0L177.8 387.1L178.4 387.3L179.0 387.3L179.7 387.3L180.3 387.0L180.9 387.1L181.5 386.9L182.2 387.1L182.8 386.8L183.4 386.3L184.0 385.8L184.7 386.1L185.3 385.9L185.9 385.9L186.5 386.2L187.2 386.6L187.8 386.6L188.4 386.4L189.1 386.6L189.7 386.6L190.3 387.1L190.9 386.9L191.6 386.7L192.2 386.1L192.8 386.0L193.4 385.9L194.1 386.2L194.7 386.7L195.3 386.9L196.0 387.2L196.6 387.3L197.2 387.4L197.8 387.6L198.5 387.1L199.1 386.8L199.7 386.4L200.3 386.7L201.0 387.2L201.6 387.3L202.2 387.7L202.8 387.7L203.5 387.8L204.1 387.6L204.7 387.4L205.4 386.9L206.0 387.2L206.6 387.6L207.2 387.7L207.9 387.1L208.5 386.7L209.1 386.8L209.7 386.9L210.4 387.2L211.0 387.4L211 388.1Z" fill="#d7232e"/>
<path d="M53 393.6L53.0 393.6L53.6 393.4L54.3 393.3L54.9 393.3L55.5 393.6L56.1 393.6L56.8 393.6L57.4 393.3L58.0 393.3L58.6 393.6L59.3 393.6L59.9 393.3L60.5 393.3L61.2 393.6L61.8 393.6L62.4 393.6L63.0 393.4L63.7 393.3L64.3 393.4L64.9 393.6L65.5 393.6L66.2 393.6L66.8 393.6L67.4 393.6L68.0 393.6L68.7 393.6L69.3 393.6L69.9 393.6L70.6 393.6L71.2 393.4L71.8 393.6L72.4 393.6L73.1 393.6L73.7 393.6L74.3 393.3L74.9 393.2L75.6 393.2L76.2 393.2L76.8 393.3L77.5 393.6L78.1 393.6L78.7 393.6L79.3 393.3L80.0 393.2L80.6 393.2L81.2 393.1L81.8 393.2L82.5 393.2L83.1 393.3L83.7 393.3L84.3 393.3L85.0 393.3L85.6 393.3L86.2 393.4L86.9 393.6L87.5 393.6L88.1 393.6L88.7 393.4L89.4 393.6L90.0 393.6L90.6 393.4L91.2 393.2L91.9 393.2L92.5 393.3L93.1 393.6L93.8 393.6L94.4 393.4L95.0 393.3L95.6 393.6L96.3 393.6L96.9 393.6L97.5 393.3L98.1 393.2L98.8 393.2L99.4 393.1L100.0 393.1L100.7 393.1L101.3 393.1L101.9 393.1L102.5 393.3L103.2 393.4L103.8 393.6L104.4 393.6L105.0 393.3L105.7 393.2L106.3 393.3L106.9 393.6L107.5 393.6L108.2 393.6L108.8 393.6L109.4 393.6L110.1 393.6L110.7 393.6L111.3 393.4L111.9 393.6L112.6 393.6L113.2 393.6L113.8 393.3L114.4 393.2L115.1 393.3L115.7 393.4L116.3 393.3L117.0 393.3L117.6 393.2L118.2 393.0L118.8 392.7L119.5 392.4L120.1 392.6L120.7 392.7L121.3 393.0L122.0 393.0L122.6 393.2L123.2 393.2L123.8 393.4L124.5 393.3L125.1 393.3L125.7 393.2L126.4 393.3L127.0 393.3L127.6 393.3L128.2 393.4L128.9 393.3L129.5 393.3L130.1 393.4L130.7 393.6L131.4 393.6L132.0 393.6L132.6 393.6L133.3 393.6L133.9 393.4L134.5 393.4L135.1 393.6L135.8 393.6L136.4 393.6L137.0 393.6L137.6 393.4L138.3 393.2L138.9 393.2L139.5 393.2L140.2 393.1L140.8 392.9L141.4 392.5L142.0 392.3L142.7 391.8L143.3 391.8L143.9 391.6L144.5 391.7L145.2 391.6L145.8 391.3L146.4 390.6L147.0 390.4L147.7 390.0L148.3 390.2L148.9 389.5L149.6 389.5L150.2 389.3L150.8 389.7L151.4 390.4L152.1 391.4L152.7 392.1L153.3 392.5L153.9 392.9L154.6 393.2L155.2 393.6L155.8 393.6L156.5 393.6L157.1 393.6L157.7 393.6L158.3 393.6L159.0 393.6L159.6 393.6L160.2 393.6L160.8 393.6L161.5 393.6L162.1 393.6L162.7 393.6L163.3 393.6L164.0 393.6L164.6 393.6L165.2 393.3L165.9 393.3L166.5 393.6L167.1 393.6L167.7 393.6L168.4 393.6L169.0 393.6L169.6 393.6L170.2 393.6L170.9 393.6L171.5 393.3L172.1 393.3L172.8 393.6L173.4 393.6L174.0 393.6L174.6 393.6L175.3 393.6L175.9 393.6L176.5 393.6L177.1 393.6L177.8 393.6L178.4 393.6L179.0 393.6L179.7 393.6L180.3 393.6L180.9 393.6L181.5 393.4L182.2 393.3L182.8 393.6L183.4 393.4L184.0 393.4L184.7 393.2L185.3 393.2L185.9 393.3L186.5 393.4L187.2 393.6L187.8 393.4L188.4 393.6L189.1 393.6L189.7 393.6L190.3 393.6L190.9 393.6L191.6 393.4L192.2 393.4L192.8 393.3L193.4 393.0L194.1 392.9L194.7 392.8L195.3 392.8L196.0 392.8L196.6 392.9L197.2 393.1L197.8 393.1L198.5 393.2L199.1 393.2L199.7 393.4L200.3 393.4L201.0 393.3L201.6 393.1L202.2 393.3L202.8 393.3L203.5 393.3L204.1 393.3L204.7 393.6L205.4 393.6L206.0 393.6L206.6 393.6L207.2 393.6L207.9 393.6L208.5 393.6L209.1 393.6L209.7 393.6L210.4 393.6L211.0 393.4L211 393.6Z" fill="#1f6fb2"/>
<line x1="53" y1="393.6" x2="211" y2="393.6" stroke="#9cc3e2" stroke-width="0.4" stroke-dasharray="3 4 6 5 2 6"/>
<rect x="55.0" y="398.4" width="4" height="0.8" fill="#e0464e" opacity="0.8"/>
<rect x="62.0" y="398.4" width="6" height="0.8" fill="#e0464e" opacity="0.8"/>
<rect x="70.0" y="398.4" width="1.5" height="0.8" fill="#e0464e" opacity="0.8"/>
<rect x="73.5" y="398.4" width="4" height="0.8" fill="#e0464e" opacity="0.8"/>
<rect x="79.5" y="398.4" width="2.5" height="0.8" fill="#e0464e" opacity="0.8"/>
<rect x="84.0" y="398.4" width="1.5" height="0.8" fill="#e0464e" opacity="0.8"/>
<rect x="93.5" y="398.4" width="6" height="0.8" fill="#e0464e" opacity="0.8"/>
<rect x="101.5" y="398.4" width="2.5" height="0.8" fill="#e0464e" opacity="0.8"/>
<rect x="106.0" y="398.4" width="6" height="0.8" fill="#e0464e" opacity="0.8"/>
<rect x="114.0" y="398.4" width="1.5" height="0.8" fill="#e0464e" opacity="0.8"/>
<rect x="118.5" y="398.4" width="1.5" height="0.8" fill="#e0464e" opacity="0.8"/>
<rect x="128.0" y="398.4" width="1.5" height="0.8" fill="#e0464e" opacity="0.8"/>
<rect x="132.5" y="398.4" width="1.5" height="0.8" fill="#e0464e" opacity="0.8"/>
<rect x="137.0" y="398.4" width="4" height="0.8" fill="#e0464e" opacity="0.8"/>
<rect x="149.0" y="398.4" width="2.5" height="0.8" fill="#e0464e" opacity="0.8"/>
<rect x="153.5" y="398.4" width="4" height="0.8" fill="#e0464e" opacity="0.8"/>
<rect x="160.5" y="398.4" width="1.5" height="0.8" fill="#e0464e" opacity="0.8"/>
<rect x="165.0" y="398.4" width="4" height="0.8" fill="#e0464e" opacity="0.8"/>
<rect x="171.0" y="398.4" width="1.5" height="0.8" fill="#e0464e" opacity="0.8"/>
<rect x="174.5" y="398.4" width="2.5" height="0.8" fill="#e0464e" opacity="0.8"/>
<rect x="185.0" y="398.4" width="6" height="0.8" fill="#e0464e" opacity="0.8"/>
<rect x="196.0" y="398.4" width="6" height="0.8" fill="#e0464e" opacity="0.8"/>
<path d="M53 399.2L53.0 399.2L53.6 399.2L54.3 399.2L54.9 399.2L55.5 399.2L56.1 399.2L56.8 399.2L57.4 399.2L58.0 399.2L58.6 399.2L59.3 399.2L59.9 399.2L60.5 399.2L61.2 399.2L61.8 399.2L62.4 399.2L63.0 399.2L63.7 399.2L64.3 399.2L64.9 399.2L65.5 399.2L66.2 399.2L66.8 399.2L67.4 399.2L68.0 399.2L68.7 399.2L69.3 399.2L69.9 399.2L70.6 399.2L71.2 399.2L71.8 399.2L72.4 399.2L73.1 399.2L73.7 399.2L74.3 399.2L74.9 399.2L75.6 399.2L76.2 399.2L76.8 399.2L77.5 399.2L78.1 399.2L78.7 399.2L79.3 399.2L80.0 399.2L80.6 399.2L81.2 399.2L81.8 399.2L82.5 399.2L83.1 399.2L83.7 399.2L84.3 399.2L85.0 399.2L85.6 399.2L86.2 399.2L86.9 399.2L87.5 399.2L88.1 399.2L88.7 399.2L89.4 399.2L90.0 399.2L90.6 399.2L91.2 399.2L91.9 399.2L92.5 399.2L93.1 399.2L93.8 399.2L94.4 399.2L95.0 399.2L95.6 399.2L96.3 399.2L96.9 399.2L97.5 399.2L98.1 399.2L98.8 399.2L99.4 399.2L100.0 399.2L100.7 399.2L101.3 399.2L101.9 399.2L102.5 399.2L103.2 399.2L103.8 399.2L104.4 399.2L105.0 399.2L105.7 399.2L106.3 399.2L106.9 399.2L107.5 399.2L108.2 399.2L108.8 399.2L109.4 399.2L110.1 399.2L110.7 399.2L111.3 399.2L111.9 399.2L112.6 399.2L113.2 399.2L113.8 399.2L114.4 399.2L115.1 399.2L115.7 399.2L116.3 399.2L117.0 399.2L117.6 399.2L118.2 399.2L118.8 399.2L119.5 399.2L120.1 399.2L120.7 399.2L121.3 399.2L122.0 399.2L122.6 399.2L123.2 399.2L123.8 399.2L124.5 399.2L125.1 399.2L125.7 399.2L126.4 399.2L127.0 399.2L127.6 399.2L128.2 399.2L128.9 399.2L129.5 399.2L130.1 399.2L130.7 399.2L131.4 399.2L132.0 399.2L132.6 399.2L133.3 399.2L133.9 399.2L134.5 399.2L135.1 399.2L135.8 399.2L136.4 399.2L137.0 399.2L137.6 399.2L138.3 399.2L138.9 399.2L139.5 399.2L140.2 399.2L140.8 399.2L141.4 399.1L142.0 399.0L142.7 398.9L143.3 398.5L143.9 398.2L144.5 397.5L145.2 396.7L145.8 395.9L146.4 395.5L147.0 396.0L147.7 396.3L148.3 396.8L148.9 397.0L149.6 397.5L150.2 397.8L150.8 398.0L151.4 398.3L152.1 398.6L152.7 398.9L153.3 399.1L153.9 399.2L154.6 399.2L155.2 399.2L155.8 399.2L156.5 399.2L157.1 399.2L157.7 399.2L158.3 399.2L159.0 399.2L159.6 399.2L160.2 399.2L160.8 399.2L161.5 399.2L162.1 399.2L162.7 399.2L163.3 399.2L164.0 399.2L164.6 399.2L165.2 399.2L165.9 399.2L166.5 399.2L167.1 399.2L167.7 399.2L168.4 399.2L169.0 399.2L169.6 399.2L170.2 399.2L170.9 399.2L171.5 399.2L172.1 399.2L172.8 399.2L173.4 399.2L174.0 399.2L174.6 399.2L175.3 399.2L175.9 399.2L176.5 399.2L177.1 399.2L177.8 399.2L178.4 399.2L179.0 399.2L179.7 399.2L180.3 399.2L180.9 399.2L181.5 399.2L182.2 399.2L182.8 399.2L183.4 399.2L184.0 399.2L184.7 399.2L185.3 399.2L185.9 399.2L186.5 399.2L187.2 399.2L187.8 399.2L188.4 399.2L189.1 399.2L189.7 399.2L190.3 399.2L190.9 399.2L191.6 399.2L192.2 399.2L192.8 399.2L193.4 399.2L194.1 399.2L194.7 399.2L195.3 399.2L196.0 399.2L196.6 399.2L197.2 399.2L197.8 399.2L198.5 399.2L199.1 399.2L199.7 399.2L200.3 399.2L201.0 399.2L201.6 399.2L202.2 399.2L202.8 399.2L203.5 399.2L204.1 399.2L204.7 399.2L205.4 399.2L206.0 399.2L206.6 399.2L207.2 399.2L207.9 399.2L208.5 399.2L209.1 399.2L209.7 399.2L210.4 399.2L211.0 399.2L211 399.2Z" fill="#d7232e"/>
<path d="M53 408L53.0 406.7L53.6 406.3L54.3 406.6L54.9 406.5L55.5 405.9L56.1 405.2L56.8 405.1L57.4 405.4L58.0 405.6L58.6 406.0L59.3 405.9L59.9 406.3L60.5 405.4L61.2 405.3L61.8 404.7L62.4 405.3L63.0 406.5L63.7 407.1L64.3 406.7L64.9 405.7L65.5 405.0L66.2 406.0L66.8 406.0L67.4 405.4L68.0 404.2L68.7 404.3L69.3 405.2L69.9 405.9L70.6 406.7L71.2 407.2L71.8 406.5L72.4 406.1L73.1 405.6L73.7 406.3L74.3 405.4L74.9 404.5L75.6 404.2L76.2 404.5L76.8 405.2L77.5 405.3L78.1 405.2L78.7 405.0L79.3 406.0L80.0 406.5L80.6 406.6L81.2 405.7L81.8 404.9L82.5 404.5L83.1 405.0L83.7 405.7L84.3 405.7L85.0 405.2L85.6 405.4L86.2 406.0L86.9 406.2L87.5 406.0L88.1 405.6L88.7 405.2L89.4 405.3L90.0 405.4L90.6 406.5L91.2 405.9L91.9 405.7L92.5 405.0L93.1 405.8L93.8 406.7L94.4 407.2L95.0 407.3L95.6 406.3L96.3 405.8L96.9 404.9L97.5 404.6L98.1 405.1L98.8 406.2L99.4 406.5L100.0 406.3L100.7 405.2L101.3 405.6L101.9 405.9L102.5 405.7L103.2 405.2L103.8 404.2L104.4 404.6L105.0 404.2L105.7 403.9L106.3 405.0L106.9 406.3L107.5 407.4L108.2 406.4L108.8 405.7L109.4 404.5L110.1 405.5L110.7 406.0L111.3 405.7L111.9 404.8L112.6 404.8L113.2 406.1L113.8 405.9L114.4 404.8L115.1 404.9L115.7 404.6L116.3 405.9L117.0 405.5L117.6 406.1L118.2 405.1L118.8 404.2L119.5 405.3L120.1 406.1L120.7 407.1L121.3 406.9L122.0 406.3L122.6 406.2L123.2 405.5L123.8 405.4L124.5 404.2L125.1 404.0L125.7 403.9L126.4 404.1L127.0 404.7L127.6 405.5L128.2 405.0L128.9 405.1L129.5 403.9L130.1 405.5L130.7 405.4L131.4 405.8L132.0 405.5L132.6 404.3L133.3 404.4L133.9 403.2L134.5 403.9L135.1 403.5L135.8 404.9L136.4 405.4L137.0 406.4L137.6 405.9L138.3 406.0L138.9 405.9L139.5 405.3L140.2 403.4L140.8 402.1L141.4 401.7L142.0 401.9L142.7 402.3L143.3 403.0L143.9 404.1L144.5 404.7L145.2 405.7L145.8 406.7L146.4 406.4L147.0 406.0L147.7 405.0L148.3 406.3L148.9 406.2L149.6 406.0L150.2 406.1L150.8 405.4L151.4 406.3L152.1 405.5L152.7 406.0L153.3 405.6L153.9 405.9L154.6 405.5L155.2 405.9L155.8 406.4L156.5 407.6L157.1 406.7L157.7 406.4L158.3 405.9L159.0 406.5L159.6 406.1L160.2 406.1L160.8 405.9L161.5 405.8L162.1 406.1L162.7 406.2L163.3 406.0L164.0 405.0L164.6 405.0L165.2 406.0L165.9 407.0L166.5 406.8L167.1 406.5L167.7 405.0L168.4 404.8L169.0 403.7L169.6 404.2L170.2 405.8L170.9 405.9L171.5 406.3L172.1 405.0L172.8 404.9L173.4 405.5L174.0 406.2L174.6 407.1L175.3 407.0L175.9 406.2L176.5 405.5L177.1 404.9L177.8 405.2L178.4 405.4L179.0 406.2L179.7 406.5L180.3 406.4L180.9 405.3L181.5 404.9L182.2 405.5L182.8 405.7L183.4 405.8L184.0 405.6L184.7 405.0L185.3 405.7L185.9 405.5L186.5 406.4L187.2 405.5L187.8 404.9L188.4 404.3L189.1 404.7L189.7 405.2L190.3 405.2L190.9 405.8L191.6 406.6L192.2 407.0L192.8 406.0L193.4 406.0L194.1 405.8L194.7 407.0L195.3 407.1L196.0 406.9L196.6 406.1L197.2 405.8L197.8 406.0L198.5 406.1L199.1 405.8L199.7 405.6L200.3 405.2L201.0 404.7L201.6 404.9L202.2 404.7L202.8 404.3L203.5 404.1L204.1 405.2L204.7 406.4L205.4 406.5L206.0 405.8L206.6 404.4L207.2 403.9L207.9 404.7L208.5 406.1L209.1 406.6L209.7 406.4L210.4 405.5L211.0 405.4L211 408Z" fill="#2b62a4"/>
<path d="M53 408L53.0 406.1L53.6 406.2L54.3 406.8L54.9 406.7L55.5 407.2L56.1 407.0L56.8 407.3L57.4 407.2L58.0 407.4L58.6 407.4L59.3 407.1L59.9 406.5L60.5 406.4L61.2 406.6L61.8 406.9L62.4 406.7L63.0 406.7L63.7 406.6L64.3 406.7L64.9 407.0L65.5 407.1L66.2 406.4L66.8 405.9L67.4 405.6L68.0 406.2L68.7 406.2L69.3 406.0L69.9 405.5L70.6 406.3L71.2 406.8L71.8 407.4L72.4 407.1L73.1 406.7L73.7 406.5L74.3 406.6L74.9 407.2L75.6 407.5L76.2 407.1L76.8 406.4L77.5 405.7L78.1 406.5L78.7 407.1L79.3 407.7L80.0 407.3L80.6 407.4L81.2 407.1L81.8 407.1L82.5 406.7L83.1 406.7L83.7 406.6L84.3 407.2L85.0 406.8L85.6 406.9L86.2 406.1L86.9 406.7L87.5 407.0L88.1 406.9L88.7 406.7L89.4 406.6L90.0 406.7L90.6 406.3L91.2 406.3L91.9 406.3L92.5 407.0L93.1 407.0L93.8 407.7L94.4 407.1L95.0 406.7L95.6 406.3L96.3 406.4L96.9 406.7L97.5 407.2L98.1 407.7L98.8 407.7L99.4 407.3L100.0 407.3L100.7 407.5L101.3 407.8L101.9 407.8L102.5 407.8L103.2 407.8L103.8 407.8L104.4 407.5L105.0 406.9L105.7 406.5L106.3 406.8L106.9 407.4L107.5 407.7L108.2 407.3L108.8 407.0L109.4 406.8L110.1 406.6L110.7 406.4L111.3 406.7L111.9 407.1L112.6 406.8L113.2 406.5L113.8 405.9L114.4 406.0L115.1 405.7L115.7 406.0L116.3 406.1L117.0 406.6L117.6 407.0L118.2 407.3L118.8 407.4L119.5 407.4L120.1 407.6L120.7 407.6L121.3 407.8L122.0 407.8L122.6 407.3L123.2 407.3L123.8 406.8L124.5 406.8L125.1 406.7L125.7 406.9L126.4 407.0L127.0 406.3L127.6 406.2L128.2 406.6L128.9 407.4L129.5 407.7L130.1 407.7L130.7 407.1L131.4 406.5L132.0 406.5L132.6 406.6L133.3 406.5L133.9 406.4L134.5 406.7L135.1 407.2L135.8 407.1L136.4 406.8L137.0 406.9L137.6 406.8L138.3 406.9L138.9 406.1L139.5 405.4L140.2 404.8L140.8 405.1L141.4 405.6L142.0 405.7L142.7 405.4L143.3 405.2L143.9 405.8L144.5 405.8L145.2 406.6L145.8 407.0L146.4 407.1L147.0 407.0L147.7 406.6L148.3 406.8L148.9 406.5L149.6 406.8L150.2 406.5L150.8 406.5L151.4 406.7L152.1 407.3L152.7 407.3L153.3 406.6L153.9 406.3L154.6 405.9L155.2 406.4L155.8 406.9L156.5 407.4L157.1 406.8L157.7 406.4L158.3 406.0L159.0 406.1L159.6 405.7L160.2 406.1L160.8 406.8L161.5 407.1L162.1 407.5L162.7 407.2L163.3 407.5L164.0 407.2L164.6 407.2L165.2 406.8L165.9 406.2L166.5 405.8L167.1 405.7L167.7 406.5L168.4 406.7L169.0 407.1L169.6 406.9L170.2 407.3L170.9 407.2L171.5 406.8L172.1 406.0L172.8 405.7L173.4 406.5L174.0 406.5L174.6 406.9L175.3 406.7L175.9 407.0L176.5 407.1L177.1 407.1L177.8 406.8L178.4 406.6L179.0 406.4L179.7 406.7L180.3 407.2L180.9 407.5L181.5 407.9L182.2 407.6L182.8 407.0L183.4 407.0L184.0 407.0L184.7 407.0L185.3 406.9L185.9 406.7L186.5 406.7L187.2 406.1L187.8 406.3L188.4 406.8L189.1 407.2L189.7 407.3L190.3 406.7L190.9 406.4L191.6 406.3L192.2 406.4L192.8 406.5L193.4 406.7L194.1 407.1L194.7 407.3L195.3 406.7L196.0 407.2L196.6 406.9L197.2 407.7L197.8 407.5L198.5 407.1L199.1 407.0L199.7 406.5L200.3 406.7L201.0 406.8L201.6 406.6L202.2 407.2L202.8 406.5L203.5 406.5L204.1 406.1L204.7 406.6L205.4 407.1L206.0 406.8L206.6 406.6L207.2 406.8L207.9 407.3L208.5 407.7L209.1 407.7L209.7 407.8L210.4 407.5L211.0 407.1L211 408Z" fill="#6f97c6"/>
<rect x="210.8" y="356.0" width="11.2" height="5.3" fill="#fff" stroke="#bcd" stroke-width="0.4"/>
<text x="216.4" y="360.0" font-size="3" font-weight="normal" fill="#aaa" text-anchor="middle" stroke="#aaa" stroke-width="0.04">[0 - 9]</text>
<rect x="210.8" y="361.40000000000003" width="11.2" height="5.3" fill="#fff" stroke="#ecc" stroke-width="0.4"/>
<text x="216.4" y="365.40000000000003" font-size="3" font-weight="normal" fill="#aaa" text-anchor="middle" stroke="#aaa" stroke-width="0.04">[0 - 9]</text>
<rect x="210.8" y="366.90000000000003" width="11.2" height="5.3" fill="#fff" stroke="#bcd" stroke-width="0.4"/>
<text x="216.4" y="370.90000000000003" font-size="3" font-weight="normal" fill="#aaa" text-anchor="middle" stroke="#aaa" stroke-width="0.04">[0 - 41]</text>
<rect x="210.8" y="372.3" width="11.2" height="5.3" fill="#fff" stroke="#ecc" stroke-width="0.4"/>
<text x="216.4" y="376.3" font-size="3" font-weight="normal" fill="#aaa" text-anchor="middle" stroke="#aaa" stroke-width="0.04">[0 - 41]</text>
<rect x="210.8" y="377.5" width="11.2" height="5.3" fill="#fff" stroke="#bcd" stroke-width="0.4"/>
<text x="216.4" y="381.5" font-size="3" font-weight="normal" fill="#aaa" text-anchor="middle" stroke="#aaa" stroke-width="0.04">[0 - 15]</text>
<rect x="210.8" y="382.90000000000003" width="11.2" height="5.3" fill="#fff" stroke="#ecc" stroke-width="0.4"/>
<text x="216.4" y="386.90000000000003" font-size="3" font-weight="normal" fill="#aaa" text-anchor="middle" stroke="#aaa" stroke-width="0.04">[0 - 15]</text>
<rect x="210.8" y="388.40000000000003" width="11.2" height="5.3" fill="#fff" stroke="#bcd" stroke-width="0.4"/>
<text x="216.4" y="392.40000000000003" font-size="3" font-weight="normal" fill="#aaa" text-anchor="middle" stroke="#aaa" stroke-width="0.04">[0 - 72]</text>
<rect x="210.8" y="393.7" width="11.2" height="5.3" fill="#fff" stroke="#ecc" stroke-width="0.4"/>
<text x="216.4" y="397.7" font-size="3" font-weight="normal" fill="#aaa" text-anchor="middle" stroke="#aaa" stroke-width="0.04">[0 - 72]</text>
<text x="374.2" y="343.2" font-size="8.6" font-weight="bold" fill="#111" text-anchor="middle" font-style="italic" stroke="#111" stroke-width="0.19">CENPM</text>
<text x="309.4" y="348.1" font-size="3.4" font-weight="normal" fill="#333" text-anchor="start" stroke="#333" stroke-width="0.04" textLength="53" lengthAdjust="spacingAndGlyphs">Human Dec. 2013 (GRCh38/hg38)</text>
<text x="443.6" y="348.1" font-size="3.4" font-weight="normal" fill="#333" text-anchor="end" stroke="#333" stroke-width="0.04" textLength="72" lengthAdjust="spacingAndGlyphs">chr22:41,938,550-41,944,846 (6,297 bp)</text>
<path d="M347 351 H405 M347 350.1 v1.8 M405 350.1 v1.8" stroke="#333" stroke-width="0.45" fill="none"/>
<text x="346" y="352.2" font-size="3.4" font-weight="normal" fill="#333" text-anchor="end" stroke="#333" stroke-width="0.04">3 kb</text>
<text x="410" y="352.2" font-size="3.4" font-weight="normal" fill="#333" text-anchor="start" stroke="#333" stroke-width="0.04" textLength="7.5" lengthAdjust="spacingAndGlyphs">hg38</text>
<line x1="298.5" y1="354" x2="298.5" y2="357" stroke="#333" stroke-width="0.45"/>
<text x="325.9" y="356.8" font-size="3.5" font-weight="normal" fill="#333" text-anchor="end" stroke="#333" stroke-width="0.04" textLength="19.5" lengthAdjust="spacingAndGlyphs">41,940,000</text>
<line x1="327.5" y1="354" x2="327.5" y2="357" stroke="#333" stroke-width="0.45"/>
<text x="354.9" y="356.8" font-size="3.5" font-weight="normal" fill="#333" text-anchor="end" stroke="#333" stroke-width="0.04" textLength="19.5" lengthAdjust="spacingAndGlyphs">41,941,000</text>
<line x1="356.5" y1="354" x2="356.5" y2="357" stroke="#333" stroke-width="0.45"/>
<text x="384.09999999999997" y="356.8" font-size="3.5" font-weight="normal" fill="#333" text-anchor="end" stroke="#333" stroke-width="0.04" textLength="19.5" lengthAdjust="spacingAndGlyphs">41,942,000</text>
<line x1="385.7" y1="354" x2="385.7" y2="357" stroke="#333" stroke-width="0.45"/>
<text x="413.2" y="356.8" font-size="3.5" font-weight="normal" fill="#333" text-anchor="end" stroke="#333" stroke-width="0.04" textLength="19.5" lengthAdjust="spacingAndGlyphs">41,943,000</text>
<line x1="414.8" y1="354" x2="414.8" y2="357" stroke="#333" stroke-width="0.45"/>
<text x="441.4" y="356.8" font-size="3.5" font-weight="normal" fill="#333" text-anchor="end" stroke="#333" stroke-width="0.04" textLength="19.5" lengthAdjust="spacingAndGlyphs">41,944,000</text>
<line x1="443" y1="354" x2="443" y2="357" stroke="#333" stroke-width="0.45"/>
<text x="274.5" y="365" font-size="7" font-weight="normal" fill="#222" text-anchor="end" stroke="#222" stroke-width="0.08">ATAC</text>
<text x="274.5" y="377.2" font-size="7" font-weight="normal" fill="#222" text-anchor="end" stroke="#222" stroke-width="0.08">H3K27ac</text>
<text x="274.5" y="388.5" font-size="7" font-weight="normal" fill="#222" text-anchor="end" stroke="#222" stroke-width="0.08">H3K4me1</text>
<text x="274.5" y="400" font-size="7" font-weight="normal" fill="#222" text-anchor="end" stroke="#222" stroke-width="0.08">FOXA1</text>
<text x="289.5" y="361.4" font-size="6" font-weight="bold" fill="#1d6cb8" text-anchor="end" stroke="#1d6cb8" stroke-width="0.13">RT4</text>
<text x="289.5" y="367.65" font-size="6" font-weight="bold" fill="#e21f3a" text-anchor="end" stroke="#e21f3a" stroke-width="0.13">K2</text>
<text x="289.5" y="373.55" font-size="6" font-weight="bold" fill="#1d6cb8" text-anchor="end" stroke="#1d6cb8" stroke-width="0.13">RT4</text>
<text x="289.5" y="379.45" font-size="6" font-weight="bold" fill="#e21f3a" text-anchor="end" stroke="#e21f3a" stroke-width="0.13">K2</text>
<text x="289.5" y="385.15" font-size="6" font-weight="bold" fill="#1d6cb8" text-anchor="end" stroke="#1d6cb8" stroke-width="0.13">RT4</text>
<text x="289.5" y="391.15" font-size="6" font-weight="bold" fill="#e21f3a" text-anchor="end" stroke="#e21f3a" stroke-width="0.13">K2</text>
<text x="289.5" y="397.15" font-size="6" font-weight="bold" fill="#1d6cb8" text-anchor="end" stroke="#1d6cb8" stroke-width="0.13">RT4</text>
<text x="289.5" y="402.95" font-size="6" font-weight="bold" fill="#e21f3a" text-anchor="end" stroke="#e21f3a" stroke-width="0.13">K2</text>
<line x1="290.3" y1="362.4" x2="446" y2="362.4" stroke="#1f6fb2" stroke-width="0.55"/>
<path d="M290.3 362.4L290.3 362.4L290.9 362.4L291.6 362.4L292.2 362.4L292.8 362.4L293.4 362.4L294.1 362.4L294.7 362.4L295.3 362.4L295.9 362.4L296.6 362.4L297.2 362.4L297.8 362.4L298.4 362.4L299.1 362.4L299.7 362.4L300.3 362.4L300.9 362.4L301.6 362.4L302.2 362.4L302.8 362.4L303.4 362.4L304.1 362.4L304.7 362.4L305.3 362.4L305.9 362.4L306.6 362.4L307.2 362.4L307.8 362.4L308.4 362.4L309.1 362.4L309.7 362.4L310.3 362.4L310.9 362.4L311.6 362.4L312.2 362.4L312.8 362.4L313.4 362.4L314.1 362.4L314.7 362.4L315.3 362.4L315.9 362.4L316.6 362.4L317.2 362.4L317.8 362.4L318.4 362.4L319.1 362.4L319.7 362.4L320.3 362.4L320.9 362.4L321.6 362.4L322.2 362.4L322.8 362.4L323.4 362.4L324.1 362.4L324.7 362.4L325.3 362.4L325.9 362.4L326.6 362.4L327.2 362.4L327.8 362.4L328.4 362.4L329.1 362.4L329.7 362.4L330.3 362.3L330.9 362.2L331.6 362.1L332.2 361.9L332.8 361.8L333.4 361.7L334.1 361.8L334.7 361.9L335.3 362.1L335.9 362.2L336.6 362.3L337.2 362.3L337.8 362.4L338.4 362.4L339.1 362.4L339.7 362.4L340.3 362.4L340.9 362.4L341.6 362.4L342.2 362.4L342.8 362.4L343.5 362.4L344.1 362.4L344.7 362.4L345.3 362.4L346.0 362.4L346.6 362.4L347.2 362.4L347.8 362.4L348.5 362.4L349.1 362.4L349.7 362.4L350.3 362.4L351.0 362.4L351.6 362.4L352.2 362.3L352.8 362.3L353.5 362.3L354.1 362.3L354.7 362.2L355.3 362.2L356.0 362.1L356.6 362.0L357.2 361.9L357.8 361.7L358.5 361.7L359.1 361.6L359.7 361.6L360.3 361.7L361.0 361.7L361.6 361.7L362.2 361.7L362.8 361.8L363.5 361.9L364.1 361.9L364.7 361.8L365.3 361.7L366.0 361.5L366.6 361.3L367.2 361.2L367.8 361.0L368.5 361.1L369.1 361.1L369.7 361.4L370.3 361.6L371.0 361.9L371.6 362.0L372.2 362.2L372.8 362.3L373.5 362.3L374.1 362.4L374.7 362.4L375.3 362.4L376.0 362.4L376.6 362.4L377.2 362.4L377.8 362.4L378.5 362.4L379.1 362.4L379.7 362.4L380.3 362.4L381.0 362.4L381.6 362.4L382.2 362.4L382.8 362.4L383.5 362.4L384.1 362.4L384.7 362.4L385.3 362.4L386.0 362.4L386.6 362.4L387.2 362.4L387.8 362.4L388.5 362.4L389.1 362.4L389.7 362.4L390.3 362.4L391.0 362.4L391.6 362.4L392.2 362.4L392.8 362.4L393.5 362.4L394.1 362.4L394.7 362.4L395.4 362.4L396.0 362.4L396.6 362.4L397.2 362.4L397.9 362.4L398.5 362.4L399.1 362.4L399.7 362.4L400.4 362.4L401.0 362.4L401.6 362.4L402.2 362.4L402.9 362.4L403.5 362.4L404.1 362.4L404.7 362.4L405.4 362.4L406.0 362.4L406.6 362.4L407.2 362.4L407.9 362.4L408.5 362.4L409.1 362.4L409.7 362.4L410.4 362.4L411.0 362.4L411.6 362.4L412.2 362.4L412.9 362.4L413.5 362.4L414.1 362.4L414.7 362.4L415.4 362.4L416.0 362.4L416.6 362.4L417.2 362.4L417.9 362.4L418.5 362.4L419.1 362.4L419.7 362.4L420.4 362.4L421.0 362.4L421.6 362.4L422.2 362.4L422.9 362.4L423.5 362.4L424.1 362.4L424.7 362.4L425.4 362.4L426.0 362.4L426.6 362.4L427.2 362.4L427.9 362.4L428.5 362.4L429.1 362.4L429.7 362.4L430.4 362.4L431.0 362.4L431.6 362.4L432.2 362.4L432.9 362.4L433.5 362.4L434.1 362.4L434.7 362.4L435.4 362.4L436.0 362.4L436.6 362.4L437.2 362.4L437.9 362.4L438.5 362.4L439.1 362.4L439.7 362.4L440.4 362.4L441.0 362.4L441.6 362.4L442.2 362.4L442.9 362.4L443.5 362.4L444.1 362.4L444.7 362.4L445.4 362.4L446.0 362.4L446 362.4Z" fill="#1f6fb2"/>
<line x1="290.3" y1="368" x2="446" y2="368" stroke="#e9a0a0" stroke-width="0.5"/>
<path d="M290.3 368L290.3 367.9L290.9 367.9L291.6 367.9L292.2 367.9L292.8 367.9L293.4 367.9L294.1 367.9L294.7 367.9L295.3 367.9L295.9 367.9L296.6 367.9L297.2 367.9L297.8 367.7L298.4 367.6L299.1 367.5L299.7 367.4L300.3 367.5L300.9 367.5L301.6 367.6L302.2 367.5L302.8 367.6L303.4 367.6L304.1 367.6L304.7 367.5L305.3 367.4L305.9 367.4L306.6 367.5L307.2 367.5L307.8 367.5L308.4 367.4L309.1 367.6L309.7 367.7L310.3 367.8L310.9 367.8L311.6 367.8L312.2 367.9L312.8 367.9L313.4 367.9L314.1 367.9L314.7 367.9L315.3 367.9L315.9 367.9L316.6 367.9L317.2 367.9L317.8 367.9L318.4 367.9L319.1 367.9L319.7 367.9L320.3 368.0L320.9 368.0L321.6 367.9L322.2 367.9L322.8 367.9L323.4 367.9L324.1 367.8L324.7 367.8L325.3 367.7L325.9 367.6L326.6 367.4L327.2 367.2L327.8 367.1L328.4 366.8L329.1 366.4L329.7 366.0L330.3 365.6L330.9 365.6L331.6 365.1L332.2 365.2L332.8 364.7L333.4 364.8L334.1 364.5L334.7 364.8L335.3 365.0L335.9 365.2L336.6 365.4L337.2 365.8L337.8 366.0L338.4 366.1L339.1 366.2L339.7 366.5L340.3 366.6L340.9 366.6L341.6 366.8L342.2 367.0L342.8 367.4L343.5 367.6L344.1 367.8L344.7 367.8L345.3 367.9L346.0 368.0L346.6 367.9L347.2 367.9L347.8 367.8L348.5 367.9L349.1 367.9L349.7 367.9L350.3 367.7L351.0 367.6L351.6 367.5L352.2 367.4L352.8 367.1L353.5 366.6L354.1 366.1L354.7 365.5L355.3 365.2L356.0 364.6L356.6 364.4L357.2 364.0L357.8 364.2L358.5 364.2L359.1 364.3L359.7 364.3L360.3 364.3L361.0 364.7L361.6 364.6L362.2 364.2L362.8 363.7L363.5 363.4L364.1 363.3L364.7 363.2L365.3 363.3L366.0 363.8L366.6 364.0L367.2 364.4L367.8 364.9L368.5 365.6L369.1 366.2L369.7 366.7L370.3 367.0L371.0 367.2L371.6 367.4L372.2 367.6L372.8 367.7L373.5 367.8L374.1 367.9L374.7 367.8L375.3 367.9L376.0 367.9L376.6 367.9L377.2 367.9L377.8 367.8L378.5 367.8L379.1 367.8L379.7 367.8L380.3 367.9L381.0 367.9L381.6 367.9L382.2 367.9L382.8 367.9L383.5 367.9L384.1 367.9L384.7 367.9L385.3 367.9L386.0 367.9L386.6 367.8L387.2 367.9L387.8 367.9L388.5 367.9L389.1 367.8L389.7 367.9L390.3 367.9L391.0 368.0L391.6 367.9L392.2 367.9L392.8 367.9L393.5 367.9L394.1 367.9L394.7 367.9L395.4 367.9L396.0 367.9L396.6 367.9L397.2 367.9L397.9 367.9L398.5 367.9L399.1 368.0L399.7 367.9L400.4 367.9L401.0 367.9L401.6 368.0L402.2 368.0L402.9 368.0L403.5 367.9L404.1 367.9L404.7 367.9L405.4 367.9L406.0 367.9L406.6 367.9L407.2 367.9L407.9 367.9L408.5 367.9L409.1 367.9L409.7 367.9L410.4 367.9L411.0 367.9L411.6 367.9L412.2 367.9L412.9 367.9L413.5 367.9L414.1 367.9L414.7 367.8L415.4 367.9L416.0 367.8L416.6 367.9L417.2 367.9L417.9 367.9L418.5 367.9L419.1 367.9L419.7 367.9L420.4 367.9L421.0 367.9L421.6 367.9L422.2 367.9L422.9 367.9L423.5 367.9L424.1 367.9L424.7 367.9L425.4 367.9L426.0 367.9L426.6 367.9L427.2 367.9L427.9 367.9L428.5 367.9L429.1 367.9L429.7 367.9L430.4 367.9L431.0 367.8L431.6 367.9L432.2 367.9L432.9 367.9L433.5 367.9L434.1 367.9L434.7 368.0L435.4 367.9L436.0 367.9L436.6 367.9L437.2 367.9L437.9 367.9L438.5 367.9L439.1 367.9L439.7 367.9L440.4 367.9L441.0 367.8L441.6 367.9L442.2 367.9L442.9 367.9L443.5 367.9L444.1 368.0L444.7 368.0L445.4 367.9L446.0 367.9L446 368Z" fill="#d7232e"/>
<line x1="290.3" y1="374" x2="446" y2="374" stroke="#9cc3e2" stroke-width="0.5"/>
<path d="M290.3 374L290.3 373.9L290.9 373.8L291.6 373.7L292.2 373.8L292.8 373.8L293.4 373.6L294.1 373.6L294.7 373.6L295.3 373.6L295.9 373.7L296.6 373.8L297.2 373.7L297.8 373.8L298.4 373.6L299.1 373.6L299.7 373.5L300.3 373.5L300.9 373.6L301.6 373.6L302.2 373.5L302.8 373.5L303.4 373.5L304.1 373.5L304.7 373.5L305.3 373.5L305.9 373.6L306.6 373.5L307.2 373.5L307.8 373.4L308.4 373.5L309.1 373.4L309.7 373.6L310.3 373.6L310.9 373.6L311.6 373.6L312.2 373.7L312.8 373.8L313.4 373.8L314.1 373.7L314.7 373.7L315.3 373.7L315.9 373.8L316.6 373.7L317.2 373.8L317.8 373.7L318.4 373.8L319.1 373.8L319.7 373.9L320.3 373.8L320.9 373.7L321.6 373.6L322.2 373.6L322.8 373.7L323.4 373.7L324.1 373.5L324.7 373.3L325.3 373.2L325.9 373.1L326.6 373.0L327.2 372.8L327.8 372.6L328.4 372.6L329.1 372.5L329.7 372.5L330.3 372.6L330.9 372.7L331.6 372.8L332.2 372.7L332.8 372.8L333.4 372.6L334.1 372.8L334.7 372.9L335.3 372.9L335.9 372.9L336.6 373.0L337.2 373.0L337.8 372.9L338.4 372.6L339.1 372.7L339.7 372.9L340.3 373.0L340.9 373.0L341.6 372.7L342.2 372.6L342.8 372.6L343.5 372.7L344.1 372.5L344.7 372.1L345.3 371.6L346.0 371.8L346.6 372.1L347.2 372.4L347.8 372.4L348.5 372.0L349.1 371.8L349.7 372.1L350.3 372.1L351.0 372.1L351.6 372.0L352.2 372.2L352.8 372.3L353.5 372.3L354.1 372.6L354.7 372.8L355.3 372.7L356.0 372.5L356.6 372.3L357.2 372.5L357.8 372.5L358.5 372.7L359.1 372.5L359.7 372.6L360.3 372.3L361.0 372.6L361.6 372.6L362.2 372.8L362.8 372.7L363.5 372.5L364.1 372.3L364.7 372.4L365.3 372.7L366.0 372.7L366.6 373.0L367.2 373.0L367.8 373.2L368.5 373.2L369.1 373.2L369.7 373.3L370.3 373.5L371.0 373.6L371.6 373.7L372.2 373.6L372.8 373.5L373.5 373.5L374.1 373.5L374.7 373.5L375.3 373.4L376.0 373.5L376.6 373.6L377.2 373.7L377.8 373.7L378.5 373.7L379.1 373.8L379.7 373.9L380.3 373.9L381.0 373.9L381.6 373.9L382.2 373.9L382.8 373.8L383.5 373.8L384.1 373.7L384.7 373.8L385.3 373.8L386.0 373.8L386.6 373.6L387.2 373.5L387.8 373.7L388.5 373.7L389.1 373.7L389.7 373.7L390.3 373.8L391.0 373.7L391.6 373.8L392.2 373.8L392.8 373.8L393.5 373.8L394.1 373.8L394.7 373.8L395.4 373.8L396.0 373.7L396.6 373.7L397.2 373.6L397.9 373.7L398.5 373.8L399.1 373.9L399.7 373.9L400.4 373.9L401.0 373.9L401.6 373.8L402.2 373.8L402.9 373.8L403.5 373.8L404.1 373.8L404.7 373.8L405.4 373.8L406.0 373.8L406.6 373.8L407.2 373.7L407.9 373.9L408.5 373.8L409.1 373.9L409.7 373.8L410.4 373.7L411.0 373.8L411.6 373.9L412.2 373.8L412.9 373.8L413.5 373.8L414.1 373.8L414.7 373.6L415.4 373.8L416.0 373.8L416.6 373.9L417.2 373.9L417.9 373.9L418.5 373.7L419.1 373.5L419.7 373.6L420.4 373.7L421.0 373.7L421.6 373.7L422.2 373.9L422.9 374.0L423.5 373.8L424.1 373.8L424.7 373.7L425.4 373.8L426.0 373.8L426.6 373.8L427.2 373.8L427.9 373.7L428.5 373.8L429.1 373.9L429.7 373.9L430.4 373.8L431.0 373.6L431.6 373.7L432.2 373.7L432.9 373.7L433.5 373.6L434.1 373.7L434.7 373.9L435.4 373.9L436.0 373.8L436.6 373.6L437.2 373.6L437.9 373.6L438.5 373.7L439.1 373.6L439.7 373.8L440.4 373.9L441.0 373.9L441.6 373.9L442.2 373.9L442.9 373.8L443.5 373.6L444.1 373.7L444.7 373.8L445.4 373.9L446.0 373.8L446 374Z" fill="#1f6fb2"/>
<line x1="290.3" y1="379.8" x2="446" y2="379.8" stroke="#e9a0a0" stroke-width="0.5"/>
<path d="M290.3 379.8L290.3 379.7L290.9 379.6L291.6 379.7L292.2 379.6L292.8 379.6L293.4 379.5L294.1 379.6L294.7 379.4L295.3 379.5L295.9 379.5L296.6 379.5L297.2 379.3L297.8 379.1L298.4 379.0L299.1 379.2L299.7 379.3L300.3 379.4L300.9 379.4L301.6 379.3L302.2 379.3L302.8 379.3L303.4 379.2L304.1 379.1L304.7 378.9L305.3 379.0L305.9 379.1L306.6 379.1L307.2 379.2L307.8 379.1L308.4 379.1L309.1 379.1L309.7 379.2L310.3 379.2L310.9 379.2L311.6 379.2L312.2 379.2L312.8 379.4L313.4 379.4L314.1 379.4L314.7 379.3L315.3 379.2L315.9 379.3L316.6 379.5L317.2 379.5L317.8 379.6L318.4 379.4L319.1 379.3L319.7 379.3L320.3 379.4L320.9 379.5L321.6 379.5L322.2 379.4L322.8 379.2L323.4 379.0L324.1 379.1L324.7 379.2L325.3 379.0L325.9 378.7L326.6 378.4L327.2 378.3L327.8 377.9L328.4 377.7L329.1 377.5L329.7 377.7L330.3 377.6L330.9 377.5L331.6 377.4L332.2 377.2L332.8 377.4L333.4 377.1L334.1 377.0L334.7 376.6L335.3 376.7L335.9 376.8L336.6 376.7L337.2 376.2L337.8 375.8L338.4 375.7L339.1 375.8L339.7 375.6L340.3 375.5L340.9 375.1L341.6 375.2L342.2 375.1L342.8 375.4L343.5 375.0L344.1 375.0L344.7 374.8L345.3 374.6L346.0 374.3L346.6 373.9L347.2 374.3L347.8 373.7L348.5 373.5L349.1 373.2L349.7 374.0L350.3 374.2L351.0 374.7L351.6 374.4L352.2 374.9L352.8 374.9L353.5 375.3L354.1 375.4L354.7 375.2L355.3 374.9L356.0 374.9L356.6 375.5L357.2 376.0L357.8 376.1L358.5 376.1L359.1 375.9L359.7 376.3L360.3 376.2L361.0 377.0L361.6 376.9L362.2 377.5L362.8 377.2L363.5 377.5L364.1 377.4L364.7 377.5L365.3 377.4L366.0 377.3L366.6 377.4L367.2 377.5L367.8 377.7L368.5 377.7L369.1 377.9L369.7 378.0L370.3 378.4L371.0 378.6L371.6 378.6L372.2 378.7L372.8 378.7L373.5 378.9L374.1 378.8L374.7 379.0L375.3 378.9L376.0 379.0L376.6 379.0L377.2 379.2L377.8 379.2L378.5 379.4L379.1 379.3L379.7 379.4L380.3 379.5L381.0 379.6L381.6 379.7L382.2 379.5L382.8 379.5L383.5 379.4L384.1 379.6L384.7 379.6L385.3 379.7L386.0 379.5L386.6 379.5L387.2 379.5L387.8 379.5L388.5 379.6L389.1 379.6L389.7 379.6L390.3 379.5L391.0 379.5L391.6 379.6L392.2 379.6L392.8 379.6L393.5 379.4L394.1 379.4L394.7 379.2L395.4 379.3L396.0 379.3L396.6 379.4L397.2 379.5L397.9 379.5L398.5 379.6L399.1 379.5L399.7 379.7L400.4 379.5L401.0 379.5L401.6 379.5L402.2 379.4L402.9 379.4L403.5 379.5L404.1 379.4L404.7 379.4L405.4 379.5L406.0 379.6L406.6 379.5L407.2 379.4L407.9 379.4L408.5 379.4L409.1 379.5L409.7 379.4L410.4 379.3L411.0 379.2L411.6 379.4L412.2 379.3L412.9 379.5L413.5 379.5L414.1 379.4L414.7 379.3L415.4 379.2L416.0 379.2L416.6 379.4L417.2 379.3L417.9 379.2L418.5 379.3L419.1 379.3L419.7 379.4L420.4 379.4L421.0 379.5L421.6 379.3L422.2 379.3L422.9 379.3L423.5 379.3L424.1 379.3L424.7 379.1L425.4 379.2L426.0 379.2L426.6 379.3L427.2 379.4L427.9 379.5L428.5 379.5L429.1 379.4L429.7 379.3L430.4 379.4L431.0 379.4L431.6 379.6L432.2 379.6L432.9 379.6L433.5 379.5L434.1 379.3L434.7 379.3L435.4 379.4L436.0 379.5L436.6 379.5L437.2 379.5L437.9 379.5L438.5 379.6L439.1 379.5L439.7 379.6L440.4 379.6L441.0 379.6L441.6 379.6L442.2 379.7L442.9 379.6L443.5 379.5L444.1 379.4L444.7 379.4L445.4 379.4L446.0 379.3L446 379.8Z" fill="#d7232e"/>
<line x1="290.3" y1="385.6" x2="446" y2="385.6" stroke="#9cc3e2" stroke-width="0.5"/>
<path d="M290.3 385.6L290.3 385.3L290.9 385.2L291.6 385.2L292.2 385.2L292.8 385.3L293.4 385.1L294.1 385.2L294.7 385.3L295.3 385.3L295.9 385.3L296.6 385.0L297.2 384.9L297.8 384.8L298.4 384.6L299.1 384.5L299.7 384.0L300.3 384.3L300.9 384.2L301.6 384.4L302.2 384.4L302.8 384.6L303.4 384.9L304.1 385.0L304.7 385.0L305.3 385.1L305.9 385.1L306.6 385.3L307.2 385.2L307.8 385.1L308.4 385.1L309.1 385.2L309.7 385.3L310.3 385.3L310.9 385.1L311.6 384.9L312.2 385.1L312.8 385.3L313.4 385.3L314.1 385.4L314.7 385.2L315.3 385.4L315.9 385.3L316.6 385.3L317.2 385.1L317.8 385.1L318.4 385.2L319.1 385.3L319.7 385.2L320.3 385.3L320.9 385.4L321.6 385.5L322.2 385.3L322.8 385.1L323.4 385.1L324.1 385.1L324.7 384.9L325.3 384.4L325.9 383.9L326.6 383.7L327.2 383.4L327.8 382.9L328.4 382.6L329.1 382.5L329.7 382.8L330.3 382.8L330.9 382.8L331.6 383.0L332.2 383.2L332.8 383.2L333.4 383.4L334.1 383.6L334.7 383.9L335.3 383.9L335.9 383.4L336.6 382.9L337.2 382.4L337.8 382.9L338.4 383.1L339.1 383.2L339.7 383.3L340.3 383.7L340.9 384.0L341.6 384.0L342.2 384.0L342.8 383.9L343.5 383.6L344.1 383.1L344.7 382.6L345.3 382.3L346.0 382.4L346.6 382.4L347.2 382.7L347.8 382.6L348.5 382.9L349.1 382.7L349.7 383.0L350.3 383.1L351.0 383.5L351.6 383.5L352.2 383.4L352.8 383.3L353.5 382.9L354.1 382.9L354.7 382.7L355.3 382.8L356.0 383.2L356.6 383.2L357.2 383.7L357.8 383.5L358.5 384.1L359.1 384.1L359.7 384.3L360.3 384.1L361.0 384.3L361.6 384.3L362.2 384.2L362.8 384.0L363.5 383.6L364.1 383.5L364.7 383.1L365.3 383.2L366.0 383.5L366.6 383.7L367.2 384.2L367.8 384.4L368.5 384.7L369.1 384.5L369.7 384.5L370.3 384.5L371.0 384.6L371.6 384.6L372.2 384.7L372.8 384.8L373.5 384.8L374.1 384.7L374.7 384.6L375.3 384.5L376.0 384.5L376.6 384.3L377.2 384.3L377.8 384.2L378.5 384.4L379.1 384.5L379.7 384.5L380.3 384.7L381.0 384.6L381.6 384.6L382.2 384.6L382.8 384.9L383.5 385.0L384.1 384.9L384.7 384.8L385.3 384.8L386.0 384.6L386.6 384.7L387.2 384.8L387.8 385.0L388.5 385.0L389.1 385.1L389.7 385.1L390.3 385.3L391.0 385.2L391.6 385.2L392.2 385.1L392.8 385.1L393.5 385.1L394.1 385.3L394.7 385.3L395.4 385.4L396.0 385.2L396.6 385.3L397.2 385.2L397.9 385.1L398.5 385.0L399.1 385.3L399.7 385.4L400.4 385.5L401.0 385.3L401.6 385.2L402.2 385.3L402.9 385.3L403.5 385.5L404.1 385.4L404.7 385.5L405.4 385.5L406.0 385.4L406.6 385.2L407.2 385.2L407.9 385.3L408.5 385.3L409.1 385.1L409.7 384.9L410.4 385.0L411.0 385.2L411.6 385.4L412.2 385.5L412.9 385.5L413.5 385.5L414.1 385.4L414.7 385.5L415.4 385.2L416.0 385.2L416.6 385.0L417.2 385.2L417.9 385.2L418.5 385.1L419.1 385.1L419.7 385.2L420.4 385.2L421.0 385.2L421.6 385.3L422.2 385.3L422.9 385.5L423.5 385.4L424.1 385.5L424.7 385.3L425.4 385.4L426.0 385.2L426.6 385.3L427.2 385.3L427.9 385.3L428.5 385.3L429.1 385.3L429.7 385.3L430.4 385.4L431.0 385.4L431.6 385.3L432.2 385.1L432.9 384.9L433.5 385.1L434.1 385.2L434.7 385.2L435.4 385.1L436.0 385.0L436.6 385.2L437.2 385.1L437.9 385.3L438.5 385.2L439.1 385.4L439.7 385.4L440.4 385.5L441.0 385.3L441.6 385.3L442.2 385.2L442.9 385.4L443.5 385.2L444.1 385.3L444.7 385.2L445.4 385.4L446.0 385.4L446 385.6Z" fill="#1f6fb2"/>
<line x1="290.3" y1="391.4" x2="446" y2="391.4" stroke="#e9a0a0" stroke-width="0.5"/>
<path d="M290.3 391.4L290.3 391.0L290.9 390.6L291.6 390.0L292.2 389.4L292.8 388.8L293.4 388.8L294.1 388.8L294.7 388.7L295.3 388.2L295.9 388.1L296.6 387.8L297.2 388.1L297.8 387.8L298.4 388.0L299.1 388.0L299.7 388.2L300.3 388.1L300.9 387.8L301.6 387.8L302.2 387.4L302.8 387.4L303.4 387.3L304.1 387.9L304.7 387.5L305.3 387.4L305.9 387.1L306.6 387.7L307.2 388.3L307.8 388.9L308.4 389.0L309.1 388.6L309.7 387.8L310.3 388.0L310.9 388.3L311.6 388.7L312.2 388.6L312.8 388.1L313.4 387.7L314.1 387.4L314.7 388.0L315.3 388.7L315.9 388.9L316.6 388.8L317.2 389.0L317.8 389.5L318.4 389.9L319.1 389.8L319.7 389.5L320.3 389.2L320.9 389.5L321.6 389.9L322.2 390.3L322.8 390.2L323.4 389.9L324.1 390.2L324.7 390.5L325.3 390.7L325.9 390.3L326.6 389.8L327.2 389.0L327.8 388.8L328.4 388.1L329.1 387.8L329.7 387.7L330.3 387.6L330.9 387.8L331.6 388.1L332.2 388.4L332.8 388.5L333.4 388.0L334.1 388.0L334.7 388.0L335.3 387.7L335.9 387.2L336.6 387.2L337.2 387.2L337.8 387.2L338.4 387.0L339.1 386.9L339.7 387.4L340.3 387.1L340.9 387.4L341.6 387.5L342.2 387.9L342.8 388.1L343.5 387.6L344.1 387.2L344.7 386.8L345.3 386.7L346.0 386.7L346.6 386.1L347.2 386.5L347.8 386.2L348.5 387.3L349.1 387.5L349.7 388.4L350.3 388.3L351.0 387.8L351.6 387.2L352.2 387.4L352.8 387.6L353.5 387.8L354.1 387.8L354.7 388.1L355.3 388.0L356.0 388.3L356.6 388.4L357.2 389.0L357.8 389.5L358.5 390.3L359.1 390.5L359.7 390.6L360.3 390.4L361.0 390.7L361.6 390.7L362.2 390.6L362.8 390.4L363.5 390.0L364.1 389.9L364.7 389.7L365.3 389.6L366.0 389.5L366.6 389.3L367.2 389.3L367.8 389.1L368.5 389.2L369.1 389.4L369.7 389.2L370.3 388.7L371.0 388.6L371.6 388.3L372.2 388.2L372.8 387.9L373.5 388.4L374.1 388.5L374.7 388.6L375.3 388.5L376.0 388.9L376.6 388.9L377.2 388.9L377.8 388.7L378.5 388.9L379.1 389.1L379.7 389.2L380.3 389.3L381.0 388.9L381.6 389.0L382.2 389.0L382.8 389.1L383.5 389.1L384.1 389.3L384.7 389.8L385.3 389.9L386.0 389.4L386.6 388.9L387.2 388.7L387.8 388.9L388.5 389.2L389.1 389.0L389.7 388.8L390.3 388.7L391.0 389.4L391.6 389.6L392.2 389.8L392.8 389.5L393.5 389.9L394.1 390.1L394.7 390.0L395.4 390.0L396.0 389.5L396.6 389.7L397.2 389.5L397.9 389.6L398.5 389.6L399.1 390.1L399.7 390.5L400.4 390.7L401.0 390.8L401.6 390.8L402.2 390.8L402.9 390.6L403.5 390.9L404.1 390.9L404.7 390.9L405.4 390.8L406.0 391.0L406.6 391.1L407.2 391.1L407.9 391.1L408.5 391.1L409.1 391.2L409.7 391.1L410.4 391.1L411.0 390.9L411.6 391.0L412.2 391.0L412.9 391.0L413.5 391.0L414.1 391.0L414.7 391.2L415.4 391.1L416.0 391.2L416.6 391.0L417.2 391.1L417.9 391.0L418.5 391.0L419.1 391.1L419.7 391.0L420.4 390.8L421.0 390.5L421.6 390.5L422.2 390.5L422.9 390.6L423.5 390.6L424.1 390.9L424.7 390.8L425.4 390.8L426.0 390.5L426.6 390.4L427.2 390.6L427.9 390.6L428.5 390.5L429.1 390.3L429.7 390.6L430.4 390.5L431.0 390.5L431.6 390.5L432.2 390.5L432.9 390.9L433.5 390.7L434.1 390.9L434.7 390.6L435.4 390.7L436.0 390.5L436.6 390.6L437.2 390.5L437.9 390.9L438.5 391.1L439.1 391.3L439.7 391.1L440.4 390.8L441.0 390.7L441.6 391.0L442.2 391.2L442.9 391.2L443.5 391.1L444.1 391.0L444.7 390.9L445.4 390.8L446.0 390.7L446 391.4Z" fill="#d7232e"/>
<path d="M290.3 397.4L290.3 397.2L290.9 397.2L291.6 397.2L292.2 397.4L292.8 397.4L293.4 397.4L294.1 397.2L294.7 397.2L295.3 397.4L295.9 397.4L296.6 397.4L297.2 397.4L297.8 397.4L298.4 397.4L299.1 397.4L299.7 397.4L300.3 397.4L300.9 397.4L301.6 397.4L302.2 397.4L302.8 397.4L303.4 397.2L304.1 397.2L304.7 397.2L305.3 397.2L305.9 397.2L306.6 397.4L307.2 397.4L307.8 397.4L308.4 397.4L309.1 397.4L309.7 397.4L310.3 397.4L310.9 397.4L311.6 397.4L312.2 397.2L312.8 397.2L313.4 397.1L314.1 397.2L314.7 397.4L315.3 397.4L315.9 397.4L316.6 397.4L317.2 397.2L317.8 397.0L318.4 396.9L319.1 396.7L319.7 396.6L320.3 396.7L320.9 396.8L321.6 397.0L322.2 397.1L322.8 397.0L323.4 397.0L324.1 396.8L324.7 396.7L325.3 396.5L325.9 396.2L326.6 395.9L327.2 395.8L327.8 395.6L328.4 395.6L329.1 395.8L329.7 396.1L330.3 396.4L330.9 396.4L331.6 396.2L332.2 396.0L332.8 395.7L333.4 395.5L334.1 395.4L334.7 395.6L335.3 395.9L335.9 396.0L336.6 395.8L337.2 396.0L337.8 396.1L338.4 396.1L339.1 395.9L339.7 395.9L340.3 395.8L340.9 395.9L341.6 396.1L342.2 396.5L342.8 396.8L343.5 397.0L344.1 397.1L344.7 397.0L345.3 397.1L346.0 397.2L346.6 397.4L347.2 397.4L347.8 397.4L348.5 397.2L349.1 397.2L349.7 397.2L350.3 397.1L351.0 397.2L351.6 397.4L352.2 397.4L352.8 397.4L353.5 397.4L354.1 397.4L354.7 397.4L355.3 397.4L356.0 397.4L356.6 397.4L357.2 397.2L357.8 397.0L358.5 397.0L359.1 397.0L359.7 397.1L360.3 397.2L361.0 397.2L361.6 397.2L362.2 397.2L362.8 397.1L363.5 397.0L364.1 397.0L364.7 396.8L365.3 396.4L366.0 395.8L366.6 395.5L367.2 395.2L367.8 395.2L368.5 395.2L369.1 395.6L369.7 396.0L370.3 396.3L371.0 396.3L371.6 396.2L372.2 396.2L372.8 396.2L373.5 396.1L374.1 395.9L374.7 396.1L375.3 396.2L376.0 396.3L376.6 396.5L377.2 396.5L377.8 396.6L378.5 396.6L379.1 396.5L379.7 396.2L380.3 396.1L381.0 396.1L381.6 396.2L382.2 396.3L382.8 396.3L383.5 396.6L384.1 396.9L384.7 397.1L385.3 397.2L386.0 397.4L386.6 397.1L387.2 397.1L387.8 397.2L388.5 397.1L389.1 397.0L389.7 396.7L390.3 396.5L391.0 396.3L391.6 396.2L392.2 396.1L392.8 396.1L393.5 396.3L394.1 396.5L394.7 396.6L395.4 396.5L396.0 396.6L396.6 396.6L397.2 396.6L397.9 396.5L398.5 396.3L399.1 396.2L399.7 396.2L400.4 396.4L401.0 396.5L401.6 396.5L402.2 396.5L402.9 396.5L403.5 396.6L404.1 396.9L404.7 397.0L405.4 397.1L406.0 397.0L406.6 397.0L407.2 397.0L407.9 396.9L408.5 396.9L409.1 396.8L409.7 396.8L410.4 396.7L411.0 396.4L411.6 396.5L412.2 396.4L412.9 396.4L413.5 396.5L414.1 396.6L414.7 396.8L415.4 396.9L416.0 397.0L416.6 397.1L417.2 397.0L417.9 397.0L418.5 397.0L419.1 396.9L419.7 397.0L420.4 397.1L421.0 397.2L421.6 397.1L422.2 397.2L422.9 397.1L423.5 397.0L424.1 396.8L424.7 396.6L425.4 396.8L426.0 396.8L426.6 396.8L427.2 396.6L427.9 396.5L428.5 396.6L429.1 396.7L429.7 396.8L430.4 396.7L431.0 396.8L431.6 396.8L432.2 397.0L432.9 396.9L433.5 397.1L434.1 397.2L434.7 397.3L435.4 397.3L436.0 397.2L436.6 397.4L437.2 397.4L437.9 397.4L438.5 397.4L439.1 397.4L439.7 397.4L440.4 397.4L441.0 397.1L441.6 397.2L442.2 397.4L442.9 397.4L443.5 397.2L444.1 397.1L444.7 397.2L445.4 397.4L446.0 397.4L446 397.4Z" fill="#1f6fb2"/>
<line x1="290.3" y1="403.5" x2="446" y2="403.5" stroke="#f0b4b4" stroke-width="0.4"/>
<path d="M290.3 403.5L290.3 403.5L290.9 403.4L291.6 403.3L292.2 403.3L292.8 403.2L293.4 403.2L294.1 403.1L294.7 403.1L295.3 403.0L295.9 402.9L296.6 402.9L297.2 403.0L297.8 402.8L298.4 402.8L299.1 402.7L299.7 402.7L300.3 402.8L300.9 402.9L301.6 402.9L302.2 402.9L302.8 402.9L303.4 403.0L304.1 403.0L304.7 403.0L305.3 403.0L305.9 403.1L306.6 403.0L307.2 402.9L307.8 402.9L308.4 402.8L309.1 402.8L309.7 402.8L310.3 402.7L310.9 402.6L311.6 402.5L312.2 402.5L312.8 402.6L313.4 402.6L314.1 402.7L314.7 402.8L315.3 403.0L315.9 403.1L316.6 403.2L317.2 403.2L317.8 403.3L318.4 403.3L319.1 403.5L319.7 403.3L320.3 403.5L320.9 403.5L321.6 403.5L322.2 403.5L322.8 403.5L323.4 403.5L324.1 403.5L324.7 403.5L325.3 403.5L325.9 403.5L326.6 403.5L327.2 403.5L327.8 402.9L328.4 402.4L329.1 401.7L329.7 401.0L330.3 400.2L330.9 399.1L331.6 398.6L332.2 398.8L332.8 399.8L333.4 401.0L334.1 401.3L334.7 401.6L335.3 401.5L335.9 401.6L336.6 401.9L337.2 402.3L337.8 402.7L338.4 402.9L339.1 403.0L339.7 403.2L340.3 403.2L340.9 403.2L341.6 403.0L342.2 402.7L342.8 402.4L343.5 402.1L344.1 401.9L344.7 401.7L345.3 401.7L346.0 401.6L346.6 401.7L347.2 401.9L347.8 402.2L348.5 402.2L349.1 402.1L349.7 402.1L350.3 402.3L351.0 402.3L351.6 402.3L352.2 402.0L352.8 402.0L353.5 401.9L354.1 402.0L354.7 401.9L355.3 401.9L356.0 401.9L356.6 402.0L357.2 402.0L357.8 402.0L358.5 401.8L359.1 401.8L359.7 401.7L360.3 401.8L361.0 401.7L361.6 401.7L362.2 401.5L362.8 401.7L363.5 401.8L364.1 401.9L364.7 402.0L365.3 402.3L366.0 402.5L366.6 402.7L367.2 402.9L367.8 402.8L368.5 402.8L369.1 402.7L369.7 402.6L370.3 402.4L371.0 402.4L371.6 402.6L372.2 402.7L372.8 402.9L373.5 403.0L374.1 403.1L374.7 403.1L375.3 403.2L376.0 403.5L376.6 403.5L377.2 403.5L377.8 403.3L378.5 403.5L379.1 403.3L379.7 403.3L380.3 403.3L381.0 403.3L381.6 403.3L382.2 403.5L382.8 403.5L383.5 403.5L384.1 403.5L384.7 403.3L385.3 403.5L386.0 403.5L386.6 403.5L387.2 403.5L387.8 403.3L388.5 403.2L389.1 403.0L389.7 402.7L390.3 402.3L391.0 402.2L391.6 402.3L392.2 402.4L392.8 402.4L393.5 402.1L394.1 401.8L394.7 401.6L395.4 401.4L396.0 401.3L396.6 401.4L397.2 402.0L397.9 402.5L398.5 403.0L399.1 403.2L399.7 403.5L400.4 403.3L401.0 403.3L401.6 403.2L402.2 403.3L402.9 403.3L403.5 403.5L404.1 403.5L404.7 403.5L405.4 403.5L406.0 403.5L406.6 403.5L407.2 403.5L407.9 403.5L408.5 403.5L409.1 403.5L409.7 403.5L410.4 403.5L411.0 403.5L411.6 403.5L412.2 403.5L412.9 403.3L413.5 403.3L414.1 403.3L414.7 403.3L415.4 403.3L416.0 403.4L416.6 403.3L417.2 403.3L417.9 403.3L418.5 403.5L419.1 403.5L419.7 403.5L420.4 403.3L421.0 403.3L421.6 403.3L422.2 403.2L422.9 403.0L423.5 403.0L424.1 403.0L424.7 402.9L425.4 402.9L426.0 403.0L426.6 403.1L427.2 403.2L427.9 403.3L428.5 403.3L429.1 403.4L429.7 403.3L430.4 403.3L431.0 403.3L431.6 403.3L432.2 403.3L432.9 403.3L433.5 403.5L434.1 403.5L434.7 403.5L435.4 403.5L436.0 403.5L436.6 403.5L437.2 403.5L437.9 403.5L438.5 403.5L439.1 403.5L439.7 403.4L440.4 403.5L441.0 403.5L441.6 403.5L442.2 403.5L442.9 403.5L443.5 403.5L444.1 403.5L444.7 403.5L445.4 403.5L446.0 403.5L446 403.5Z" fill="#d7232e"/>
<rect x="448" y="357.0" width="10" height="5.5" fill="#fff" stroke="#bcd" stroke-width="0.4"/>
<text x="453.0" y="361.09999999999997" font-size="3" font-weight="normal" fill="#aaa" text-anchor="middle" stroke="#aaa" stroke-width="0.04">[0 - 8]</text>
<rect x="448" y="362.6" width="10" height="5.5" fill="#fff" stroke="#ecc" stroke-width="0.4"/>
<text x="453.0" y="366.7" font-size="3" font-weight="normal" fill="#aaa" text-anchor="middle" stroke="#aaa" stroke-width="0.04">[0 - 8]</text>
<rect x="445" y="368.6" width="13" height="5.5" fill="#fff" stroke="#bcd" stroke-width="0.4"/>
<text x="451.5" y="372.7" font-size="3" font-weight="normal" fill="#aaa" text-anchor="middle" stroke="#aaa" stroke-width="0.04">[0 - 28]</text>
<rect x="445" y="374.40000000000003" width="13" height="5.5" fill="#fff" stroke="#ecc" stroke-width="0.4"/>
<text x="451.5" y="378.5" font-size="3" font-weight="normal" fill="#aaa" text-anchor="middle" stroke="#aaa" stroke-width="0.04">[0 - 28]</text>
<rect x="445" y="380.20000000000005" width="13" height="5.5" fill="#fff" stroke="#bcd" stroke-width="0.4"/>
<text x="451.5" y="384.3" font-size="3" font-weight="normal" fill="#aaa" text-anchor="middle" stroke="#aaa" stroke-width="0.04">[0 - 15]</text>
<rect x="445" y="386.0" width="13" height="5.5" fill="#fff" stroke="#ecc" stroke-width="0.4"/>
<text x="451.5" y="390.09999999999997" font-size="3" font-weight="normal" fill="#aaa" text-anchor="middle" stroke="#aaa" stroke-width="0.04">[0 - 15]</text>
<rect x="445" y="392.0" width="13" height="5.5" fill="#fff" stroke="#bcd" stroke-width="0.4"/>
<text x="451.5" y="396.09999999999997" font-size="3" font-weight="normal" fill="#aaa" text-anchor="middle" stroke="#aaa" stroke-width="0.04">[0 - 15]</text>
<rect x="445" y="398.1" width="13" height="5.5" fill="#fff" stroke="#ecc" stroke-width="0.4"/>
<text x="451.5" y="402.2" font-size="3" font-weight="normal" fill="#aaa" text-anchor="middle" stroke="#aaa" stroke-width="0.04">[0 - 15]</text>
<line x1="290.5" y1="405.3" x2="446" y2="405.3" stroke="#1a237e" stroke-width="0.5"/>
<rect x="290.5" y="404.6" width="9" height="1.5" fill="#10186a"/><rect x="299" y="403.8" width="5.5" height="3" fill="#10186a"/>
<rect x="331" y="403.9" width="1.6" height="2.8" fill="#10186a"/><path d="M333 403.7 l2.4 1.6 l-2.4 1.6z" fill="#10186a"/>
<rect x="431.5" y="403.7" width="2.6" height="3.2" fill="#10186a"/>
</svg></body></html>
